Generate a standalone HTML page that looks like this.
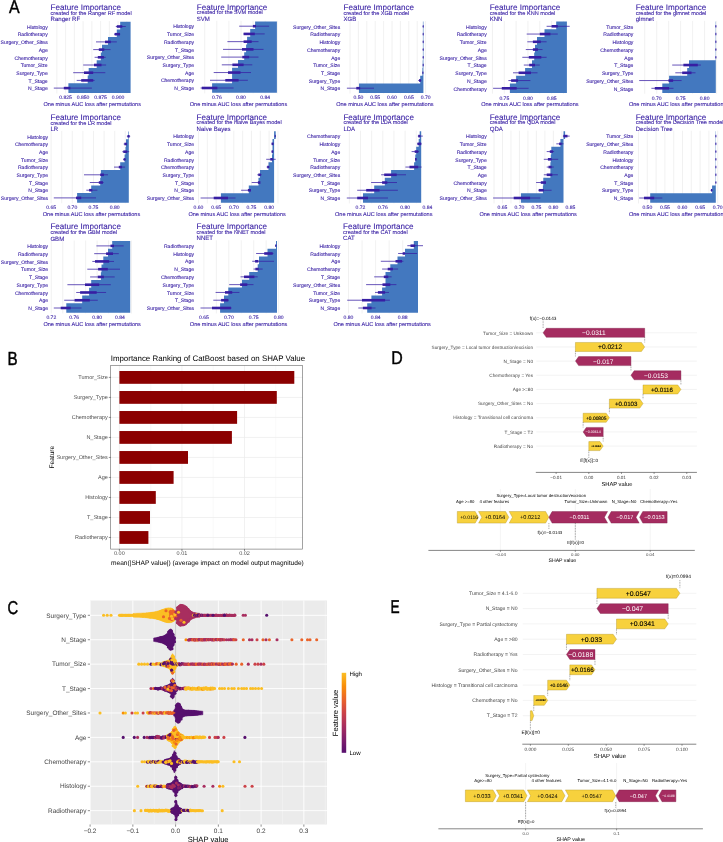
<!DOCTYPE html>
<html><head><meta charset="utf-8"><style>
html,body{margin:0;padding:0;background:#fff;width:723px;height:842px;overflow:hidden}
svg{display:block;will-change:transform;filter:blur(0.35px)}
text{text-rendering:geometricPrecision}
</style></head><body>
<svg width="723" height="842" viewBox="0 0 723 842">
<rect width="723" height="842" fill="#fff"/>
<g font-family='"Liberation Sans", sans-serif'>
<line x1="56.85" y1="21.1" x2="56.85" y2="93.5" stroke="#e5e5e5" stroke-width="0.55"/>
<line x1="65.6" y1="21.1" x2="65.6" y2="93.5" stroke="#e5e5e5" stroke-width="0.55"/>
<line x1="74.35" y1="21.1" x2="74.35" y2="93.5" stroke="#e5e5e5" stroke-width="0.55"/>
<line x1="83.1" y1="21.1" x2="83.1" y2="93.5" stroke="#e5e5e5" stroke-width="0.55"/>
<line x1="91.85" y1="21.1" x2="91.85" y2="93.5" stroke="#e5e5e5" stroke-width="0.55"/>
<line x1="100.6" y1="21.1" x2="100.6" y2="93.5" stroke="#e5e5e5" stroke-width="0.55"/>
<line x1="109.35" y1="21.1" x2="109.35" y2="93.5" stroke="#e5e5e5" stroke-width="0.55"/>
<line x1="118.1" y1="21.1" x2="118.1" y2="93.5" stroke="#e5e5e5" stroke-width="0.55"/>
<line x1="126.85" y1="21.1" x2="126.85" y2="93.5" stroke="#e5e5e5" stroke-width="0.55"/>
<polygon points="130.6,21.7 130.6,29.4 130.6,29.4 130.6,37.1 130.6,37.1 130.6,44.8 130.6,44.8 130.6,52.5 130.6,52.5 130.6,60.2 130.6,60.2 130.6,67.9 130.6,67.9 130.6,75.6 130.6,75.6 130.6,83.3 130.6,83.3 130.6,92.9 68.4,92.9 68.4,83.3 87.7,83.3 87.7,75.6 88.7,75.6 88.7,67.9 96.7,67.9 96.7,60.2 100.9,60.2 100.9,52.5 102,52.5 102,44.8 108,44.8 108,37.1 116.8,37.1 116.8,29.4 120.2,29.4 120.2,21.7" fill="#4378bf"/>
<line x1="115.8" y1="26.5" x2="125.8" y2="26.5" stroke="#371ea3" stroke-width="0.75"/>
<rect x="116.8" y="25.2" width="5.5" height="2.6" fill="#371ea3"/>
<line x1="114" y1="34.2" x2="120.2" y2="34.2" stroke="#371ea3" stroke-width="0.75"/>
<rect x="114.7" y="32.9" width="5.3" height="2.6" fill="#371ea3"/>
<line x1="96" y1="41.9" x2="116.8" y2="41.9" stroke="#371ea3" stroke-width="0.75"/>
<rect x="105" y="40.6" width="5.8" height="2.6" fill="#371ea3"/>
<line x1="93.2" y1="49.6" x2="110.5" y2="49.6" stroke="#371ea3" stroke-width="0.75"/>
<rect x="98.8" y="48.3" width="5.5" height="2.6" fill="#371ea3"/>
<line x1="94.6" y1="57.3" x2="105.7" y2="57.3" stroke="#371ea3" stroke-width="0.75"/>
<rect x="97.8" y="56" width="6.1" height="2.6" fill="#371ea3"/>
<line x1="83.2" y1="65" x2="106.1" y2="65" stroke="#371ea3" stroke-width="0.75"/>
<rect x="94" y="63.7" width="7.5" height="2.6" fill="#371ea3"/>
<line x1="73.2" y1="72.7" x2="105.3" y2="72.7" stroke="#371ea3" stroke-width="0.75"/>
<rect x="84" y="71.4" width="9.2" height="2.6" fill="#371ea3"/>
<line x1="76.7" y1="80.4" x2="94.6" y2="80.4" stroke="#371ea3" stroke-width="0.75"/>
<rect x="81.2" y="79.1" width="12" height="2.6" fill="#371ea3"/>
<line x1="53.8" y1="88.1" x2="91.9" y2="88.1" stroke="#371ea3" stroke-width="0.75"/>
<rect x="63.8" y="86.8" width="6.6" height="2.6" fill="#371ea3"/>
<text x="47.7" y="28.7" font-size="5.05" fill="#371ea3" text-anchor="end" stroke="#371ea3" stroke-width="0.1">Histology</text>
<text x="47.7" y="36.4" font-size="5.05" fill="#371ea3" text-anchor="end" stroke="#371ea3" stroke-width="0.1">Radiotherapy</text>
<text x="47.7" y="44.1" font-size="5.05" fill="#371ea3" text-anchor="end" stroke="#371ea3" stroke-width="0.1">Surgery_Other_Sites</text>
<text x="47.7" y="51.8" font-size="5.05" fill="#371ea3" text-anchor="end" stroke="#371ea3" stroke-width="0.1">Age</text>
<text x="47.7" y="59.5" font-size="5.05" fill="#371ea3" text-anchor="end" stroke="#371ea3" stroke-width="0.1">Chemotherapy</text>
<text x="47.7" y="67.2" font-size="5.05" fill="#371ea3" text-anchor="end" stroke="#371ea3" stroke-width="0.1">Tumor_Size</text>
<text x="47.7" y="74.9" font-size="5.05" fill="#371ea3" text-anchor="end" stroke="#371ea3" stroke-width="0.1">Surgery_Type</text>
<text x="47.7" y="82.6" font-size="5.05" fill="#371ea3" text-anchor="end" stroke="#371ea3" stroke-width="0.1">T_Stage</text>
<text x="47.7" y="90.3" font-size="5.05" fill="#371ea3" text-anchor="end" stroke="#371ea3" stroke-width="0.1">N_Stage</text>
<text x="65.6" y="99.3" font-size="5.05" fill="#371ea3" text-anchor="middle" stroke="#371ea3" stroke-width="0.1">0.825</text>
<text x="83.1" y="99.3" font-size="5.05" fill="#371ea3" text-anchor="middle" stroke="#371ea3" stroke-width="0.1">0.850</text>
<text x="100.6" y="99.3" font-size="5.05" fill="#371ea3" text-anchor="middle" stroke="#371ea3" stroke-width="0.1">0.875</text>
<text x="118.1" y="99.3" font-size="5.05" fill="#371ea3" text-anchor="middle" stroke="#371ea3" stroke-width="0.1">0.900</text>
<text x="92.2" y="106.2" font-size="5.56" fill="#371ea3" text-anchor="middle" stroke="#371ea3" stroke-width="0.1">One minus AUC loss after permutations</text>
<text x="50.6" y="9.9" font-size="8.08" fill="#371ea3" stroke="#371ea3" stroke-width="0.1">Feature Importance</text>
<text x="50.6" y="14.7" font-size="5.56" fill="#371ea3" stroke="#371ea3" stroke-width="0.1">created for the Ranger RF model</text>
<text x="50.6" y="21.2" font-size="6.06" fill="#371ea3" stroke="#371ea3" stroke-width="0.1">Ranger RF</text>
<line x1="204.7" y1="20.8" x2="204.7" y2="93.4" stroke="#e5e5e5" stroke-width="0.55"/>
<line x1="216.8" y1="20.8" x2="216.8" y2="93.4" stroke="#e5e5e5" stroke-width="0.55"/>
<line x1="228.9" y1="20.8" x2="228.9" y2="93.4" stroke="#e5e5e5" stroke-width="0.55"/>
<line x1="241" y1="20.8" x2="241" y2="93.4" stroke="#e5e5e5" stroke-width="0.55"/>
<line x1="253.1" y1="20.8" x2="253.1" y2="93.4" stroke="#e5e5e5" stroke-width="0.55"/>
<line x1="265.2" y1="20.8" x2="265.2" y2="93.4" stroke="#e5e5e5" stroke-width="0.55"/>
<line x1="277.3" y1="20.8" x2="277.3" y2="93.4" stroke="#e5e5e5" stroke-width="0.55"/>
<polygon points="276.9,21.4 276.9,29.12 276.9,29.12 276.9,36.85 276.9,36.85 276.9,44.58 276.9,44.58 276.9,52.3 276.9,52.3 276.9,60.02 276.9,60.02 276.9,67.75 276.9,67.75 276.9,75.47 276.9,75.47 276.9,83.2 276.9,83.2 276.9,92.8 212.1,92.8 212.1,83.2 232.1,83.2 232.1,75.47 232.1,75.47 232.1,67.75 238,67.75 238,60.02 244.2,60.02 244.2,52.3 246.1,52.3 246.1,44.58 247.1,44.58 247.1,36.85 250.2,36.85 250.2,29.12 255.1,29.12 255.1,21.4" fill="#4378bf"/>
<line x1="239.2" y1="26.2" x2="269.1" y2="26.2" stroke="#371ea3" stroke-width="0.75"/>
<rect x="252.9" y="24.9" width="3.1" height="2.6" fill="#371ea3"/>
<line x1="243.6" y1="33.92" x2="264.7" y2="33.92" stroke="#371ea3" stroke-width="0.75"/>
<rect x="243.6" y="32.62" width="11.2" height="2.6" fill="#371ea3"/>
<line x1="227.4" y1="41.65" x2="258.5" y2="41.65" stroke="#371ea3" stroke-width="0.75"/>
<rect x="243.6" y="40.35" width="8.1" height="2.6" fill="#371ea3"/>
<line x1="223" y1="49.38" x2="263.5" y2="49.38" stroke="#371ea3" stroke-width="0.75"/>
<rect x="242" y="48.08" width="11.5" height="2.6" fill="#371ea3"/>
<line x1="221.2" y1="57.1" x2="258.5" y2="57.1" stroke="#371ea3" stroke-width="0.75"/>
<rect x="242.3" y="55.8" width="6.9" height="2.6" fill="#371ea3"/>
<line x1="221.8" y1="64.83" x2="252.3" y2="64.83" stroke="#371ea3" stroke-width="0.75"/>
<rect x="232.4" y="63.53" width="11.2" height="2.6" fill="#371ea3"/>
<line x1="213.7" y1="72.55" x2="251" y2="72.55" stroke="#371ea3" stroke-width="0.75"/>
<rect x="228" y="71.25" width="12.5" height="2.6" fill="#371ea3"/>
<line x1="210" y1="80.28" x2="247.9" y2="80.28" stroke="#371ea3" stroke-width="0.75"/>
<rect x="225.3" y="78.98" width="13.3" height="2.6" fill="#371ea3"/>
<line x1="200.6" y1="88" x2="233.6" y2="88" stroke="#371ea3" stroke-width="0.75"/>
<rect x="201.8" y="86.7" width="15.6" height="2.6" fill="#371ea3"/>
<text x="194" y="28.4" font-size="5.05" fill="#371ea3" text-anchor="end" stroke="#371ea3" stroke-width="0.1">Histology</text>
<text x="194" y="36.12" font-size="5.05" fill="#371ea3" text-anchor="end" stroke="#371ea3" stroke-width="0.1">Tumor_Size</text>
<text x="194" y="43.85" font-size="5.05" fill="#371ea3" text-anchor="end" stroke="#371ea3" stroke-width="0.1">Radiotherapy</text>
<text x="194" y="51.58" font-size="5.05" fill="#371ea3" text-anchor="end" stroke="#371ea3" stroke-width="0.1">T_Stage</text>
<text x="194" y="59.3" font-size="5.05" fill="#371ea3" text-anchor="end" stroke="#371ea3" stroke-width="0.1">Surgery_Other_Sites</text>
<text x="194" y="67.03" font-size="5.05" fill="#371ea3" text-anchor="end" stroke="#371ea3" stroke-width="0.1">Surgery_Type</text>
<text x="194" y="74.75" font-size="5.05" fill="#371ea3" text-anchor="end" stroke="#371ea3" stroke-width="0.1">Age</text>
<text x="194" y="82.48" font-size="5.05" fill="#371ea3" text-anchor="end" stroke="#371ea3" stroke-width="0.1">Chemotherapy</text>
<text x="194" y="90.2" font-size="5.05" fill="#371ea3" text-anchor="end" stroke="#371ea3" stroke-width="0.1">N_Stage</text>
<text x="216.8" y="99.2" font-size="5.05" fill="#371ea3" text-anchor="middle" stroke="#371ea3" stroke-width="0.1">0.76</text>
<text x="241" y="99.2" font-size="5.05" fill="#371ea3" text-anchor="middle" stroke="#371ea3" stroke-width="0.1">0.80</text>
<text x="265.2" y="99.2" font-size="5.05" fill="#371ea3" text-anchor="middle" stroke="#371ea3" stroke-width="0.1">0.84</text>
<text x="238.5" y="106.1" font-size="5.56" fill="#371ea3" text-anchor="middle" stroke="#371ea3" stroke-width="0.1">One minus AUC loss after permutations</text>
<text x="196.8" y="9.6" font-size="8.08" fill="#371ea3" stroke="#371ea3" stroke-width="0.1">Feature Importance</text>
<text x="196.8" y="14.4" font-size="5.56" fill="#371ea3" stroke="#371ea3" stroke-width="0.1">created for the SVM model</text>
<text x="196.8" y="20.9" font-size="6.06" fill="#371ea3" stroke="#371ea3" stroke-width="0.1">SVM</text>
<line x1="350" y1="21" x2="350" y2="93.6" stroke="#e5e5e5" stroke-width="0.55"/>
<line x1="358.4" y1="21" x2="358.4" y2="93.6" stroke="#e5e5e5" stroke-width="0.55"/>
<line x1="366.8" y1="21" x2="366.8" y2="93.6" stroke="#e5e5e5" stroke-width="0.55"/>
<line x1="375.2" y1="21" x2="375.2" y2="93.6" stroke="#e5e5e5" stroke-width="0.55"/>
<line x1="383.6" y1="21" x2="383.6" y2="93.6" stroke="#e5e5e5" stroke-width="0.55"/>
<line x1="392" y1="21" x2="392" y2="93.6" stroke="#e5e5e5" stroke-width="0.55"/>
<line x1="400.4" y1="21" x2="400.4" y2="93.6" stroke="#e5e5e5" stroke-width="0.55"/>
<line x1="408.8" y1="21" x2="408.8" y2="93.6" stroke="#e5e5e5" stroke-width="0.55"/>
<line x1="417.2" y1="21" x2="417.2" y2="93.6" stroke="#e5e5e5" stroke-width="0.55"/>
<line x1="425.6" y1="21" x2="425.6" y2="93.6" stroke="#e5e5e5" stroke-width="0.55"/>
<polygon points="423.4,21.6 423.4,29.33 423.4,29.33 423.4,37.05 423.4,37.05 423.4,44.78 423.4,44.78 423.4,52.5 423.4,52.5 423.4,60.23 423.4,60.23 423.4,67.95 423.4,67.95 423.4,75.67 423.4,75.68 423.4,83.4 423.4,83.4 423.4,93 359,93 359,83.4 420.2,83.4 420.2,75.68 422.4,75.67 422.4,67.95 422.7,67.95 422.7,60.23 422.9,60.23 422.9,52.5 422.9,52.5 422.9,44.78 422.9,44.78 422.9,37.05 422.9,37.05 422.9,29.33 422.9,29.33 422.9,21.6" fill="#4378bf"/>
<line x1="422.6" y1="26.4" x2="423.6" y2="26.4" stroke="#371ea3" stroke-width="0.75"/>
<rect x="422.8" y="25.1" width="0.8" height="2.6" fill="#371ea3"/>
<line x1="422.6" y1="34.12" x2="423.6" y2="34.12" stroke="#371ea3" stroke-width="0.75"/>
<rect x="422.8" y="32.83" width="0.8" height="2.6" fill="#371ea3"/>
<line x1="422.6" y1="41.85" x2="423.6" y2="41.85" stroke="#371ea3" stroke-width="0.75"/>
<rect x="422.8" y="40.55" width="0.8" height="2.6" fill="#371ea3"/>
<line x1="422.6" y1="49.58" x2="423.6" y2="49.58" stroke="#371ea3" stroke-width="0.75"/>
<rect x="422.8" y="48.28" width="0.8" height="2.6" fill="#371ea3"/>
<line x1="422.6" y1="57.3" x2="423.6" y2="57.3" stroke="#371ea3" stroke-width="0.75"/>
<rect x="422.8" y="56" width="0.8" height="2.6" fill="#371ea3"/>
<line x1="422.6" y1="65.03" x2="423.6" y2="65.03" stroke="#371ea3" stroke-width="0.75"/>
<rect x="422.8" y="63.73" width="0.8" height="2.6" fill="#371ea3"/>
<line x1="422.2" y1="72.75" x2="423.4" y2="72.75" stroke="#371ea3" stroke-width="0.75"/>
<rect x="422.5" y="71.45" width="0.8" height="2.6" fill="#371ea3"/>
<line x1="418.2" y1="80.48" x2="421.3" y2="80.48" stroke="#371ea3" stroke-width="0.75"/>
<rect x="419" y="79.18" width="2" height="2.6" fill="#371ea3"/>
<line x1="346.9" y1="88.2" x2="374" y2="88.2" stroke="#371ea3" stroke-width="0.75"/>
<rect x="356.3" y="86.9" width="3.9" height="2.6" fill="#371ea3"/>
<text x="340.2" y="28.6" font-size="5.05" fill="#371ea3" text-anchor="end" stroke="#371ea3" stroke-width="0.1">Surgery_Other_Sites</text>
<text x="340.2" y="36.33" font-size="5.05" fill="#371ea3" text-anchor="end" stroke="#371ea3" stroke-width="0.1">Radiotherapy</text>
<text x="340.2" y="44.05" font-size="5.05" fill="#371ea3" text-anchor="end" stroke="#371ea3" stroke-width="0.1">Histology</text>
<text x="340.2" y="51.78" font-size="5.05" fill="#371ea3" text-anchor="end" stroke="#371ea3" stroke-width="0.1">Chemotherapy</text>
<text x="340.2" y="59.5" font-size="5.05" fill="#371ea3" text-anchor="end" stroke="#371ea3" stroke-width="0.1">Age</text>
<text x="340.2" y="67.23" font-size="5.05" fill="#371ea3" text-anchor="end" stroke="#371ea3" stroke-width="0.1">Tumor_Size</text>
<text x="340.2" y="74.95" font-size="5.05" fill="#371ea3" text-anchor="end" stroke="#371ea3" stroke-width="0.1">T_Stage</text>
<text x="340.2" y="82.68" font-size="5.05" fill="#371ea3" text-anchor="end" stroke="#371ea3" stroke-width="0.1">Surgery_Type</text>
<text x="340.2" y="90.4" font-size="5.05" fill="#371ea3" text-anchor="end" stroke="#371ea3" stroke-width="0.1">N_Stage</text>
<text x="358.4" y="99.4" font-size="5.05" fill="#371ea3" text-anchor="middle" stroke="#371ea3" stroke-width="0.1">0.50</text>
<text x="375.2" y="99.4" font-size="5.05" fill="#371ea3" text-anchor="middle" stroke="#371ea3" stroke-width="0.1">0.55</text>
<text x="392" y="99.4" font-size="5.05" fill="#371ea3" text-anchor="middle" stroke="#371ea3" stroke-width="0.1">0.60</text>
<text x="408.8" y="99.4" font-size="5.05" fill="#371ea3" text-anchor="middle" stroke="#371ea3" stroke-width="0.1">0.65</text>
<text x="425.6" y="99.4" font-size="5.05" fill="#371ea3" text-anchor="middle" stroke="#371ea3" stroke-width="0.1">0.70</text>
<text x="384.85" y="106.3" font-size="5.56" fill="#371ea3" text-anchor="middle" stroke="#371ea3" stroke-width="0.1">One minus AUC loss after permutations</text>
<text x="343.5" y="9.8" font-size="8.08" fill="#371ea3" stroke="#371ea3" stroke-width="0.1">Feature Importance</text>
<text x="343.5" y="14.6" font-size="5.56" fill="#371ea3" stroke="#371ea3" stroke-width="0.1">created for the XGB model</text>
<text x="343.5" y="21.1" font-size="6.06" fill="#371ea3" stroke="#371ea3" stroke-width="0.1">XGB</text>
<line x1="492.47" y1="20.9" x2="492.47" y2="93.7" stroke="#e5e5e5" stroke-width="0.55"/>
<line x1="504.3" y1="20.9" x2="504.3" y2="93.7" stroke="#e5e5e5" stroke-width="0.55"/>
<line x1="516.13" y1="20.9" x2="516.13" y2="93.7" stroke="#e5e5e5" stroke-width="0.55"/>
<line x1="527.96" y1="20.9" x2="527.96" y2="93.7" stroke="#e5e5e5" stroke-width="0.55"/>
<line x1="539.79" y1="20.9" x2="539.79" y2="93.7" stroke="#e5e5e5" stroke-width="0.55"/>
<line x1="551.62" y1="20.9" x2="551.62" y2="93.7" stroke="#e5e5e5" stroke-width="0.55"/>
<line x1="563.45" y1="20.9" x2="563.45" y2="93.7" stroke="#e5e5e5" stroke-width="0.55"/>
<polygon points="566.9,21.5 566.9,29.25 566.9,29.25 566.9,37 566.9,37 566.9,44.75 566.9,44.75 566.9,52.5 566.9,52.5 566.9,60.25 566.9,60.25 566.9,68 566.9,68 566.9,75.75 566.9,75.75 566.9,83.5 566.9,83.5 566.9,93.1 509.9,93.1 509.9,83.5 516.1,83.5 516.1,75.75 525.1,75.75 525.1,68 532,68 532,60.25 534.2,60.25 534.2,52.5 535,52.5 535,44.75 537,44.75 537,37 544.5,37 544.5,29.25 556.2,29.25 556.2,21.5" fill="#4378bf"/>
<line x1="546.6" y1="26.3" x2="569.7" y2="26.3" stroke="#371ea3" stroke-width="0.75"/>
<rect x="551.6" y="25" width="6.2" height="2.6" fill="#371ea3"/>
<line x1="526.7" y1="34.05" x2="557.8" y2="34.05" stroke="#371ea3" stroke-width="0.75"/>
<rect x="539.8" y="32.75" width="10.6" height="2.6" fill="#371ea3"/>
<line x1="527.3" y1="41.8" x2="546.6" y2="41.8" stroke="#371ea3" stroke-width="0.75"/>
<rect x="532.9" y="40.5" width="7.9" height="2.6" fill="#371ea3"/>
<line x1="525.8" y1="49.55" x2="542.5" y2="49.55" stroke="#371ea3" stroke-width="0.75"/>
<rect x="532.9" y="48.25" width="5" height="2.6" fill="#371ea3"/>
<line x1="522.3" y1="57.3" x2="546.6" y2="57.3" stroke="#371ea3" stroke-width="0.75"/>
<rect x="528.8" y="56" width="12.5" height="2.6" fill="#371ea3"/>
<line x1="523.8" y1="65.05" x2="539.8" y2="65.05" stroke="#371ea3" stroke-width="0.75"/>
<rect x="529.2" y="63.75" width="5.8" height="2.6" fill="#371ea3"/>
<line x1="513" y1="72.8" x2="537.5" y2="72.8" stroke="#371ea3" stroke-width="0.75"/>
<rect x="518.6" y="71.5" width="12.4" height="2.6" fill="#371ea3"/>
<line x1="508.4" y1="80.55" x2="530.4" y2="80.55" stroke="#371ea3" stroke-width="0.75"/>
<rect x="511.1" y="79.25" width="6.9" height="2.6" fill="#371ea3"/>
<line x1="493.1" y1="88.3" x2="528.6" y2="88.3" stroke="#371ea3" stroke-width="0.75"/>
<rect x="501.8" y="87" width="14.9" height="2.6" fill="#371ea3"/>
<text x="486.7" y="28.5" font-size="5.05" fill="#371ea3" text-anchor="end" stroke="#371ea3" stroke-width="0.1">Histology</text>
<text x="486.7" y="36.25" font-size="5.05" fill="#371ea3" text-anchor="end" stroke="#371ea3" stroke-width="0.1">Radiotherapy</text>
<text x="486.7" y="44" font-size="5.05" fill="#371ea3" text-anchor="end" stroke="#371ea3" stroke-width="0.1">Tumor_Size</text>
<text x="486.7" y="51.75" font-size="5.05" fill="#371ea3" text-anchor="end" stroke="#371ea3" stroke-width="0.1">Age</text>
<text x="486.7" y="59.5" font-size="5.05" fill="#371ea3" text-anchor="end" stroke="#371ea3" stroke-width="0.1">Surgery_Other_Sites</text>
<text x="486.7" y="67.25" font-size="5.05" fill="#371ea3" text-anchor="end" stroke="#371ea3" stroke-width="0.1">T_Stage</text>
<text x="486.7" y="75" font-size="5.05" fill="#371ea3" text-anchor="end" stroke="#371ea3" stroke-width="0.1">Surgery_Type</text>
<text x="486.7" y="82.75" font-size="5.05" fill="#371ea3" text-anchor="end" stroke="#371ea3" stroke-width="0.1">N_Stage</text>
<text x="486.7" y="90.5" font-size="5.05" fill="#371ea3" text-anchor="end" stroke="#371ea3" stroke-width="0.1">Chemotherapy</text>
<text x="504.3" y="99.5" font-size="5.05" fill="#371ea3" text-anchor="middle" stroke="#371ea3" stroke-width="0.1">0.75</text>
<text x="527.96" y="99.5" font-size="5.05" fill="#371ea3" text-anchor="middle" stroke="#371ea3" stroke-width="0.1">0.80</text>
<text x="551.62" y="99.5" font-size="5.05" fill="#371ea3" text-anchor="middle" stroke="#371ea3" stroke-width="0.1">0.85</text>
<text x="529.85" y="106.4" font-size="5.56" fill="#371ea3" text-anchor="middle" stroke="#371ea3" stroke-width="0.1">One minus AUC loss after permutations</text>
<text x="489.7" y="9.7" font-size="8.08" fill="#371ea3" stroke="#371ea3" stroke-width="0.1">Feature Importance</text>
<text x="489.7" y="14.5" font-size="5.56" fill="#371ea3" stroke="#371ea3" stroke-width="0.1">created for the KNN model</text>
<text x="489.7" y="21" font-size="6.06" fill="#371ea3" stroke="#371ea3" stroke-width="0.1">KNN</text>
<line x1="644.73" y1="20.9" x2="644.73" y2="93.7" stroke="#e5e5e5" stroke-width="0.55"/>
<line x1="656.7" y1="20.9" x2="656.7" y2="93.7" stroke="#e5e5e5" stroke-width="0.55"/>
<line x1="668.67" y1="20.9" x2="668.67" y2="93.7" stroke="#e5e5e5" stroke-width="0.55"/>
<line x1="680.64" y1="20.9" x2="680.64" y2="93.7" stroke="#e5e5e5" stroke-width="0.55"/>
<line x1="692.61" y1="20.9" x2="692.61" y2="93.7" stroke="#e5e5e5" stroke-width="0.55"/>
<line x1="704.58" y1="20.9" x2="704.58" y2="93.7" stroke="#e5e5e5" stroke-width="0.55"/>
<line x1="716.55" y1="20.9" x2="716.55" y2="93.7" stroke="#e5e5e5" stroke-width="0.55"/>
<polygon points="715.8,21.5 715.8,29.25 715.8,29.25 715.8,37 715.8,37 715.8,44.75 715.8,44.75 715.8,52.5 715.8,52.5 715.8,60.25 715.8,60.25 715.8,68 715.8,68 715.8,75.75 715.8,75.75 715.8,83.5 715.8,83.5 715.8,93.1 662.3,93.1 662.3,83.5 669.1,83.5 669.1,75.75 687.2,75.75 687.2,68 689,68 689,60.25 715.5,60.25 715.5,52.5 715.5,52.5 715.5,44.75 715.5,44.75 715.5,37 715.5,37 715.5,29.25 715.5,29.25 715.5,21.5" fill="#4378bf"/>
<line x1="715.3" y1="26.3" x2="716.3" y2="26.3" stroke="#371ea3" stroke-width="0.75"/>
<rect x="715.5" y="25" width="0.8" height="2.6" fill="#371ea3"/>
<line x1="715.3" y1="34.05" x2="716.3" y2="34.05" stroke="#371ea3" stroke-width="0.75"/>
<rect x="715.5" y="32.75" width="0.8" height="2.6" fill="#371ea3"/>
<line x1="715.3" y1="41.8" x2="716.3" y2="41.8" stroke="#371ea3" stroke-width="0.75"/>
<rect x="715.5" y="40.5" width="0.8" height="2.6" fill="#371ea3"/>
<line x1="715.3" y1="49.55" x2="716.3" y2="49.55" stroke="#371ea3" stroke-width="0.75"/>
<rect x="715.5" y="48.25" width="0.8" height="2.6" fill="#371ea3"/>
<line x1="715.3" y1="57.3" x2="716.3" y2="57.3" stroke="#371ea3" stroke-width="0.75"/>
<rect x="715.5" y="56" width="0.8" height="2.6" fill="#371ea3"/>
<line x1="672.2" y1="65.05" x2="700.9" y2="65.05" stroke="#371ea3" stroke-width="0.75"/>
<rect x="683.4" y="63.75" width="14.4" height="2.6" fill="#371ea3"/>
<line x1="675.3" y1="72.8" x2="695.5" y2="72.8" stroke="#371ea3" stroke-width="0.75"/>
<rect x="682.2" y="71.5" width="9.3" height="2.6" fill="#371ea3"/>
<line x1="639.2" y1="80.55" x2="681.6" y2="80.55" stroke="#371ea3" stroke-width="0.75"/>
<rect x="668.5" y="79.25" width="4.6" height="2.6" fill="#371ea3"/>
<line x1="651.4" y1="88.3" x2="673.5" y2="88.3" stroke="#371ea3" stroke-width="0.75"/>
<rect x="654.8" y="87" width="14.3" height="2.6" fill="#371ea3"/>
<text x="633.3" y="28.5" font-size="5.05" fill="#371ea3" text-anchor="end" stroke="#371ea3" stroke-width="0.1">Tumor_Size</text>
<text x="633.3" y="36.25" font-size="5.05" fill="#371ea3" text-anchor="end" stroke="#371ea3" stroke-width="0.1">Radiotherapy</text>
<text x="633.3" y="44" font-size="5.05" fill="#371ea3" text-anchor="end" stroke="#371ea3" stroke-width="0.1">Histology</text>
<text x="633.3" y="51.75" font-size="5.05" fill="#371ea3" text-anchor="end" stroke="#371ea3" stroke-width="0.1">Chemotherapy</text>
<text x="633.3" y="59.5" font-size="5.05" fill="#371ea3" text-anchor="end" stroke="#371ea3" stroke-width="0.1">Age</text>
<text x="633.3" y="67.25" font-size="5.05" fill="#371ea3" text-anchor="end" stroke="#371ea3" stroke-width="0.1">T_Stage</text>
<text x="633.3" y="75" font-size="5.05" fill="#371ea3" text-anchor="end" stroke="#371ea3" stroke-width="0.1">Surgery_Type</text>
<text x="633.3" y="82.75" font-size="5.05" fill="#371ea3" text-anchor="end" stroke="#371ea3" stroke-width="0.1">Surgery_Other_Sites</text>
<text x="633.3" y="90.5" font-size="5.05" fill="#371ea3" text-anchor="end" stroke="#371ea3" stroke-width="0.1">N_Stage</text>
<text x="656.7" y="99.5" font-size="5.05" fill="#371ea3" text-anchor="middle" stroke="#371ea3" stroke-width="0.1">0.70</text>
<text x="680.64" y="99.5" font-size="5.05" fill="#371ea3" text-anchor="middle" stroke="#371ea3" stroke-width="0.1">0.75</text>
<text x="704.58" y="99.5" font-size="5.05" fill="#371ea3" text-anchor="middle" stroke="#371ea3" stroke-width="0.1">0.80</text>
<text x="677.6" y="106.4" font-size="5.56" fill="#371ea3" text-anchor="middle" stroke="#371ea3" stroke-width="0.1">One minus AUC loss after permutations</text>
<text x="635.7" y="9.7" font-size="8.08" fill="#371ea3" stroke="#371ea3" stroke-width="0.1">Feature Importance</text>
<text x="635.7" y="14.5" font-size="5.56" fill="#371ea3" stroke="#371ea3" stroke-width="0.1">created for the glmnet model</text>
<text x="635.7" y="21" font-size="6.06" fill="#371ea3" stroke="#371ea3" stroke-width="0.1">glmnet</text>
<line x1="51.1" y1="130.9" x2="51.1" y2="203.3" stroke="#e5e5e5" stroke-width="0.55"/>
<line x1="61.7" y1="130.9" x2="61.7" y2="203.3" stroke="#e5e5e5" stroke-width="0.55"/>
<line x1="72.3" y1="130.9" x2="72.3" y2="203.3" stroke="#e5e5e5" stroke-width="0.55"/>
<line x1="82.9" y1="130.9" x2="82.9" y2="203.3" stroke="#e5e5e5" stroke-width="0.55"/>
<line x1="93.5" y1="130.9" x2="93.5" y2="203.3" stroke="#e5e5e5" stroke-width="0.55"/>
<line x1="104.1" y1="130.9" x2="104.1" y2="203.3" stroke="#e5e5e5" stroke-width="0.55"/>
<line x1="114.7" y1="130.9" x2="114.7" y2="203.3" stroke="#e5e5e5" stroke-width="0.55"/>
<line x1="125.3" y1="130.9" x2="125.3" y2="203.3" stroke="#e5e5e5" stroke-width="0.55"/>
<polygon points="128.8,131.5 128.8,139.2 128.8,139.2 128.8,146.9 128.8,146.9 128.8,154.6 128.8,154.6 128.8,162.3 128.8,162.3 128.8,170 128.8,170 128.8,177.7 128.8,177.7 128.8,185.4 128.8,185.4 128.8,193.1 128.8,193.1 128.8,202.7 77.1,202.7 77.1,193.1 91.2,193.1 91.2,185.4 100.2,185.4 100.2,177.7 100.9,177.7 100.9,170 120.2,170 120.2,162.3 124.6,162.3 124.6,154.6 125.5,154.6 125.5,146.9 126,146.9 126,139.2 128.2,139.2 128.2,131.5" fill="#4378bf"/>
<line x1="126.9" y1="136.3" x2="130.2" y2="136.3" stroke="#371ea3" stroke-width="0.75"/>
<rect x="127.5" y="135" width="2.1" height="2.6" fill="#371ea3"/>
<line x1="123.7" y1="144" x2="127.1" y2="144" stroke="#371ea3" stroke-width="0.75"/>
<rect x="124.4" y="142.7" width="2.5" height="2.6" fill="#371ea3"/>
<line x1="122.3" y1="151.7" x2="129.2" y2="151.7" stroke="#371ea3" stroke-width="0.75"/>
<rect x="123.3" y="150.4" width="3.8" height="2.6" fill="#371ea3"/>
<line x1="123" y1="159.4" x2="126" y2="159.4" stroke="#371ea3" stroke-width="0.75"/>
<rect x="123.7" y="158.1" width="1.8" height="2.6" fill="#371ea3"/>
<line x1="114" y1="167.1" x2="125.1" y2="167.1" stroke="#371ea3" stroke-width="0.75"/>
<rect x="118.8" y="165.8" width="3.1" height="2.6" fill="#371ea3"/>
<line x1="84" y1="174.8" x2="108" y2="174.8" stroke="#371ea3" stroke-width="0.75"/>
<rect x="100.2" y="173.5" width="3.7" height="2.6" fill="#371ea3"/>
<line x1="89.8" y1="182.5" x2="103.6" y2="182.5" stroke="#371ea3" stroke-width="0.75"/>
<rect x="98.8" y="181.2" width="4.1" height="2.6" fill="#371ea3"/>
<line x1="86.3" y1="190.2" x2="97.4" y2="190.2" stroke="#371ea3" stroke-width="0.75"/>
<rect x="89.1" y="188.9" width="3.2" height="2.6" fill="#371ea3"/>
<line x1="53.8" y1="197.9" x2="96" y2="197.9" stroke="#371ea3" stroke-width="0.75"/>
<rect x="76" y="196.6" width="5.2" height="2.6" fill="#371ea3"/>
<text x="48" y="138.5" font-size="5.05" fill="#371ea3" text-anchor="end" stroke="#371ea3" stroke-width="0.1">Histology</text>
<text x="48" y="146.2" font-size="5.05" fill="#371ea3" text-anchor="end" stroke="#371ea3" stroke-width="0.1">Chemotherapy</text>
<text x="48" y="153.9" font-size="5.05" fill="#371ea3" text-anchor="end" stroke="#371ea3" stroke-width="0.1">Age</text>
<text x="48" y="161.6" font-size="5.05" fill="#371ea3" text-anchor="end" stroke="#371ea3" stroke-width="0.1">Tumor_Size</text>
<text x="48" y="169.3" font-size="5.05" fill="#371ea3" text-anchor="end" stroke="#371ea3" stroke-width="0.1">Radiotherapy</text>
<text x="48" y="177" font-size="5.05" fill="#371ea3" text-anchor="end" stroke="#371ea3" stroke-width="0.1">Surgery_Type</text>
<text x="48" y="184.7" font-size="5.05" fill="#371ea3" text-anchor="end" stroke="#371ea3" stroke-width="0.1">T_Stage</text>
<text x="48" y="192.4" font-size="5.05" fill="#371ea3" text-anchor="end" stroke="#371ea3" stroke-width="0.1">N_Stage</text>
<text x="48" y="200.1" font-size="5.05" fill="#371ea3" text-anchor="end" stroke="#371ea3" stroke-width="0.1">Surgery_Other_Sites</text>
<text x="51.1" y="209.1" font-size="5.05" fill="#371ea3" text-anchor="middle" stroke="#371ea3" stroke-width="0.1">0.65</text>
<text x="72.3" y="209.1" font-size="5.05" fill="#371ea3" text-anchor="middle" stroke="#371ea3" stroke-width="0.1">0.70</text>
<text x="93.5" y="209.1" font-size="5.05" fill="#371ea3" text-anchor="middle" stroke="#371ea3" stroke-width="0.1">0.75</text>
<text x="114.7" y="209.1" font-size="5.05" fill="#371ea3" text-anchor="middle" stroke="#371ea3" stroke-width="0.1">0.80</text>
<text x="91.45" y="216" font-size="5.56" fill="#371ea3" text-anchor="middle" stroke="#371ea3" stroke-width="0.1">One minus AUC loss after permutations</text>
<text x="50.5" y="119.7" font-size="8.08" fill="#371ea3" stroke="#371ea3" stroke-width="0.1">Feature Importance</text>
<text x="50.5" y="124.5" font-size="5.56" fill="#371ea3" stroke="#371ea3" stroke-width="0.1">created for the LR model</text>
<text x="50.5" y="131" font-size="6.06" fill="#371ea3" stroke="#371ea3" stroke-width="0.1">LR</text>
<line x1="198.5" y1="130.7" x2="198.5" y2="203.4" stroke="#e5e5e5" stroke-width="0.55"/>
<line x1="207.33" y1="130.7" x2="207.33" y2="203.4" stroke="#e5e5e5" stroke-width="0.55"/>
<line x1="216.16" y1="130.7" x2="216.16" y2="203.4" stroke="#e5e5e5" stroke-width="0.55"/>
<line x1="224.99" y1="130.7" x2="224.99" y2="203.4" stroke="#e5e5e5" stroke-width="0.55"/>
<line x1="233.82" y1="130.7" x2="233.82" y2="203.4" stroke="#e5e5e5" stroke-width="0.55"/>
<line x1="242.65" y1="130.7" x2="242.65" y2="203.4" stroke="#e5e5e5" stroke-width="0.55"/>
<line x1="251.48" y1="130.7" x2="251.48" y2="203.4" stroke="#e5e5e5" stroke-width="0.55"/>
<line x1="260.31" y1="130.7" x2="260.31" y2="203.4" stroke="#e5e5e5" stroke-width="0.55"/>
<line x1="269.14" y1="130.7" x2="269.14" y2="203.4" stroke="#e5e5e5" stroke-width="0.55"/>
<line x1="277.97" y1="130.7" x2="277.97" y2="203.4" stroke="#e5e5e5" stroke-width="0.55"/>
<polygon points="275.7,131.3 275.7,139.04 274.1,139.04 274.1,146.78 274.1,146.78 274.1,154.51 274.1,154.51 274.1,162.25 274.1,162.25 274.1,169.99 274.1,169.99 274.1,177.73 274.1,177.73 274.1,185.46 274.1,185.46 274.1,193.2 274.1,193.2 274.1,202.8 220.9,202.8 220.9,193.2 248.8,193.2 248.8,185.46 258.5,185.46 258.5,177.73 260,177.73 260,169.99 268.5,169.99 268.5,162.25 272,162.25 272,154.51 272.5,154.51 272.5,146.78 272.5,146.78 272.5,139.04 274.1,139.04 274.1,131.3" fill="#4378bf"/>
<line x1="274.5" y1="136.1" x2="276" y2="136.1" stroke="#371ea3" stroke-width="0.75"/>
<rect x="274.8" y="134.8" width="0.8" height="2.6" fill="#371ea3"/>
<line x1="271.6" y1="143.84" x2="273.5" y2="143.84" stroke="#371ea3" stroke-width="0.75"/>
<rect x="271.6" y="142.54" width="1.9" height="2.6" fill="#371ea3"/>
<line x1="271.6" y1="151.58" x2="273.2" y2="151.58" stroke="#371ea3" stroke-width="0.75"/>
<rect x="271.6" y="150.28" width="1.6" height="2.6" fill="#371ea3"/>
<line x1="266.2" y1="159.31" x2="275.7" y2="159.31" stroke="#371ea3" stroke-width="0.75"/>
<rect x="270.3" y="158.01" width="2.5" height="2.6" fill="#371ea3"/>
<line x1="266.6" y1="167.05" x2="269.7" y2="167.05" stroke="#371ea3" stroke-width="0.75"/>
<rect x="267.2" y="165.75" width="1.9" height="2.6" fill="#371ea3"/>
<line x1="257.3" y1="174.79" x2="261.6" y2="174.79" stroke="#371ea3" stroke-width="0.75"/>
<rect x="258.3" y="173.49" width="2.5" height="2.6" fill="#371ea3"/>
<line x1="251.7" y1="182.53" x2="259.8" y2="182.53" stroke="#371ea3" stroke-width="0.75"/>
<rect x="257.9" y="181.23" width="2.5" height="2.6" fill="#371ea3"/>
<line x1="241.1" y1="190.26" x2="250.4" y2="190.26" stroke="#371ea3" stroke-width="0.75"/>
<rect x="247.9" y="188.96" width="3.1" height="2.6" fill="#371ea3"/>
<line x1="200.6" y1="198" x2="235.5" y2="198" stroke="#371ea3" stroke-width="0.75"/>
<rect x="213.7" y="196.7" width="14.3" height="2.6" fill="#371ea3"/>
<text x="194" y="138.3" font-size="5.05" fill="#371ea3" text-anchor="end" stroke="#371ea3" stroke-width="0.1">Histology</text>
<text x="194" y="146.04" font-size="5.05" fill="#371ea3" text-anchor="end" stroke="#371ea3" stroke-width="0.1">Tumor_Size</text>
<text x="194" y="153.78" font-size="5.05" fill="#371ea3" text-anchor="end" stroke="#371ea3" stroke-width="0.1">Age</text>
<text x="194" y="161.51" font-size="5.05" fill="#371ea3" text-anchor="end" stroke="#371ea3" stroke-width="0.1">Radiotherapy</text>
<text x="194" y="169.25" font-size="5.05" fill="#371ea3" text-anchor="end" stroke="#371ea3" stroke-width="0.1">Chemotherapy</text>
<text x="194" y="176.99" font-size="5.05" fill="#371ea3" text-anchor="end" stroke="#371ea3" stroke-width="0.1">Surgery_Type</text>
<text x="194" y="184.73" font-size="5.05" fill="#371ea3" text-anchor="end" stroke="#371ea3" stroke-width="0.1">T_Stage</text>
<text x="194" y="192.46" font-size="5.05" fill="#371ea3" text-anchor="end" stroke="#371ea3" stroke-width="0.1">N_Stage</text>
<text x="194" y="200.2" font-size="5.05" fill="#371ea3" text-anchor="end" stroke="#371ea3" stroke-width="0.1">Surgery_Other_Sites</text>
<text x="198.5" y="209.2" font-size="5.05" fill="#371ea3" text-anchor="middle" stroke="#371ea3" stroke-width="0.1">0.60</text>
<text x="216.16" y="209.2" font-size="5.05" fill="#371ea3" text-anchor="middle" stroke="#371ea3" stroke-width="0.1">0.65</text>
<text x="233.82" y="209.2" font-size="5.05" fill="#371ea3" text-anchor="middle" stroke="#371ea3" stroke-width="0.1">0.70</text>
<text x="251.48" y="209.2" font-size="5.05" fill="#371ea3" text-anchor="middle" stroke="#371ea3" stroke-width="0.1">0.75</text>
<text x="269.14" y="209.2" font-size="5.05" fill="#371ea3" text-anchor="middle" stroke="#371ea3" stroke-width="0.1">0.80</text>
<text x="237.1" y="216.1" font-size="5.56" fill="#371ea3" text-anchor="middle" stroke="#371ea3" stroke-width="0.1">One minus AUC loss after permutations</text>
<text x="196.6" y="119.5" font-size="8.08" fill="#371ea3" stroke="#371ea3" stroke-width="0.1">Feature Importance</text>
<text x="196.6" y="124.3" font-size="5.56" fill="#371ea3" stroke="#371ea3" stroke-width="0.1">created for the Naive Bayes model</text>
<text x="196.6" y="130.8" font-size="6.06" fill="#371ea3" stroke="#371ea3" stroke-width="0.1">Naive Bayes</text>
<line x1="349.35" y1="130.7" x2="349.35" y2="203.4" stroke="#e5e5e5" stroke-width="0.55"/>
<line x1="360.5" y1="130.7" x2="360.5" y2="203.4" stroke="#e5e5e5" stroke-width="0.55"/>
<line x1="371.65" y1="130.7" x2="371.65" y2="203.4" stroke="#e5e5e5" stroke-width="0.55"/>
<line x1="382.8" y1="130.7" x2="382.8" y2="203.4" stroke="#e5e5e5" stroke-width="0.55"/>
<line x1="393.95" y1="130.7" x2="393.95" y2="203.4" stroke="#e5e5e5" stroke-width="0.55"/>
<line x1="405.1" y1="130.7" x2="405.1" y2="203.4" stroke="#e5e5e5" stroke-width="0.55"/>
<line x1="416.25" y1="130.7" x2="416.25" y2="203.4" stroke="#e5e5e5" stroke-width="0.55"/>
<polygon points="421.2,131.3 421.2,139.04 421.2,139.04 421.2,146.78 421.2,146.78 421.2,154.51 421.2,154.51 421.2,162.25 421.2,162.25 421.2,169.99 421.2,169.99 421.2,177.73 421.2,177.73 421.2,185.46 421.2,185.46 421.2,193.2 421.2,193.2 421.2,202.8 363,202.8 363,193.2 374.2,193.2 374.2,185.46 384.8,185.46 384.8,177.73 391.1,177.73 391.1,169.99 414.1,169.99 414.1,162.25 415.3,162.25 415.3,154.51 416.2,154.51 416.2,146.78 418.7,146.78 418.7,139.04 419.7,139.04 419.7,131.3" fill="#4378bf"/>
<line x1="417.8" y1="136.1" x2="422.8" y2="136.1" stroke="#371ea3" stroke-width="0.75"/>
<rect x="418.2" y="134.8" width="2.1" height="2.6" fill="#371ea3"/>
<line x1="417" y1="143.84" x2="421.6" y2="143.84" stroke="#371ea3" stroke-width="0.75"/>
<rect x="417.5" y="142.54" width="3.7" height="2.6" fill="#371ea3"/>
<line x1="411.6" y1="151.58" x2="419.1" y2="151.58" stroke="#371ea3" stroke-width="0.75"/>
<rect x="414.7" y="150.28" width="3.5" height="2.6" fill="#371ea3"/>
<line x1="415" y1="159.31" x2="416.6" y2="159.31" stroke="#371ea3" stroke-width="0.75"/>
<rect x="415" y="158.01" width="1.6" height="2.6" fill="#371ea3"/>
<line x1="405.4" y1="167.05" x2="421.6" y2="167.05" stroke="#371ea3" stroke-width="0.75"/>
<rect x="409.5" y="165.75" width="8.7" height="2.6" fill="#371ea3"/>
<line x1="381.1" y1="174.79" x2="406" y2="174.79" stroke="#371ea3" stroke-width="0.75"/>
<rect x="384.2" y="173.49" width="12.5" height="2.6" fill="#371ea3"/>
<line x1="371.1" y1="182.53" x2="397" y2="182.53" stroke="#371ea3" stroke-width="0.75"/>
<rect x="382.1" y="181.23" width="5.2" height="2.6" fill="#371ea3"/>
<line x1="357.2" y1="190.26" x2="397.9" y2="190.26" stroke="#371ea3" stroke-width="0.75"/>
<rect x="366.2" y="188.96" width="13.4" height="2.6" fill="#371ea3"/>
<line x1="346.8" y1="198" x2="388" y2="198" stroke="#371ea3" stroke-width="0.75"/>
<rect x="357.2" y="196.7" width="10.8" height="2.6" fill="#371ea3"/>
<text x="340.2" y="138.3" font-size="5.05" fill="#371ea3" text-anchor="end" stroke="#371ea3" stroke-width="0.1">Chemotherapy</text>
<text x="340.2" y="146.04" font-size="5.05" fill="#371ea3" text-anchor="end" stroke="#371ea3" stroke-width="0.1">Histology</text>
<text x="340.2" y="153.78" font-size="5.05" fill="#371ea3" text-anchor="end" stroke="#371ea3" stroke-width="0.1">Age</text>
<text x="340.2" y="161.51" font-size="5.05" fill="#371ea3" text-anchor="end" stroke="#371ea3" stroke-width="0.1">Tumor_Size</text>
<text x="340.2" y="169.25" font-size="5.05" fill="#371ea3" text-anchor="end" stroke="#371ea3" stroke-width="0.1">Radiotherapy</text>
<text x="340.2" y="176.99" font-size="5.05" fill="#371ea3" text-anchor="end" stroke="#371ea3" stroke-width="0.1">Surgery_Other_Sites</text>
<text x="340.2" y="184.73" font-size="5.05" fill="#371ea3" text-anchor="end" stroke="#371ea3" stroke-width="0.1">T_Stage</text>
<text x="340.2" y="192.46" font-size="5.05" fill="#371ea3" text-anchor="end" stroke="#371ea3" stroke-width="0.1">Surgery_Type</text>
<text x="340.2" y="200.2" font-size="5.05" fill="#371ea3" text-anchor="end" stroke="#371ea3" stroke-width="0.1">N_Stage</text>
<text x="360.5" y="209.2" font-size="5.05" fill="#371ea3" text-anchor="middle" stroke="#371ea3" stroke-width="0.1">0.72</text>
<text x="382.8" y="209.2" font-size="5.05" fill="#371ea3" text-anchor="middle" stroke="#371ea3" stroke-width="0.1">0.76</text>
<text x="405.1" y="209.2" font-size="5.05" fill="#371ea3" text-anchor="middle" stroke="#371ea3" stroke-width="0.1">0.80</text>
<text x="427.4" y="209.2" font-size="5.05" fill="#371ea3" text-anchor="middle" stroke="#371ea3" stroke-width="0.1">0.84</text>
<text x="383.75" y="216.1" font-size="5.56" fill="#371ea3" text-anchor="middle" stroke="#371ea3" stroke-width="0.1">One minus AUC loss after permutations</text>
<text x="343.4" y="119.5" font-size="8.08" fill="#371ea3" stroke="#371ea3" stroke-width="0.1">Feature Importance</text>
<text x="343.4" y="124.3" font-size="5.56" fill="#371ea3" stroke="#371ea3" stroke-width="0.1">created for the LDA model</text>
<text x="343.4" y="130.8" font-size="6.06" fill="#371ea3" stroke="#371ea3" stroke-width="0.1">LDA</text>
<line x1="494.02" y1="130.7" x2="494.02" y2="203.4" stroke="#e5e5e5" stroke-width="0.55"/>
<line x1="502.5" y1="130.7" x2="502.5" y2="203.4" stroke="#e5e5e5" stroke-width="0.55"/>
<line x1="510.98" y1="130.7" x2="510.98" y2="203.4" stroke="#e5e5e5" stroke-width="0.55"/>
<line x1="519.46" y1="130.7" x2="519.46" y2="203.4" stroke="#e5e5e5" stroke-width="0.55"/>
<line x1="527.94" y1="130.7" x2="527.94" y2="203.4" stroke="#e5e5e5" stroke-width="0.55"/>
<line x1="536.42" y1="130.7" x2="536.42" y2="203.4" stroke="#e5e5e5" stroke-width="0.55"/>
<line x1="544.9" y1="130.7" x2="544.9" y2="203.4" stroke="#e5e5e5" stroke-width="0.55"/>
<line x1="553.38" y1="130.7" x2="553.38" y2="203.4" stroke="#e5e5e5" stroke-width="0.55"/>
<line x1="561.86" y1="130.7" x2="561.86" y2="203.4" stroke="#e5e5e5" stroke-width="0.55"/>
<polygon points="565.1,131.3 565.1,139.04 563.5,139.04 563.5,146.78 563.5,146.78 563.5,154.51 563.5,154.51 563.5,162.25 563.5,162.25 563.5,169.99 563.5,169.99 563.5,177.73 563.5,177.73 563.5,185.46 563.5,185.46 563.5,193.2 563.5,193.2 563.5,202.8 520.9,202.8 520.9,193.2 542.9,193.2 542.9,185.46 543.3,185.46 543.3,177.73 550.4,177.73 550.4,169.99 550.4,169.99 550.4,162.25 550.8,162.25 550.8,154.51 551.3,154.51 551.3,146.78 560.4,146.78 560.4,139.04 563.5,139.04 563.5,131.3" fill="#4378bf"/>
<line x1="562.9" y1="136.1" x2="569.7" y2="136.1" stroke="#371ea3" stroke-width="0.75"/>
<rect x="563.5" y="134.8" width="4" height="2.6" fill="#371ea3"/>
<line x1="556.3" y1="143.84" x2="563.5" y2="143.84" stroke="#371ea3" stroke-width="0.75"/>
<rect x="559.1" y="142.54" width="2.5" height="2.6" fill="#371ea3"/>
<line x1="546.7" y1="151.58" x2="554.1" y2="151.58" stroke="#371ea3" stroke-width="0.75"/>
<rect x="549.8" y="150.28" width="3.1" height="2.6" fill="#371ea3"/>
<line x1="543.8" y1="159.31" x2="558.2" y2="159.31" stroke="#371ea3" stroke-width="0.75"/>
<rect x="547.9" y="158.01" width="3.7" height="2.6" fill="#371ea3"/>
<line x1="546.7" y1="167.05" x2="553.8" y2="167.05" stroke="#371ea3" stroke-width="0.75"/>
<rect x="548.5" y="165.75" width="3.1" height="2.6" fill="#371ea3"/>
<line x1="543.8" y1="174.79" x2="557.9" y2="174.79" stroke="#371ea3" stroke-width="0.75"/>
<rect x="546.7" y="173.49" width="5.6" height="2.6" fill="#371ea3"/>
<line x1="536.1" y1="182.53" x2="546" y2="182.53" stroke="#371ea3" stroke-width="0.75"/>
<rect x="540.8" y="181.23" width="5.2" height="2.6" fill="#371ea3"/>
<line x1="538.3" y1="190.26" x2="551.6" y2="190.26" stroke="#371ea3" stroke-width="0.75"/>
<rect x="538.8" y="188.96" width="5" height="2.6" fill="#371ea3"/>
<line x1="493.1" y1="198" x2="540.4" y2="198" stroke="#371ea3" stroke-width="0.75"/>
<rect x="513.7" y="196.7" width="16.4" height="2.6" fill="#371ea3"/>
<text x="486.7" y="138.3" font-size="5.05" fill="#371ea3" text-anchor="end" stroke="#371ea3" stroke-width="0.1">Histology</text>
<text x="486.7" y="146.04" font-size="5.05" fill="#371ea3" text-anchor="end" stroke="#371ea3" stroke-width="0.1">Tumor_Size</text>
<text x="486.7" y="153.78" font-size="5.05" fill="#371ea3" text-anchor="end" stroke="#371ea3" stroke-width="0.1">Radiotherapy</text>
<text x="486.7" y="161.51" font-size="5.05" fill="#371ea3" text-anchor="end" stroke="#371ea3" stroke-width="0.1">Surgery_Type</text>
<text x="486.7" y="169.25" font-size="5.05" fill="#371ea3" text-anchor="end" stroke="#371ea3" stroke-width="0.1">T_Stage</text>
<text x="486.7" y="176.99" font-size="5.05" fill="#371ea3" text-anchor="end" stroke="#371ea3" stroke-width="0.1">Age</text>
<text x="486.7" y="184.73" font-size="5.05" fill="#371ea3" text-anchor="end" stroke="#371ea3" stroke-width="0.1">Chemotherapy</text>
<text x="486.7" y="192.46" font-size="5.05" fill="#371ea3" text-anchor="end" stroke="#371ea3" stroke-width="0.1">N_Stage</text>
<text x="486.7" y="200.2" font-size="5.05" fill="#371ea3" text-anchor="end" stroke="#371ea3" stroke-width="0.1">Surgery_Other_Sites</text>
<text x="502.5" y="209.2" font-size="5.05" fill="#371ea3" text-anchor="middle" stroke="#371ea3" stroke-width="0.1">0.65</text>
<text x="519.46" y="209.2" font-size="5.05" fill="#371ea3" text-anchor="middle" stroke="#371ea3" stroke-width="0.1">0.70</text>
<text x="536.42" y="209.2" font-size="5.05" fill="#371ea3" text-anchor="middle" stroke="#371ea3" stroke-width="0.1">0.75</text>
<text x="553.38" y="209.2" font-size="5.05" fill="#371ea3" text-anchor="middle" stroke="#371ea3" stroke-width="0.1">0.80</text>
<text x="570.34" y="209.2" font-size="5.05" fill="#371ea3" text-anchor="middle" stroke="#371ea3" stroke-width="0.1">0.85</text>
<text x="528.15" y="216.1" font-size="5.56" fill="#371ea3" text-anchor="middle" stroke="#371ea3" stroke-width="0.1">One minus AUC loss after permutations</text>
<text x="489.7" y="119.5" font-size="8.08" fill="#371ea3" stroke="#371ea3" stroke-width="0.1">Feature Importance</text>
<text x="489.7" y="124.3" font-size="5.56" fill="#371ea3" stroke="#371ea3" stroke-width="0.1">created for the QDA model</text>
<text x="489.7" y="130.8" font-size="6.06" fill="#371ea3" stroke="#371ea3" stroke-width="0.1">QDA</text>
<line x1="638.5" y1="130.7" x2="638.5" y2="203.4" stroke="#e5e5e5" stroke-width="0.55"/>
<line x1="647.3" y1="130.7" x2="647.3" y2="203.4" stroke="#e5e5e5" stroke-width="0.55"/>
<line x1="656.1" y1="130.7" x2="656.1" y2="203.4" stroke="#e5e5e5" stroke-width="0.55"/>
<line x1="664.9" y1="130.7" x2="664.9" y2="203.4" stroke="#e5e5e5" stroke-width="0.55"/>
<line x1="673.7" y1="130.7" x2="673.7" y2="203.4" stroke="#e5e5e5" stroke-width="0.55"/>
<line x1="682.5" y1="130.7" x2="682.5" y2="203.4" stroke="#e5e5e5" stroke-width="0.55"/>
<line x1="691.3" y1="130.7" x2="691.3" y2="203.4" stroke="#e5e5e5" stroke-width="0.55"/>
<line x1="700.1" y1="130.7" x2="700.1" y2="203.4" stroke="#e5e5e5" stroke-width="0.55"/>
<line x1="708.9" y1="130.7" x2="708.9" y2="203.4" stroke="#e5e5e5" stroke-width="0.55"/>
<line x1="717.7" y1="130.7" x2="717.7" y2="203.4" stroke="#e5e5e5" stroke-width="0.55"/>
<polygon points="715.8,131.3 715.8,139.04 715.8,139.04 715.8,146.78 715.8,146.78 715.8,154.51 715.8,154.51 715.8,162.25 715.8,162.25 715.8,169.99 715.8,169.99 715.8,177.73 715.8,177.73 715.8,185.46 715.8,185.46 715.8,193.2 715.8,193.2 715.8,202.8 650.2,202.8 650.2,193.2 712.1,193.2 712.1,185.46 715.5,185.46 715.5,177.73 715.5,177.73 715.5,169.99 715.5,169.99 715.5,162.25 715.5,162.25 715.5,154.51 715.5,154.51 715.5,146.78 715.5,146.78 715.5,139.04 715.5,139.04 715.5,131.3" fill="#4378bf"/>
<line x1="715.3" y1="136.1" x2="716.3" y2="136.1" stroke="#371ea3" stroke-width="0.75"/>
<rect x="715.5" y="134.8" width="0.8" height="2.6" fill="#371ea3"/>
<line x1="715.3" y1="143.84" x2="716.3" y2="143.84" stroke="#371ea3" stroke-width="0.75"/>
<rect x="715.5" y="142.54" width="0.8" height="2.6" fill="#371ea3"/>
<line x1="715.3" y1="151.58" x2="716.3" y2="151.58" stroke="#371ea3" stroke-width="0.75"/>
<rect x="715.5" y="150.28" width="0.8" height="2.6" fill="#371ea3"/>
<line x1="715.3" y1="159.31" x2="716.3" y2="159.31" stroke="#371ea3" stroke-width="0.75"/>
<rect x="715.5" y="158.01" width="0.8" height="2.6" fill="#371ea3"/>
<line x1="715.3" y1="167.05" x2="716.3" y2="167.05" stroke="#371ea3" stroke-width="0.75"/>
<rect x="715.5" y="165.75" width="0.8" height="2.6" fill="#371ea3"/>
<line x1="715.3" y1="174.79" x2="716.3" y2="174.79" stroke="#371ea3" stroke-width="0.75"/>
<rect x="715.5" y="173.49" width="0.8" height="2.6" fill="#371ea3"/>
<line x1="715.3" y1="182.53" x2="716.3" y2="182.53" stroke="#371ea3" stroke-width="0.75"/>
<rect x="715.5" y="181.23" width="0.8" height="2.6" fill="#371ea3"/>
<line x1="710.5" y1="190.26" x2="712.7" y2="190.26" stroke="#371ea3" stroke-width="0.75"/>
<rect x="711" y="188.96" width="1.2" height="2.6" fill="#371ea3"/>
<line x1="639.2" y1="198" x2="662.3" y2="198" stroke="#371ea3" stroke-width="0.75"/>
<rect x="644" y="196.7" width="10.2" height="2.6" fill="#371ea3"/>
<text x="633.3" y="138.3" font-size="5.05" fill="#371ea3" text-anchor="end" stroke="#371ea3" stroke-width="0.1">Tumor_Size</text>
<text x="633.3" y="146.04" font-size="5.05" fill="#371ea3" text-anchor="end" stroke="#371ea3" stroke-width="0.1">Surgery_Other_Sites</text>
<text x="633.3" y="153.78" font-size="5.05" fill="#371ea3" text-anchor="end" stroke="#371ea3" stroke-width="0.1">Radiotherapy</text>
<text x="633.3" y="161.51" font-size="5.05" fill="#371ea3" text-anchor="end" stroke="#371ea3" stroke-width="0.1">Histology</text>
<text x="633.3" y="169.25" font-size="5.05" fill="#371ea3" text-anchor="end" stroke="#371ea3" stroke-width="0.1">Chemotherapy</text>
<text x="633.3" y="176.99" font-size="5.05" fill="#371ea3" text-anchor="end" stroke="#371ea3" stroke-width="0.1">Age</text>
<text x="633.3" y="184.73" font-size="5.05" fill="#371ea3" text-anchor="end" stroke="#371ea3" stroke-width="0.1">T_Stage</text>
<text x="633.3" y="192.46" font-size="5.05" fill="#371ea3" text-anchor="end" stroke="#371ea3" stroke-width="0.1">Surgery_Type</text>
<text x="633.3" y="200.2" font-size="5.05" fill="#371ea3" text-anchor="end" stroke="#371ea3" stroke-width="0.1">N_Stage</text>
<text x="647.3" y="209.2" font-size="5.05" fill="#371ea3" text-anchor="middle" stroke="#371ea3" stroke-width="0.1">0.50</text>
<text x="664.9" y="209.2" font-size="5.05" fill="#371ea3" text-anchor="middle" stroke="#371ea3" stroke-width="0.1">0.55</text>
<text x="682.5" y="209.2" font-size="5.05" fill="#371ea3" text-anchor="middle" stroke="#371ea3" stroke-width="0.1">0.60</text>
<text x="700.1" y="209.2" font-size="5.05" fill="#371ea3" text-anchor="middle" stroke="#371ea3" stroke-width="0.1">0.65</text>
<text x="717.7" y="209.2" font-size="5.05" fill="#371ea3" text-anchor="middle" stroke="#371ea3" stroke-width="0.1">0.70</text>
<text x="677.6" y="216.1" font-size="5.56" fill="#371ea3" text-anchor="middle" stroke="#371ea3" stroke-width="0.1">One minus AUC loss after permutations</text>
<text x="635.7" y="119.5" font-size="8.08" fill="#371ea3" stroke="#371ea3" stroke-width="0.1">Feature Importance</text>
<text x="635.7" y="124.3" font-size="5.56" fill="#371ea3" stroke="#371ea3" stroke-width="0.1">created for the Decision Tree model</text>
<text x="635.7" y="130.8" font-size="6.06" fill="#371ea3" stroke="#371ea3" stroke-width="0.1">Decision Tree</text>
<line x1="51.3" y1="240.5" x2="51.3" y2="313.4" stroke="#e5e5e5" stroke-width="0.55"/>
<line x1="62.75" y1="240.5" x2="62.75" y2="313.4" stroke="#e5e5e5" stroke-width="0.55"/>
<line x1="74.2" y1="240.5" x2="74.2" y2="313.4" stroke="#e5e5e5" stroke-width="0.55"/>
<line x1="85.65" y1="240.5" x2="85.65" y2="313.4" stroke="#e5e5e5" stroke-width="0.55"/>
<line x1="97.1" y1="240.5" x2="97.1" y2="313.4" stroke="#e5e5e5" stroke-width="0.55"/>
<line x1="108.55" y1="240.5" x2="108.55" y2="313.4" stroke="#e5e5e5" stroke-width="0.55"/>
<line x1="120" y1="240.5" x2="120" y2="313.4" stroke="#e5e5e5" stroke-width="0.55"/>
<line x1="131.45" y1="240.5" x2="131.45" y2="313.4" stroke="#e5e5e5" stroke-width="0.55"/>
<polygon points="130.2,241.1 130.2,248.86 130.2,248.86 130.2,256.62 130.2,256.62 130.2,264.39 130.2,264.39 130.2,272.15 130.2,272.15 130.2,279.91 130.2,279.91 130.2,287.68 130.2,287.68 130.2,295.44 130.2,295.44 130.2,303.2 130.2,303.2 130.2,312.8 66.3,312.8 66.3,303.2 82.2,303.2 82.2,295.44 89.1,295.44 89.1,287.68 91.2,287.68 91.2,279.91 100.9,279.91 100.9,272.15 101.5,272.15 101.5,264.39 103.3,264.39 103.3,256.62 108,256.62 108,248.86 112.2,248.86 112.2,241.1" fill="#4378bf"/>
<line x1="96.4" y1="245.9" x2="123.7" y2="245.9" stroke="#371ea3" stroke-width="0.75"/>
<rect x="110.5" y="244.6" width="3.5" height="2.6" fill="#371ea3"/>
<line x1="94.2" y1="253.66" x2="118.8" y2="253.66" stroke="#371ea3" stroke-width="0.75"/>
<rect x="106.1" y="252.36" width="6.9" height="2.6" fill="#371ea3"/>
<line x1="92.3" y1="261.43" x2="114" y2="261.43" stroke="#371ea3" stroke-width="0.75"/>
<rect x="95" y="260.12" width="14.2" height="2.6" fill="#371ea3"/>
<line x1="87.3" y1="269.19" x2="120" y2="269.19" stroke="#371ea3" stroke-width="0.75"/>
<rect x="98.1" y="267.89" width="9.7" height="2.6" fill="#371ea3"/>
<line x1="90.1" y1="276.95" x2="114.7" y2="276.95" stroke="#371ea3" stroke-width="0.75"/>
<rect x="97.8" y="275.65" width="6.1" height="2.6" fill="#371ea3"/>
<line x1="67.4" y1="284.71" x2="110.8" y2="284.71" stroke="#371ea3" stroke-width="0.75"/>
<rect x="85" y="283.41" width="14.2" height="2.6" fill="#371ea3"/>
<line x1="76.2" y1="292.48" x2="106.1" y2="292.48" stroke="#371ea3" stroke-width="0.75"/>
<rect x="80.1" y="291.18" width="16.6" height="2.6" fill="#371ea3"/>
<line x1="64.2" y1="300.24" x2="97.8" y2="300.24" stroke="#371ea3" stroke-width="0.75"/>
<rect x="74.6" y="298.94" width="15.2" height="2.6" fill="#371ea3"/>
<line x1="53.8" y1="308" x2="81.5" y2="308" stroke="#371ea3" stroke-width="0.75"/>
<rect x="60.7" y="306.7" width="10" height="2.6" fill="#371ea3"/>
<text x="48" y="248.1" font-size="5.05" fill="#371ea3" text-anchor="end" stroke="#371ea3" stroke-width="0.1">Histology</text>
<text x="48" y="255.86" font-size="5.05" fill="#371ea3" text-anchor="end" stroke="#371ea3" stroke-width="0.1">Radiotherapy</text>
<text x="48" y="263.62" font-size="5.05" fill="#371ea3" text-anchor="end" stroke="#371ea3" stroke-width="0.1">Surgery_Other_Sites</text>
<text x="48" y="271.39" font-size="5.05" fill="#371ea3" text-anchor="end" stroke="#371ea3" stroke-width="0.1">Tumor_Size</text>
<text x="48" y="279.15" font-size="5.05" fill="#371ea3" text-anchor="end" stroke="#371ea3" stroke-width="0.1">T_Stage</text>
<text x="48" y="286.91" font-size="5.05" fill="#371ea3" text-anchor="end" stroke="#371ea3" stroke-width="0.1">Surgery_Type</text>
<text x="48" y="294.68" font-size="5.05" fill="#371ea3" text-anchor="end" stroke="#371ea3" stroke-width="0.1">Chemotherapy</text>
<text x="48" y="302.44" font-size="5.05" fill="#371ea3" text-anchor="end" stroke="#371ea3" stroke-width="0.1">Age</text>
<text x="48" y="310.2" font-size="5.05" fill="#371ea3" text-anchor="end" stroke="#371ea3" stroke-width="0.1">N_Stage</text>
<text x="51.3" y="319.2" font-size="5.05" fill="#371ea3" text-anchor="middle" stroke="#371ea3" stroke-width="0.1">0.72</text>
<text x="74.2" y="319.2" font-size="5.05" fill="#371ea3" text-anchor="middle" stroke="#371ea3" stroke-width="0.1">0.76</text>
<text x="97.1" y="319.2" font-size="5.05" fill="#371ea3" text-anchor="middle" stroke="#371ea3" stroke-width="0.1">0.80</text>
<text x="120" y="319.2" font-size="5.05" fill="#371ea3" text-anchor="middle" stroke="#371ea3" stroke-width="0.1">0.84</text>
<text x="92.15" y="326.1" font-size="5.56" fill="#371ea3" text-anchor="middle" stroke="#371ea3" stroke-width="0.1">One minus AUC loss after permutations</text>
<text x="50.4" y="229.3" font-size="8.08" fill="#371ea3" stroke="#371ea3" stroke-width="0.1">Feature Importance</text>
<text x="50.4" y="234.1" font-size="5.56" fill="#371ea3" stroke="#371ea3" stroke-width="0.1">created for the GBM model</text>
<text x="50.4" y="240.6" font-size="6.06" fill="#371ea3" stroke="#371ea3" stroke-width="0.1">GBM</text>
<line x1="203.9" y1="240.3" x2="203.9" y2="313.4" stroke="#e5e5e5" stroke-width="0.55"/>
<line x1="216.35" y1="240.3" x2="216.35" y2="313.4" stroke="#e5e5e5" stroke-width="0.55"/>
<line x1="228.8" y1="240.3" x2="228.8" y2="313.4" stroke="#e5e5e5" stroke-width="0.55"/>
<line x1="241.25" y1="240.3" x2="241.25" y2="313.4" stroke="#e5e5e5" stroke-width="0.55"/>
<line x1="253.7" y1="240.3" x2="253.7" y2="313.4" stroke="#e5e5e5" stroke-width="0.55"/>
<line x1="266.15" y1="240.3" x2="266.15" y2="313.4" stroke="#e5e5e5" stroke-width="0.55"/>
<line x1="278.6" y1="240.3" x2="278.6" y2="313.4" stroke="#e5e5e5" stroke-width="0.55"/>
<polygon points="277,240.9 277,248.69 277,248.69 277,256.48 277,256.48 277,264.26 277,264.26 277,272.05 277,272.05 277,279.84 277,279.84 277,287.62 277,287.62 277,295.41 277,295.41 277,303.2 277,303.2 277,312.8 220.1,312.8 220.1,303.2 224,303.2 224,295.41 228.3,295.41 228.3,287.62 242,287.62 242,279.84 249.2,279.84 249.2,272.05 257.7,272.05 257.7,264.26 259,264.26 259,256.48 267.5,256.48 267.5,248.69 276,248.69 276,240.9" fill="#4378bf"/>
<line x1="275" y1="245.7" x2="276.6" y2="245.7" stroke="#371ea3" stroke-width="0.75"/>
<rect x="275.3" y="244.4" width="1" height="2.6" fill="#371ea3"/>
<line x1="256.1" y1="253.49" x2="273.4" y2="253.49" stroke="#371ea3" stroke-width="0.75"/>
<rect x="264.2" y="252.19" width="8.5" height="2.6" fill="#371ea3"/>
<line x1="252.2" y1="261.28" x2="274" y2="261.28" stroke="#371ea3" stroke-width="0.75"/>
<rect x="255.1" y="259.98" width="3.3" height="2.6" fill="#371ea3"/>
<line x1="253.5" y1="269.06" x2="262.7" y2="269.06" stroke="#371ea3" stroke-width="0.75"/>
<rect x="255.4" y="267.76" width="3.3" height="2.6" fill="#371ea3"/>
<line x1="240.5" y1="276.85" x2="257.7" y2="276.85" stroke="#371ea3" stroke-width="0.75"/>
<rect x="244" y="275.55" width="10.4" height="2.6" fill="#371ea3"/>
<line x1="229.2" y1="284.64" x2="253.5" y2="284.64" stroke="#371ea3" stroke-width="0.75"/>
<rect x="240.1" y="283.34" width="7.2" height="2.6" fill="#371ea3"/>
<line x1="215.6" y1="292.43" x2="239.4" y2="292.43" stroke="#371ea3" stroke-width="0.75"/>
<rect x="225" y="291.12" width="7.2" height="2.6" fill="#371ea3"/>
<line x1="213.3" y1="300.21" x2="228.7" y2="300.21" stroke="#371ea3" stroke-width="0.75"/>
<rect x="221.1" y="298.91" width="7.2" height="2.6" fill="#371ea3"/>
<line x1="200.5" y1="308" x2="231.6" y2="308" stroke="#371ea3" stroke-width="0.75"/>
<rect x="212" y="306.7" width="18.9" height="2.6" fill="#371ea3"/>
<text x="194" y="247.9" font-size="5.05" fill="#371ea3" text-anchor="end" stroke="#371ea3" stroke-width="0.1">Radiotherapy</text>
<text x="194" y="255.69" font-size="5.05" fill="#371ea3" text-anchor="end" stroke="#371ea3" stroke-width="0.1">Histology</text>
<text x="194" y="263.48" font-size="5.05" fill="#371ea3" text-anchor="end" stroke="#371ea3" stroke-width="0.1">Age</text>
<text x="194" y="271.26" font-size="5.05" fill="#371ea3" text-anchor="end" stroke="#371ea3" stroke-width="0.1">N_Stage</text>
<text x="194" y="279.05" font-size="5.05" fill="#371ea3" text-anchor="end" stroke="#371ea3" stroke-width="0.1">Chemotherapy</text>
<text x="194" y="286.84" font-size="5.05" fill="#371ea3" text-anchor="end" stroke="#371ea3" stroke-width="0.1">Surgery_Type</text>
<text x="194" y="294.62" font-size="5.05" fill="#371ea3" text-anchor="end" stroke="#371ea3" stroke-width="0.1">Tumor_Size</text>
<text x="194" y="302.41" font-size="5.05" fill="#371ea3" text-anchor="end" stroke="#371ea3" stroke-width="0.1">T_Stage</text>
<text x="194" y="310.2" font-size="5.05" fill="#371ea3" text-anchor="end" stroke="#371ea3" stroke-width="0.1">Surgery_Other_Sites</text>
<text x="203.9" y="319.2" font-size="5.05" fill="#371ea3" text-anchor="middle" stroke="#371ea3" stroke-width="0.1">0.65</text>
<text x="228.8" y="319.2" font-size="5.05" fill="#371ea3" text-anchor="middle" stroke="#371ea3" stroke-width="0.1">0.70</text>
<text x="253.7" y="319.2" font-size="5.05" fill="#371ea3" text-anchor="middle" stroke="#371ea3" stroke-width="0.1">0.75</text>
<text x="278.6" y="319.2" font-size="5.05" fill="#371ea3" text-anchor="middle" stroke="#371ea3" stroke-width="0.1">0.80</text>
<text x="238.55" y="326.1" font-size="5.56" fill="#371ea3" text-anchor="middle" stroke="#371ea3" stroke-width="0.1">One minus AUC loss after permutations</text>
<text x="196.6" y="229.1" font-size="8.08" fill="#371ea3" stroke="#371ea3" stroke-width="0.1">Feature Importance</text>
<text x="196.6" y="233.9" font-size="5.56" fill="#371ea3" stroke="#371ea3" stroke-width="0.1">created for the NNET model</text>
<text x="196.6" y="240.4" font-size="6.06" fill="#371ea3" stroke="#371ea3" stroke-width="0.1">NNET</text>
<line x1="348.5" y1="240.3" x2="348.5" y2="313.4" stroke="#e5e5e5" stroke-width="0.55"/>
<line x1="362.05" y1="240.3" x2="362.05" y2="313.4" stroke="#e5e5e5" stroke-width="0.55"/>
<line x1="375.6" y1="240.3" x2="375.6" y2="313.4" stroke="#e5e5e5" stroke-width="0.55"/>
<line x1="389.15" y1="240.3" x2="389.15" y2="313.4" stroke="#e5e5e5" stroke-width="0.55"/>
<line x1="402.7" y1="240.3" x2="402.7" y2="313.4" stroke="#e5e5e5" stroke-width="0.55"/>
<line x1="416.25" y1="240.3" x2="416.25" y2="313.4" stroke="#e5e5e5" stroke-width="0.55"/>
<polygon points="418,240.9 418,248.69 418,248.69 418,256.48 418,256.48 418,264.26 418,264.26 418,272.05 418,272.05 418,279.84 418,279.84 418,287.62 418,287.62 418,295.41 418,295.41 418,303.2 418,303.2 418,312.8 367.2,312.8 367.2,303.2 371.4,303.2 371.4,295.41 382.1,295.41 382.1,287.62 385.5,287.62 385.5,279.84 385.5,279.84 385.5,272.05 390.3,272.05 390.3,264.26 397.5,264.26 397.5,256.48 405,256.48 405,248.69 413.8,248.69 413.8,240.9" fill="#4378bf"/>
<line x1="407.3" y1="245.7" x2="423" y2="245.7" stroke="#371ea3" stroke-width="0.75"/>
<rect x="410.5" y="244.4" width="4.6" height="2.6" fill="#371ea3"/>
<line x1="398.1" y1="253.49" x2="417.1" y2="253.49" stroke="#371ea3" stroke-width="0.75"/>
<rect x="402.7" y="252.19" width="2.3" height="2.6" fill="#371ea3"/>
<line x1="380.8" y1="261.28" x2="403.4" y2="261.28" stroke="#371ea3" stroke-width="0.75"/>
<rect x="395.5" y="259.98" width="6.5" height="2.6" fill="#371ea3"/>
<line x1="382.1" y1="269.06" x2="398.1" y2="269.06" stroke="#371ea3" stroke-width="0.75"/>
<rect x="387.7" y="267.76" width="5.2" height="2.6" fill="#371ea3"/>
<line x1="374.2" y1="276.85" x2="391.6" y2="276.85" stroke="#371ea3" stroke-width="0.75"/>
<rect x="383.8" y="275.55" width="4.5" height="2.6" fill="#371ea3"/>
<line x1="366.1" y1="284.64" x2="396.4" y2="284.64" stroke="#371ea3" stroke-width="0.75"/>
<rect x="382.5" y="283.34" width="7.8" height="2.6" fill="#371ea3"/>
<line x1="375" y1="292.43" x2="389" y2="292.43" stroke="#371ea3" stroke-width="0.75"/>
<rect x="377.9" y="291.12" width="7.2" height="2.6" fill="#371ea3"/>
<line x1="347.2" y1="300.21" x2="389.9" y2="300.21" stroke="#371ea3" stroke-width="0.75"/>
<rect x="362" y="298.91" width="23.1" height="2.6" fill="#371ea3"/>
<line x1="358.3" y1="308" x2="375.5" y2="308" stroke="#371ea3" stroke-width="0.75"/>
<rect x="362.9" y="306.7" width="8.7" height="2.6" fill="#371ea3"/>
<text x="340.2" y="247.9" font-size="5.05" fill="#371ea3" text-anchor="end" stroke="#371ea3" stroke-width="0.1">Histology</text>
<text x="340.2" y="255.69" font-size="5.05" fill="#371ea3" text-anchor="end" stroke="#371ea3" stroke-width="0.1">Radiotherapy</text>
<text x="340.2" y="263.48" font-size="5.05" fill="#371ea3" text-anchor="end" stroke="#371ea3" stroke-width="0.1">Age</text>
<text x="340.2" y="271.26" font-size="5.05" fill="#371ea3" text-anchor="end" stroke="#371ea3" stroke-width="0.1">Chemotherapy</text>
<text x="340.2" y="279.05" font-size="5.05" fill="#371ea3" text-anchor="end" stroke="#371ea3" stroke-width="0.1">T_Stage</text>
<text x="340.2" y="286.84" font-size="5.05" fill="#371ea3" text-anchor="end" stroke="#371ea3" stroke-width="0.1">Surgery_Other_Sites</text>
<text x="340.2" y="294.62" font-size="5.05" fill="#371ea3" text-anchor="end" stroke="#371ea3" stroke-width="0.1">Tumor_Size</text>
<text x="340.2" y="302.41" font-size="5.05" fill="#371ea3" text-anchor="end" stroke="#371ea3" stroke-width="0.1">Surgery_Type</text>
<text x="340.2" y="310.2" font-size="5.05" fill="#371ea3" text-anchor="end" stroke="#371ea3" stroke-width="0.1">N_Stage</text>
<text x="348.5" y="319.2" font-size="5.05" fill="#371ea3" text-anchor="middle" stroke="#371ea3" stroke-width="0.1">0.80</text>
<text x="375.6" y="319.2" font-size="5.05" fill="#371ea3" text-anchor="middle" stroke="#371ea3" stroke-width="0.1">0.84</text>
<text x="402.7" y="319.2" font-size="5.05" fill="#371ea3" text-anchor="middle" stroke="#371ea3" stroke-width="0.1">0.88</text>
<text x="382.15" y="326.1" font-size="5.56" fill="#371ea3" text-anchor="middle" stroke="#371ea3" stroke-width="0.1">One minus AUC loss after permutations</text>
<text x="343.1" y="229.1" font-size="8.08" fill="#371ea3" stroke="#371ea3" stroke-width="0.1">Feature Importance</text>
<text x="343.1" y="233.9" font-size="5.56" fill="#371ea3" stroke="#371ea3" stroke-width="0.1">created for the CAT model</text>
<text x="343.1" y="240.4" font-size="6.06" fill="#371ea3" stroke="#371ea3" stroke-width="0.1">CAT</text>
</g>
<g font-family='"Liberation Sans", sans-serif'>
<rect x="110.7" y="365.3" width="191.9" height="183.8" fill="#fff"/>
<line x1="150.68" y1="365.3" x2="150.68" y2="549.1" stroke="#f2f2f2" stroke-width="0.45"/>
<line x1="213.23" y1="365.3" x2="213.23" y2="549.1" stroke="#f2f2f2" stroke-width="0.45"/>
<line x1="275.77" y1="365.3" x2="275.77" y2="549.1" stroke="#f2f2f2" stroke-width="0.45"/>
<line x1="119.4" y1="365.3" x2="119.4" y2="549.1" stroke="#ebebeb" stroke-width="0.7"/>
<line x1="181.95" y1="365.3" x2="181.95" y2="549.1" stroke="#ebebeb" stroke-width="0.7"/>
<line x1="244.5" y1="365.3" x2="244.5" y2="549.1" stroke="#ebebeb" stroke-width="0.7"/>
<line x1="110.7" y1="377.4" x2="302.6" y2="377.4" stroke="#ebebeb" stroke-width="0.7"/>
<line x1="110.7" y1="397.41" x2="302.6" y2="397.41" stroke="#ebebeb" stroke-width="0.7"/>
<line x1="110.7" y1="417.42" x2="302.6" y2="417.42" stroke="#ebebeb" stroke-width="0.7"/>
<line x1="110.7" y1="437.43" x2="302.6" y2="437.43" stroke="#ebebeb" stroke-width="0.7"/>
<line x1="110.7" y1="457.44" x2="302.6" y2="457.44" stroke="#ebebeb" stroke-width="0.7"/>
<line x1="110.7" y1="477.45" x2="302.6" y2="477.45" stroke="#ebebeb" stroke-width="0.7"/>
<line x1="110.7" y1="497.46" x2="302.6" y2="497.46" stroke="#ebebeb" stroke-width="0.7"/>
<line x1="110.7" y1="517.47" x2="302.6" y2="517.47" stroke="#ebebeb" stroke-width="0.7"/>
<line x1="110.7" y1="537.48" x2="302.6" y2="537.48" stroke="#ebebeb" stroke-width="0.7"/>
<rect x="119.4" y="371" width="174.9" height="12.8" fill="#8b0000"/>
<rect x="119.4" y="391.01" width="157.4" height="12.8" fill="#8b0000"/>
<rect x="119.4" y="411.02" width="117.7" height="12.8" fill="#8b0000"/>
<rect x="119.4" y="431.03" width="112.5" height="12.8" fill="#8b0000"/>
<rect x="119.4" y="451.04" width="68.6" height="12.8" fill="#8b0000"/>
<rect x="119.4" y="471.05" width="54.2" height="12.8" fill="#8b0000"/>
<rect x="119.4" y="491.06" width="36.4" height="12.8" fill="#8b0000"/>
<rect x="119.4" y="511.07" width="30.6" height="12.8" fill="#8b0000"/>
<rect x="119.4" y="531.08" width="29" height="12.8" fill="#8b0000"/>
<rect x="110.7" y="365.3" width="191.9" height="183.8" fill="none" stroke="#666666" stroke-width="0.6"/>
<line x1="108.8" y1="377.4" x2="110.7" y2="377.4" stroke="#333333" stroke-width="0.55"/>
<text x="107.8" y="379.4" font-size="5.5" fill="#505050" text-anchor="end">Tumor_Size</text>
<line x1="108.8" y1="397.41" x2="110.7" y2="397.41" stroke="#333333" stroke-width="0.55"/>
<text x="107.8" y="399.41" font-size="5.5" fill="#505050" text-anchor="end">Surgery_Type</text>
<line x1="108.8" y1="417.42" x2="110.7" y2="417.42" stroke="#333333" stroke-width="0.55"/>
<text x="107.8" y="419.42" font-size="5.5" fill="#505050" text-anchor="end">Chemotherapy</text>
<line x1="108.8" y1="437.43" x2="110.7" y2="437.43" stroke="#333333" stroke-width="0.55"/>
<text x="107.8" y="439.43" font-size="5.5" fill="#505050" text-anchor="end">N_Stage</text>
<line x1="108.8" y1="457.44" x2="110.7" y2="457.44" stroke="#333333" stroke-width="0.55"/>
<text x="107.8" y="459.44" font-size="5.5" fill="#505050" text-anchor="end">Surgery_Other_Sites</text>
<line x1="108.8" y1="477.45" x2="110.7" y2="477.45" stroke="#333333" stroke-width="0.55"/>
<text x="107.8" y="479.45" font-size="5.5" fill="#505050" text-anchor="end">Age</text>
<line x1="108.8" y1="497.46" x2="110.7" y2="497.46" stroke="#333333" stroke-width="0.55"/>
<text x="107.8" y="499.46" font-size="5.5" fill="#505050" text-anchor="end">Histology</text>
<line x1="108.8" y1="517.47" x2="110.7" y2="517.47" stroke="#333333" stroke-width="0.55"/>
<text x="107.8" y="519.47" font-size="5.5" fill="#505050" text-anchor="end">T_Stage</text>
<line x1="108.8" y1="537.48" x2="110.7" y2="537.48" stroke="#333333" stroke-width="0.55"/>
<text x="107.8" y="539.48" font-size="5.5" fill="#505050" text-anchor="end">Radiotherapy</text>
<line x1="119.4" y1="549.1" x2="119.4" y2="551" stroke="#333333" stroke-width="0.55"/>
<text x="119.4" y="554.7" font-size="5.5" fill="#505050" text-anchor="middle">0.00</text>
<line x1="181.95" y1="549.1" x2="181.95" y2="551" stroke="#333333" stroke-width="0.55"/>
<text x="181.95" y="554.7" font-size="5.5" fill="#505050" text-anchor="middle">0.01</text>
<line x1="244.5" y1="549.1" x2="244.5" y2="551" stroke="#333333" stroke-width="0.55"/>
<text x="244.5" y="554.7" font-size="5.5" fill="#505050" text-anchor="middle">0.02</text>
<text x="207.4" y="564.6" font-size="6.6" fill="#000" text-anchor="middle">mean(|SHAP value|) (average impact on model output magnitude)</text>
<text x="53.9" y="457.2" font-size="6.6" fill="#000" text-anchor="middle" transform="rotate(-90 53.9 457.2)">Feature</text>
<text x="110.7" y="360.7" font-size="7.92" fill="#000">Importance Ranking of CatBoost based on SHAP Value</text>
</g>
<g font-family='"Liberation Sans", sans-serif'>
<rect x="90" y="600.5" width="237" height="224" fill="#ebebeb"/>
<line x1="111.47" y1="600.5" x2="111.47" y2="824.5" stroke="#f5f5f5" stroke-width="0.5"/>
<line x1="154.22" y1="600.5" x2="154.22" y2="824.5" stroke="#f5f5f5" stroke-width="0.5"/>
<line x1="196.97" y1="600.5" x2="196.97" y2="824.5" stroke="#f5f5f5" stroke-width="0.5"/>
<line x1="239.72" y1="600.5" x2="239.72" y2="824.5" stroke="#f5f5f5" stroke-width="0.5"/>
<line x1="282.48" y1="600.5" x2="282.48" y2="824.5" stroke="#f5f5f5" stroke-width="0.5"/>
<line x1="325.23" y1="600.5" x2="325.23" y2="824.5" stroke="#f5f5f5" stroke-width="0.5"/>
<line x1="90.1" y1="600.5" x2="90.1" y2="824.5" stroke="#ffffff" stroke-width="0.9"/>
<line x1="132.85" y1="600.5" x2="132.85" y2="824.5" stroke="#ffffff" stroke-width="0.9"/>
<line x1="175.6" y1="600.5" x2="175.6" y2="824.5" stroke="#ffffff" stroke-width="0.9"/>
<line x1="218.35" y1="600.5" x2="218.35" y2="824.5" stroke="#ffffff" stroke-width="0.9"/>
<line x1="261.1" y1="600.5" x2="261.1" y2="824.5" stroke="#ffffff" stroke-width="0.9"/>
<line x1="303.85" y1="600.5" x2="303.85" y2="824.5" stroke="#ffffff" stroke-width="0.9"/>
<line x1="90" y1="615.3" x2="327" y2="615.3" stroke="#ffffff" stroke-width="0.9"/>
<line x1="90" y1="639.72" x2="327" y2="639.72" stroke="#ffffff" stroke-width="0.9"/>
<line x1="90" y1="664.14" x2="327" y2="664.14" stroke="#ffffff" stroke-width="0.9"/>
<line x1="90" y1="688.56" x2="327" y2="688.56" stroke="#ffffff" stroke-width="0.9"/>
<line x1="90" y1="712.98" x2="327" y2="712.98" stroke="#ffffff" stroke-width="0.9"/>
<line x1="90" y1="737.4" x2="327" y2="737.4" stroke="#ffffff" stroke-width="0.9"/>
<line x1="90" y1="761.82" x2="327" y2="761.82" stroke="#ffffff" stroke-width="0.9"/>
<line x1="90" y1="786.24" x2="327" y2="786.24" stroke="#ffffff" stroke-width="0.9"/>
<line x1="90" y1="810.66" x2="327" y2="810.66" stroke="#ffffff" stroke-width="0.9"/>
<line x1="175.6" y1="600.5" x2="175.6" y2="824.5" stroke="#a9a9a9" stroke-width="0.6"/>
<polygon points="133,613.5 133.5,613.48 134,613.46 134.5,613.44 135,613.42 135.5,613.4 136,613.38 136.5,613.35 137,613.33 137.5,613.31 138,613.29 138.5,613.27 139,613.25 139.5,613.23 140,613.21 140.5,613.19 141,613.17 141.5,613.15 142,613.12 142.5,613.1 143,613.08 143.5,613.06 144,613.04 144.5,613.02 145,613 145.5,612.95 146,612.9 146.5,612.85 147,612.8 147.5,612.75 148,612.7 148.5,612.65 149,612.6 149.5,612.55 150,612.5 150.5,612.45 151,612.4 151.5,612.35 152,612.3 152.5,612.2 153,612.1 153.5,612 154,611.9 154.5,611.8 155,611.7 155.5,611.6 156,611.5 156.5,611.4 157,611.3 157.5,611.2 158,611.1 158.5,610.92 159,610.75 159.5,610.57 160,610.4 160.5,610.22 161,610.05 161.5,609.88 162,609.7 162.5,609.5 163,609.3 163.5,609.1 164,608.9 164.5,608.7 165,608.5 165.5,608.4 166,608.3 166.5,608.2 167,608.1 167.5,608 168,607.9 168.5,607.92 169,607.93 169.5,607.95 170,607.97 170.5,607.98 171,608 171.5,608.22 172,608.44 172.5,608.66 173,608.88 173.5,609.1 174,609.85 174.5,610.6 175,611.35 175.5,612.1 175.5,618.5 175,619.25 174.5,620 174,620.75 173.5,621.5 173,621.72 172.5,621.94 172,622.16 171.5,622.38 171,622.6 170.5,622.62 170,622.63 169.5,622.65 169,622.67 168.5,622.68 168,622.7 167.5,622.6 167,622.5 166.5,622.4 166,622.3 165.5,622.2 165,622.1 164.5,621.9 164,621.7 163.5,621.5 163,621.3 162.5,621.1 162,620.9 161.5,620.72 161,620.55 160.5,620.38 160,620.2 159.5,620.02 159,619.85 158.5,619.67 158,619.5 157.5,619.4 157,619.3 156.5,619.2 156,619.1 155.5,619 155,618.9 154.5,618.8 154,618.7 153.5,618.6 153,618.5 152.5,618.4 152,618.3 151.5,618.25 151,618.2 150.5,618.15 150,618.1 149.5,618.05 149,618 148.5,617.95 148,617.9 147.5,617.85 147,617.8 146.5,617.75 146,617.7 145.5,617.65 145,617.6 144.5,617.58 144,617.56 143.5,617.54 143,617.52 142.5,617.5 142,617.47 141.5,617.45 141,617.43 140.5,617.41 140,617.39 139.5,617.37 139,617.35 138.5,617.33 138,617.31 137.5,617.29 137,617.27 136.5,617.25 136,617.22 135.5,617.2 135,617.18 134.5,617.16 134,617.14 133.5,617.12 133,617.1" fill="#fbbe23" stroke="#fbbe23" stroke-width="0.6" stroke-linejoin="round"/>
<polygon points="169.5,610.8 170,610.58 170.5,610.36 171,610.14 171.5,609.92 172,609.7 172.5,609.9 173,610.1 173.5,610.3 174,610.5 174.5,611.27 175,612.03 175.5,612.8 175.5,617.8 175,618.57 174.5,619.33 174,620.1 173.5,620.3 173,620.5 172.5,620.7 172,620.9 171.5,620.68 171,620.46 170.5,620.24 170,620.02 169.5,619.8" fill="#ea632a" stroke="#ea632a" stroke-width="0.6" stroke-linejoin="round"/>
<polygon points="176,610.8 176.5,609.3 177,607.8 177.5,606.3 178,605.9 178.5,605.5 179,605.1 179.5,604.7 180,604.3 180.5,604.36 181,604.42 181.5,604.49 182,604.55 182.5,604.61 183,604.67 183.5,604.74 184,604.8 184.5,605.13 185,605.47 185.5,605.8 186,606.13 186.5,606.47 187,606.8 187.5,607.4 188,608 188.5,608.6 189,609.2 189.5,609.8 190,610.22 190.5,610.64 191,611.06 191.5,611.48 192,611.9 192.5,612.07 193,612.23 193.5,612.4 194,612.57 194.5,612.73 195,612.9 195.5,612.95 196,613 196.5,613.05 197,613.1 197.5,613.15 198,613.2 198.5,613.25 199,613.3 199.5,613.35 200,613.4 200,617.2 199.5,617.25 199,617.3 198.5,617.35 198,617.4 197.5,617.45 197,617.5 196.5,617.55 196,617.6 195.5,617.65 195,617.7 194.5,617.87 194,618.03 193.5,618.2 193,618.37 192.5,618.53 192,618.7 191.5,619.12 191,619.54 190.5,619.96 190,620.38 189.5,620.8 189,621.4 188.5,622 188,622.6 187.5,623.2 187,623.8 186.5,624.13 186,624.47 185.5,624.8 185,625.13 184.5,625.47 184,625.8 183.5,625.86 183,625.92 182.5,625.99 182,626.05 181.5,626.11 181,626.17 180.5,626.24 180,626.3 179.5,625.9 179,625.5 178.5,625.1 178,624.7 177.5,624.3 177,622.8 176.5,621.3 176,619.8" fill="#a82e5f" stroke="#a82e5f" stroke-width="0.6" stroke-linejoin="round"/>
<polygon points="153.7,638.02 154.2,637.94 154.7,637.86 155.2,637.78 155.7,637.69 156.2,637.61 156.7,637.53 157.2,637.45 157.7,637.37 158.2,637.27 158.7,637.14 159.2,637.02 159.7,636.89 160.2,636.77 160.7,636.64 161.2,636.52 161.7,636.39 162.2,636.25 162.7,636.06 163.2,635.88 163.7,635.7 164.2,635.51 164.7,635.33 165.2,635.06 165.7,634.66 166.2,634.26 166.7,633.86 167.2,633.46 167.7,632.82 168.2,631.82 168.7,630.82 169.2,630.05 169.7,629.61 170.2,629.18 170.7,629 171.2,629.2 171.7,629.4 172.2,630.16 172.7,631.76 173.2,633.22 173.7,634.47 174.2,635.72 174.7,636.57 175.2,637.42 175.2,642.02 174.7,642.87 174.2,643.72 173.7,644.97 173.2,646.22 172.7,647.68 172.2,649.28 171.7,650.04 171.2,650.24 170.7,650.44 170.2,650.26 169.7,649.83 169.2,649.39 168.7,648.62 168.2,647.62 167.7,646.62 167.2,645.98 166.7,645.58 166.2,645.18 165.7,644.78 165.2,644.38 164.7,644.11 164.2,643.93 163.7,643.74 163.2,643.56 162.7,643.38 162.2,643.19 161.7,643.04 161.2,642.92 160.7,642.79 160.2,642.67 159.7,642.54 159.2,642.42 158.7,642.29 158.2,642.17 157.7,642.07 157.2,641.99 156.7,641.91 156.2,641.83 155.7,641.75 155.2,641.66 154.7,641.58 154.2,641.5 153.7,641.42" fill="#57106e" stroke="#57106e" stroke-width="0.6" stroke-linejoin="round"/>
<polygon points="163,661.74 163.5,661.6 164,661.47 164.5,661.33 165,661.19 165.5,661.05 166,660.91 166.5,660.78 167,660.64 167.5,660.39 168,660.14 168.5,659.89 169,659.64 169.5,659.39 170,659.14 170.5,658.14 171,657.14 171.5,656.14 172,654.89 172.5,653.64 173,654.47 173.5,655.31 174,656.14 174.5,657.49 175,658.83 175.5,659.96 176,660.75 176.5,661.54 176.5,666.74 176,667.53 175.5,668.32 175,669.45 174.5,670.79 174,672.14 173.5,672.97 173,673.81 172.5,674.64 172,673.39 171.5,672.14 171,671.14 170.5,670.14 170,669.14 169.5,668.89 169,668.64 168.5,668.39 168,668.14 167.5,667.89 167,667.64 166.5,667.5 166,667.37 165.5,667.23 165,667.09 164.5,666.95 164,666.81 163.5,666.68 163,666.54" fill="#fbbe23" stroke="#fbbe23" stroke-width="0.6" stroke-linejoin="round"/>
<polygon points="164.3,685.96 164.8,685.84 165.3,685.72 165.8,685.6 166.3,685.47 166.8,685.35 167.3,685.23 167.8,685.11 168.3,684.88 168.8,684.58 169.3,684.28 169.8,683.98 170.3,683.68 170.8,682.66 171.3,681.16 171.8,679.66 172.3,678.16 172.8,678.16 173.3,679.16 173.8,680.16 174.3,681.26 174.8,682.43 175.3,683.59 175.8,684.63 176.3,685.58 176.3,691.54 175.8,692.49 175.3,693.53 174.8,694.69 174.3,695.86 173.8,696.96 173.3,697.96 172.8,698.96 172.3,698.96 171.8,697.46 171.3,695.96 170.8,694.46 170.3,693.44 169.8,693.14 169.3,692.84 168.8,692.54 168.3,692.24 167.8,692.01 167.3,691.89 166.8,691.77 166.3,691.65 165.8,691.52 165.3,691.4 164.8,691.28 164.3,691.16" fill="#57106e" stroke="#57106e" stroke-width="0.6" stroke-linejoin="round"/>
<polygon points="174.8,709.48 175.3,707.4 175.8,705.31 176.3,704.12 176.8,703.52 177.3,702.92 177.8,702.73 178.3,702.8 178.8,702.88 179.3,702.95 179.8,703.58 180.3,704.58 180.8,705.58 181.3,706.58 181.8,707.58 182.3,708.58 182.8,709.1 183.3,709.3 183.8,709.5 184.3,709.7 184.8,709.9 185.3,710 185.8,710.02 186.3,710.05 186.8,710.07 187.3,710.1 187.8,710.12 188.3,710.14 188.8,710.17 189.3,710.2 189.8,710.22 190.3,710.25 190.8,710.27 191.3,710.3 191.8,710.32 192.3,710.35 192.8,710.37 193.3,710.39 193.8,710.42 194.3,710.45 194.8,710.47 195.3,710.51 195.8,710.56 196.3,710.61 196.8,710.66 197.3,710.71 197.8,710.76 198.3,710.81 198.8,710.86 199.3,710.91 199.8,710.96 200.3,711.01 200.8,711.06 201.3,711.11 201.8,711.16 202.3,711.21 202.8,711.26 202.8,714.7 202.3,714.75 201.8,714.8 201.3,714.85 200.8,714.9 200.3,714.95 199.8,715 199.3,715.05 198.8,715.1 198.3,715.15 197.8,715.2 197.3,715.25 196.8,715.3 196.3,715.35 195.8,715.4 195.3,715.45 194.8,715.49 194.3,715.51 193.8,715.54 193.3,715.57 192.8,715.59 192.3,715.62 191.8,715.64 191.3,715.66 190.8,715.69 190.3,715.72 189.8,715.74 189.3,715.76 188.8,715.79 188.3,715.82 187.8,715.84 187.3,715.87 186.8,715.89 186.3,715.91 185.8,715.94 185.3,715.97 184.8,716.06 184.3,716.26 183.8,716.46 183.3,716.66 182.8,716.86 182.3,717.38 181.8,718.38 181.3,719.38 180.8,720.38 180.3,721.38 179.8,722.38 179.3,723.01 178.8,723.09 178.3,723.16 177.8,723.24 177.3,723.04 176.8,722.44 176.3,721.84 175.8,720.65 175.3,718.56 174.8,716.48" fill="#57106e" stroke="#57106e" stroke-width="0.6" stroke-linejoin="round"/>
<polygon points="167.5,734.4 168,734.15 168.5,733.9 169,733.65 169.5,733.4 170,733.15 170.5,732.9 171,732.27 171.5,731.65 172,731.02 172.5,730.4 173,729.07 173.5,727.73 174,726.4 174.5,726.4 175,726.4 175.5,726.4 176,727.73 176.5,729.07 177,730.4 177.5,730.9 178,731.4 178.5,731.9 179,732.4 179.5,732.9 180,733.17 180.5,733.44 181,733.71 181.5,733.99 182,734.26 182.5,734.53 183,734.8 183,740 182.5,740.27 182,740.54 181.5,740.81 181,741.09 180.5,741.36 180,741.63 179.5,741.9 179,742.4 178.5,742.9 178,743.4 177.5,743.9 177,744.4 176.5,745.73 176,747.07 175.5,748.4 175,748.4 174.5,748.4 174,748.4 173.5,747.07 173,745.73 172.5,744.4 172,743.77 171.5,743.15 171,742.52 170.5,741.9 170,741.65 169.5,741.4 169,741.15 168.5,740.9 168,740.65 167.5,740.4" fill="#fbbe23" stroke="#fbbe23" stroke-width="0.6" stroke-linejoin="round"/>
<polygon points="164.3,759.62 164.8,759.51 165.3,759.4 165.8,759.3 166.3,759.19 166.8,759.08 167.3,758.97 167.8,758.86 168.3,758.7 168.8,758.5 169.3,758.31 169.8,758.11 170.3,757.91 170.8,757.72 171.3,757.52 171.8,756.58 172.3,755.64 172.8,754.7 173.3,753.47 173.8,752.04 174.3,750.62 174.8,752.04 175.3,753.47 175.8,754.7 176.3,755.64 176.8,756.58 177.3,757.52 177.8,757.8 178.3,758.08 178.8,758.35 179.3,758.63 179.8,758.91 179.8,764.73 179.3,765.01 178.8,765.29 178.3,765.56 177.8,765.84 177.3,766.12 176.8,767.06 176.3,768 175.8,768.94 175.3,770.17 174.8,771.6 174.3,773.02 173.8,771.6 173.3,770.17 172.8,768.94 172.3,768 171.8,767.06 171.3,766.12 170.8,765.92 170.3,765.73 169.8,765.53 169.3,765.33 168.8,765.14 168.3,764.94 167.8,764.78 167.3,764.67 166.8,764.56 166.3,764.45 165.8,764.34 165.3,764.24 164.8,764.13 164.3,764.02" fill="#57106e" stroke="#57106e" stroke-width="0.6" stroke-linejoin="round"/>
<polygon points="166.5,784.04 167,783.93 167.5,783.81 168,783.7 168.5,783.58 169,783.47 169.5,783.35 170,783.24 170.5,783.04 171,782.85 171.5,782.65 172,782.45 172.5,782.26 173,782.06 173.5,781.48 174,780.34 174.5,779.2 175,777.63 175.5,775.78 176,776.05 176.5,777.73 177,779.17 177.5,780.23 178,781.3 178.5,782.05 179,782.31 179.5,782.58 180,782.84 180.5,783.11 181,783.37 181.5,783.64 181.5,788.84 181,789.11 180.5,789.37 180,789.64 179.5,789.9 179,790.17 178.5,790.43 178,791.18 177.5,792.25 177,793.31 176.5,794.75 176,796.43 175.5,796.7 175,794.85 174.5,793.28 174,792.14 173.5,791 173,790.42 172.5,790.22 172,790.03 171.5,789.83 171,789.63 170.5,789.44 170,789.24 169.5,789.13 169,789.01 168.5,788.9 168,788.78 167.5,788.67 167,788.55 166.5,788.44" fill="#57106e" stroke="#57106e" stroke-width="0.6" stroke-linejoin="round"/>
<polygon points="171.5,808.06 172,807.88 172.5,807.7 173,807.52 173.5,807.35 174,807.17 174.5,806.38 175,804.68 175.5,802.7 176,800.32 176.5,800.79 177,803.18 177.5,805.17 178,807.06 178.5,807.23 179,807.39 179.5,807.56 180,807.73 180.5,807.89 181,808.06 181,813.26 180.5,813.43 180,813.59 179.5,813.76 179,813.93 178.5,814.09 178,814.26 177.5,816.15 177,818.14 176.5,820.53 176,821 175.5,818.62 175,816.64 174.5,814.94 174,814.15 173.5,813.97 173,813.8 172.5,813.62 172,813.44 171.5,813.26" fill="#57106e" stroke="#57106e" stroke-width="0.6" stroke-linejoin="round"/>
<circle cx="103.6" cy="615.3" r="1.55" fill="#fbbe23"/>
<circle cx="107.2" cy="615.3" r="1.55" fill="#fbbe23"/>
<circle cx="111" cy="615.3" r="1.55" fill="#fbbe23"/>
<circle cx="119.5" cy="615.28" r="1.55" fill="#fbbe23"/>
<circle cx="120.4" cy="615.26" r="1.55" fill="#fbbe23"/>
<circle cx="121.11" cy="615.26" r="1.55" fill="#fbbe23"/>
<circle cx="121.61" cy="615.29" r="1.55" fill="#fbbe23"/>
<circle cx="122.15" cy="615.29" r="1.55" fill="#fbbe23"/>
<circle cx="122.71" cy="615.27" r="1.55" fill="#fbbe23"/>
<circle cx="123.8" cy="615.31" r="1.55" fill="#fbbe23"/>
<circle cx="124.9" cy="615.25" r="1.55" fill="#fbbe23"/>
<circle cx="125.57" cy="615.26" r="1.55" fill="#fbbe23"/>
<circle cx="126.25" cy="615.33" r="1.55" fill="#fbbe23"/>
<circle cx="127.1" cy="615.31" r="1.55" fill="#fbbe23"/>
<circle cx="127.93" cy="615.26" r="1.55" fill="#fbbe23"/>
<circle cx="128.54" cy="615.32" r="1.55" fill="#fbbe23"/>
<circle cx="129.22" cy="615.31" r="1.55" fill="#fbbe23"/>
<circle cx="129.89" cy="615.33" r="1.55" fill="#fbbe23"/>
<circle cx="130.53" cy="615.31" r="1.55" fill="#fbbe23"/>
<circle cx="131.57" cy="615.32" r="1.55" fill="#fbbe23"/>
<circle cx="132.68" cy="615.26" r="1.55" fill="#fbbe23"/>
<circle cx="143.22" cy="614.45" r="1.55" fill="#fbbe23"/>
<circle cx="143.13" cy="616.24" r="1.55" fill="#fbbe23"/>
<circle cx="145.21" cy="614.44" r="1.55" fill="#fbbe23"/>
<circle cx="145.3" cy="616.09" r="1.55" fill="#fbbe23"/>
<circle cx="146.66" cy="614.3" r="1.55" fill="#fbbe23"/>
<circle cx="146.56" cy="616.33" r="1.55" fill="#fbbe23"/>
<circle cx="148.27" cy="614.36" r="1.55" fill="#fbbe23"/>
<circle cx="147.98" cy="616.6" r="1.55" fill="#fbbe23"/>
<circle cx="149.15" cy="614.07" r="1.55" fill="#fbbe23"/>
<circle cx="149.62" cy="616.95" r="1.55" fill="#fbbe23"/>
<circle cx="151.26" cy="613.67" r="1.55" fill="#fbbe23"/>
<circle cx="150.91" cy="616.91" r="1.55" fill="#fbbe23"/>
<circle cx="152.12" cy="613.57" r="1.55" fill="#fbbe23"/>
<circle cx="152.23" cy="616.78" r="1.55" fill="#fbbe23"/>
<circle cx="153.65" cy="613.46" r="1.55" fill="#fbbe23"/>
<circle cx="153.7" cy="617.15" r="1.55" fill="#fbbe23"/>
<circle cx="155.41" cy="613.22" r="1.55" fill="#fbbe23"/>
<circle cx="155.16" cy="617.57" r="1.55" fill="#fbbe23"/>
<circle cx="157.04" cy="612.93" r="1.55" fill="#fbbe23"/>
<circle cx="157.26" cy="618.12" r="1.55" fill="#fbbe23"/>
<circle cx="158.32" cy="612.27" r="1.55" fill="#fbbe23"/>
<circle cx="158.39" cy="618.51" r="1.55" fill="#fbbe23"/>
<circle cx="160.37" cy="611.59" r="1.55" fill="#fbbe23"/>
<circle cx="159.74" cy="618.64" r="1.55" fill="#fbbe23"/>
<circle cx="161.29" cy="611.26" r="1.55" fill="#fbbe23"/>
<circle cx="161.57" cy="619.19" r="1.55" fill="#fbbe23"/>
<circle cx="162.6" cy="610.65" r="1.55" fill="#fbbe23"/>
<circle cx="162.9" cy="619.94" r="1.55" fill="#fbbe23"/>
<circle cx="164.86" cy="610.21" r="1.55" fill="#fbbe23"/>
<circle cx="164.51" cy="620.58" r="1.55" fill="#fbbe23"/>
<circle cx="166.14" cy="609.43" r="1.55" fill="#fbbe23"/>
<circle cx="166.32" cy="621.07" r="1.55" fill="#fbbe23"/>
<circle cx="167.8" cy="609.57" r="1.55" fill="#fbbe23"/>
<circle cx="167.41" cy="621.14" r="1.55" fill="#fbbe23"/>
<circle cx="168.68" cy="609.41" r="1.55" fill="#fbbe23"/>
<circle cx="168.65" cy="621.01" r="1.55" fill="#fbbe23"/>
<circle cx="170.27" cy="609.18" r="1.55" fill="#fbbe23"/>
<circle cx="170.37" cy="620.95" r="1.55" fill="#fbbe23"/>
<circle cx="171.6" cy="609.63" r="1.55" fill="#fbbe23"/>
<circle cx="171.68" cy="620.68" r="1.55" fill="#fbbe23"/>
<circle cx="173.12" cy="610.72" r="1.55" fill="#fbbe23"/>
<circle cx="173.59" cy="619.89" r="1.55" fill="#fbbe23"/>
<circle cx="174.8" cy="612.65" r="1.55" fill="#fbbe23"/>
<circle cx="174.89" cy="617.63" r="1.55" fill="#fbbe23"/>
<circle cx="169.78" cy="612.49" r="1.55" fill="#ea632a"/>
<circle cx="169.47" cy="618.4" r="1.55" fill="#ea632a"/>
<circle cx="170.67" cy="611.3" r="1.55" fill="#ea632a"/>
<circle cx="170.87" cy="618.92" r="1.55" fill="#ea632a"/>
<circle cx="172.76" cy="611.09" r="1.55" fill="#ea632a"/>
<circle cx="172.12" cy="619.58" r="1.55" fill="#ea632a"/>
<circle cx="174.02" cy="611.68" r="1.55" fill="#ea632a"/>
<circle cx="174.03" cy="618.42" r="1.55" fill="#ea632a"/>
<circle cx="175.52" cy="614.48" r="1.55" fill="#ea632a"/>
<circle cx="175.79" cy="616.52" r="1.55" fill="#ea632a"/>
<circle cx="167.5" cy="613.3" r="1.55" fill="#fbbe23"/>
<circle cx="171.5" cy="616.3" r="1.55" fill="#fbbe23"/>
<circle cx="174.8" cy="614.8" r="1.55" fill="#fbbe23"/>
<circle cx="172.5" cy="618.8" r="1.55" fill="#fbbe23"/>
<circle cx="164" cy="619.8" r="1.55" fill="#fbbe23"/>
<circle cx="166" cy="610.8" r="1.55" fill="#ea632a"/>
<circle cx="163.5" cy="616.8" r="1.55" fill="#ea632a"/>
<circle cx="175.81" cy="612.12" r="1.55" fill="#a82e5f"/>
<circle cx="175.73" cy="618.57" r="1.55" fill="#a82e5f"/>
<circle cx="177.53" cy="607.86" r="1.55" fill="#a82e5f"/>
<circle cx="177.36" cy="622.74" r="1.55" fill="#a82e5f"/>
<circle cx="179.25" cy="606.79" r="1.55" fill="#a82e5f"/>
<circle cx="179.28" cy="624.29" r="1.55" fill="#a82e5f"/>
<circle cx="180.75" cy="605.9" r="1.55" fill="#a82e5f"/>
<circle cx="180.28" cy="624.85" r="1.55" fill="#a82e5f"/>
<circle cx="181.88" cy="605.66" r="1.55" fill="#a82e5f"/>
<circle cx="181.62" cy="624.52" r="1.55" fill="#a82e5f"/>
<circle cx="183.31" cy="606.25" r="1.55" fill="#a82e5f"/>
<circle cx="183.87" cy="624.44" r="1.55" fill="#a82e5f"/>
<circle cx="185.35" cy="607.15" r="1.55" fill="#a82e5f"/>
<circle cx="185.36" cy="623.66" r="1.55" fill="#a82e5f"/>
<circle cx="186.28" cy="607.7" r="1.55" fill="#a82e5f"/>
<circle cx="186.26" cy="622.56" r="1.55" fill="#a82e5f"/>
<circle cx="188.1" cy="609.64" r="1.55" fill="#a82e5f"/>
<circle cx="188.27" cy="621.19" r="1.55" fill="#a82e5f"/>
<circle cx="189.62" cy="611.37" r="1.55" fill="#a82e5f"/>
<circle cx="189.17" cy="619.5" r="1.55" fill="#a82e5f"/>
<circle cx="191.33" cy="612.62" r="1.55" fill="#a82e5f"/>
<circle cx="191.2" cy="618.13" r="1.55" fill="#a82e5f"/>
<circle cx="192.24" cy="613.64" r="1.55" fill="#a82e5f"/>
<circle cx="192.37" cy="617.32" r="1.55" fill="#a82e5f"/>
<circle cx="194.38" cy="613.9" r="1.55" fill="#a82e5f"/>
<circle cx="193.92" cy="616.91" r="1.55" fill="#a82e5f"/>
<circle cx="195.68" cy="614.15" r="1.55" fill="#a82e5f"/>
<circle cx="195.2" cy="616.05" r="1.55" fill="#a82e5f"/>
<circle cx="178.5" cy="612.3" r="1.55" fill="#fbbe23"/>
<circle cx="184" cy="622.3" r="1.55" fill="#fbbe23"/>
<circle cx="181" cy="620.3" r="1.55" fill="#ea632a"/>
<circle cx="193.5" cy="615.3" r="1.55" fill="#fbbe23"/>
<circle cx="196.5" cy="614.8" r="1.55" fill="#fbbe23"/>
<circle cx="194.4" cy="615.3" r="1.55" fill="#57106e"/>
<circle cx="196" cy="615.46" r="1.55" fill="#a82e5f"/>
<circle cx="196.57" cy="615.43" r="1.55" fill="#57106e"/>
<circle cx="197.47" cy="615.24" r="1.55" fill="#a82e5f"/>
<circle cx="198.04" cy="615.11" r="1.55" fill="#57106e"/>
<circle cx="198.93" cy="615.31" r="1.55" fill="#57106e"/>
<circle cx="199.69" cy="615.45" r="1.55" fill="#a82e5f"/>
<circle cx="200.31" cy="615.2" r="1.55" fill="#a82e5f"/>
<circle cx="200.94" cy="615.33" r="1.55" fill="#a82e5f"/>
<circle cx="201.69" cy="615.15" r="1.55" fill="#57106e"/>
<circle cx="202.4" cy="615.28" r="1.55" fill="#a82e5f"/>
<circle cx="203.45" cy="615.27" r="1.55" fill="#57106e"/>
<circle cx="204.25" cy="615.31" r="1.55" fill="#a82e5f"/>
<circle cx="204.75" cy="615.28" r="1.55" fill="#a82e5f"/>
<circle cx="205.23" cy="615.42" r="1.55" fill="#a82e5f"/>
<circle cx="206.01" cy="615.39" r="1.55" fill="#a82e5f"/>
<circle cx="206.7" cy="615.31" r="1.55" fill="#a82e5f"/>
<circle cx="207.68" cy="615.14" r="1.55" fill="#a82e5f"/>
<circle cx="208.32" cy="615.21" r="1.55" fill="#a82e5f"/>
<circle cx="209.13" cy="615.32" r="1.55" fill="#a82e5f"/>
<circle cx="210.19" cy="615.28" r="1.55" fill="#a82e5f"/>
<circle cx="210.99" cy="615.3" r="1.55" fill="#a82e5f"/>
<circle cx="211.76" cy="615.31" r="1.55" fill="#a82e5f"/>
<circle cx="212.85" cy="615.38" r="1.55" fill="#a82e5f"/>
<circle cx="213.93" cy="615.2" r="1.55" fill="#a82e5f"/>
<circle cx="215.01" cy="615.44" r="1.55" fill="#a82e5f"/>
<circle cx="215.57" cy="615.28" r="1.55" fill="#a82e5f"/>
<circle cx="216.21" cy="615.13" r="1.55" fill="#a82e5f"/>
<circle cx="217.19" cy="615.46" r="1.55" fill="#a82e5f"/>
<circle cx="218.13" cy="615.36" r="1.55" fill="#a82e5f"/>
<circle cx="219.17" cy="615.49" r="1.55" fill="#a82e5f"/>
<circle cx="220.26" cy="615.26" r="1.55" fill="#a82e5f"/>
<circle cx="221.37" cy="615.43" r="1.55" fill="#a82e5f"/>
<circle cx="222.13" cy="615.31" r="1.55" fill="#a82e5f"/>
<circle cx="222.73" cy="615.23" r="1.55" fill="#a82e5f"/>
<circle cx="223.23" cy="615.32" r="1.55" fill="#a82e5f"/>
<circle cx="223.72" cy="615.23" r="1.55" fill="#a82e5f"/>
<circle cx="224.53" cy="615.13" r="1.55" fill="#57106e"/>
<circle cx="225.51" cy="615.49" r="1.55" fill="#a82e5f"/>
<circle cx="226.16" cy="615.12" r="1.55" fill="#a82e5f"/>
<circle cx="226.81" cy="615.15" r="1.55" fill="#a82e5f"/>
<circle cx="227.88" cy="615.43" r="1.55" fill="#a82e5f"/>
<circle cx="228.45" cy="615.47" r="1.55" fill="#a82e5f"/>
<circle cx="229.38" cy="615.14" r="1.55" fill="#a82e5f"/>
<circle cx="230.3" cy="615.27" r="1.55" fill="#a82e5f"/>
<circle cx="231.38" cy="615.35" r="1.55" fill="#a82e5f"/>
<circle cx="231.92" cy="615.44" r="1.55" fill="#a82e5f"/>
<circle cx="232.95" cy="615.28" r="1.55" fill="#a82e5f"/>
<circle cx="233.78" cy="615.47" r="1.55" fill="#a82e5f"/>
<circle cx="234.34" cy="615.31" r="1.55" fill="#a82e5f"/>
<circle cx="234.89" cy="615.16" r="1.55" fill="#a82e5f"/>
<circle cx="207.9" cy="615.3" r="1.55" fill="#57106e"/>
<circle cx="224.5" cy="615.3" r="1.55" fill="#57106e"/>
<circle cx="213" cy="615.3" r="1.55" fill="#57106e"/>
<circle cx="243.2" cy="615.3" r="1.55" fill="#a82e5f"/>
<circle cx="245.4" cy="615.3" r="1.55" fill="#a82e5f"/>
<circle cx="266.7" cy="615.3" r="1.55" fill="#57106e"/>
<circle cx="158.05" cy="638.55" r="1.55" fill="#57106e"/>
<circle cx="158.41" cy="640.65" r="1.55" fill="#57106e"/>
<circle cx="159.7" cy="638.1" r="1.55" fill="#57106e"/>
<circle cx="159.58" cy="640.86" r="1.55" fill="#57106e"/>
<circle cx="161" cy="637.62" r="1.55" fill="#57106e"/>
<circle cx="161.39" cy="641.56" r="1.55" fill="#57106e"/>
<circle cx="162.45" cy="637.44" r="1.55" fill="#57106e"/>
<circle cx="163.05" cy="641.75" r="1.55" fill="#57106e"/>
<circle cx="164.46" cy="636.87" r="1.55" fill="#57106e"/>
<circle cx="164.2" cy="642.73" r="1.55" fill="#57106e"/>
<circle cx="165.61" cy="636.06" r="1.55" fill="#57106e"/>
<circle cx="165.85" cy="643.67" r="1.55" fill="#57106e"/>
<circle cx="167.07" cy="635.05" r="1.55" fill="#57106e"/>
<circle cx="167.37" cy="644.67" r="1.55" fill="#57106e"/>
<circle cx="168.62" cy="632.12" r="1.55" fill="#57106e"/>
<circle cx="168.34" cy="647" r="1.55" fill="#57106e"/>
<circle cx="169.86" cy="630.72" r="1.55" fill="#57106e"/>
<circle cx="170" cy="648.66" r="1.55" fill="#57106e"/>
<circle cx="171.37" cy="631" r="1.55" fill="#57106e"/>
<circle cx="172" cy="648.75" r="1.55" fill="#57106e"/>
<circle cx="173.03" cy="634.46" r="1.55" fill="#57106e"/>
<circle cx="173.03" cy="644.8" r="1.55" fill="#57106e"/>
<circle cx="174.43" cy="637.93" r="1.55" fill="#57106e"/>
<circle cx="174.51" cy="641.75" r="1.55" fill="#57106e"/>
<circle cx="186" cy="639.72" r="1.55" fill="#f98e09"/>
<circle cx="188.5" cy="639.96" r="1.55" fill="#a82e5f"/>
<circle cx="189.06" cy="639.95" r="1.55" fill="#a82e5f"/>
<circle cx="189.68" cy="639.47" r="1.55" fill="#a82e5f"/>
<circle cx="190.36" cy="639.72" r="1.55" fill="#a82e5f"/>
<circle cx="191.07" cy="639.47" r="1.55" fill="#a82e5f"/>
<circle cx="191.54" cy="639.67" r="1.55" fill="#a82e5f"/>
<circle cx="191.97" cy="639.62" r="1.55" fill="#a82e5f"/>
<circle cx="192.72" cy="639.73" r="1.55" fill="#ea632a"/>
<circle cx="193.5" cy="639.83" r="1.55" fill="#ea632a"/>
<circle cx="194.14" cy="639.63" r="1.55" fill="#cc4248"/>
<circle cx="194.65" cy="639.83" r="1.55" fill="#a82e5f"/>
<circle cx="195.09" cy="639.89" r="1.55" fill="#cc4248"/>
<circle cx="195.86" cy="639.84" r="1.55" fill="#ea632a"/>
<circle cx="196.36" cy="639.73" r="1.55" fill="#a82e5f"/>
<circle cx="197.25" cy="639.87" r="1.55" fill="#ea632a"/>
<circle cx="197.99" cy="639.92" r="1.55" fill="#ea632a"/>
<circle cx="198.8" cy="639.58" r="1.55" fill="#a82e5f"/>
<circle cx="199.3" cy="639.65" r="1.55" fill="#a82e5f"/>
<circle cx="200.19" cy="639.75" r="1.55" fill="#a82e5f"/>
<circle cx="200.96" cy="639.81" r="1.55" fill="#a82e5f"/>
<circle cx="201.38" cy="639.87" r="1.55" fill="#ea632a"/>
<circle cx="202.08" cy="639.74" r="1.55" fill="#a82e5f"/>
<circle cx="202.54" cy="639.84" r="1.55" fill="#a82e5f"/>
<circle cx="203" cy="639.6" r="1.55" fill="#ea632a"/>
<circle cx="203.53" cy="639.84" r="1.55" fill="#cc4248"/>
<circle cx="204.23" cy="639.66" r="1.55" fill="#a82e5f"/>
<circle cx="205.03" cy="639.85" r="1.55" fill="#a82e5f"/>
<circle cx="205.81" cy="639.51" r="1.55" fill="#a82e5f"/>
<circle cx="206.37" cy="639.84" r="1.55" fill="#a82e5f"/>
<circle cx="207.11" cy="639.48" r="1.55" fill="#a82e5f"/>
<circle cx="207.68" cy="639.81" r="1.55" fill="#ea632a"/>
<circle cx="208.48" cy="639.62" r="1.55" fill="#a82e5f"/>
<circle cx="209.16" cy="639.7" r="1.55" fill="#a82e5f"/>
<circle cx="210.08" cy="639.57" r="1.55" fill="#cc4248"/>
<circle cx="211.03" cy="639.48" r="1.55" fill="#a82e5f"/>
<circle cx="211.91" cy="639.95" r="1.55" fill="#a82e5f"/>
<circle cx="212.48" cy="639.57" r="1.55" fill="#cc4248"/>
<circle cx="213.01" cy="639.76" r="1.55" fill="#a82e5f"/>
<circle cx="213.73" cy="639.95" r="1.55" fill="#a82e5f"/>
<circle cx="214.61" cy="639.72" r="1.55" fill="#ea632a"/>
<circle cx="215.42" cy="639.59" r="1.55" fill="#cc4248"/>
<circle cx="216.11" cy="639.48" r="1.55" fill="#a82e5f"/>
<circle cx="216.81" cy="639.7" r="1.55" fill="#a82e5f"/>
<circle cx="217.31" cy="639.64" r="1.55" fill="#a82e5f"/>
<circle cx="218.2" cy="639.47" r="1.55" fill="#ea632a"/>
<circle cx="219.09" cy="639.53" r="1.55" fill="#cc4248"/>
<circle cx="219.91" cy="639.92" r="1.55" fill="#a82e5f"/>
<circle cx="220.54" cy="639.67" r="1.55" fill="#cc4248"/>
<circle cx="221.29" cy="639.65" r="1.55" fill="#a82e5f"/>
<circle cx="221.86" cy="639.49" r="1.55" fill="#a82e5f"/>
<circle cx="222" cy="639.7" r="1.55" fill="#cc4248"/>
<circle cx="223.28" cy="639.7" r="1.55" fill="#a82e5f"/>
<circle cx="224.48" cy="639.71" r="1.55" fill="#cc4248"/>
<circle cx="226.57" cy="639.75" r="1.55" fill="#a82e5f"/>
<circle cx="228.7" cy="639.76" r="1.55" fill="#a82e5f"/>
<circle cx="230.58" cy="639.67" r="1.55" fill="#a82e5f"/>
<circle cx="232.12" cy="639.75" r="1.55" fill="#a82e5f"/>
<circle cx="233.45" cy="639.67" r="1.55" fill="#cc4248"/>
<circle cx="234.57" cy="639.72" r="1.55" fill="#ea632a"/>
<circle cx="235.91" cy="639.74" r="1.55" fill="#cc4248"/>
<circle cx="243.3" cy="639.72" r="1.55" fill="#ea632a"/>
<circle cx="249.5" cy="639.72" r="1.55" fill="#a82e5f"/>
<circle cx="252" cy="639.72" r="1.55" fill="#a82e5f"/>
<circle cx="257" cy="639.72" r="1.55" fill="#cc4248"/>
<circle cx="263" cy="639.72" r="1.55" fill="#ea632a"/>
<circle cx="266" cy="639.72" r="1.55" fill="#a82e5f"/>
<circle cx="269.4" cy="639.72" r="1.55" fill="#ea632a"/>
<circle cx="277" cy="639.72" r="1.55" fill="#a82e5f"/>
<circle cx="291.9" cy="639.72" r="1.55" fill="#ea632a"/>
<circle cx="301.8" cy="639.72" r="1.55" fill="#ea632a"/>
<circle cx="307.5" cy="639.72" r="1.55" fill="#ea632a"/>
<circle cx="310" cy="639.72" r="1.55" fill="#ea632a"/>
<circle cx="316.7" cy="639.72" r="1.55" fill="#ea632a"/>
<circle cx="138.8" cy="664.14" r="1.55" fill="#fbbe23"/>
<circle cx="141.6" cy="664.14" r="1.55" fill="#fbbe23"/>
<circle cx="144.5" cy="664.14" r="1.55" fill="#fbbe23"/>
<circle cx="147.5" cy="664.14" r="1.55" fill="#fbbe23"/>
<circle cx="151" cy="664.14" r="1.55" fill="#57106e"/>
<circle cx="153" cy="664.14" r="1.55" fill="#fbbe23"/>
<circle cx="155" cy="664.34" r="1.55" fill="#fbbe23"/>
<circle cx="155.94" cy="664" r="1.55" fill="#fbbe23"/>
<circle cx="156.6" cy="663.76" r="1.55" fill="#ea632a"/>
<circle cx="157.5" cy="663.78" r="1.55" fill="#ea632a"/>
<circle cx="158.75" cy="664.07" r="1.55" fill="#fbbe23"/>
<circle cx="159.43" cy="663.61" r="1.55" fill="#fbbe23"/>
<circle cx="160.04" cy="663.8" r="1.55" fill="#fbbe23"/>
<circle cx="160.99" cy="664.64" r="1.55" fill="#57106e"/>
<circle cx="161.82" cy="664.03" r="1.55" fill="#57106e"/>
<circle cx="162.64" cy="663.93" r="1.55" fill="#fbbe23"/>
<circle cx="163.37" cy="662.91" r="1.55" fill="#fbbe23"/>
<circle cx="163" cy="665.22" r="1.55" fill="#fbbe23"/>
<circle cx="164.79" cy="662.55" r="1.55" fill="#fbbe23"/>
<circle cx="164.32" cy="665.41" r="1.55" fill="#fbbe23"/>
<circle cx="165.92" cy="662.28" r="1.55" fill="#fbbe23"/>
<circle cx="166.36" cy="666.18" r="1.55" fill="#fbbe23"/>
<circle cx="167.8" cy="661.5" r="1.55" fill="#fbbe23"/>
<circle cx="167.13" cy="666.62" r="1.55" fill="#fbbe23"/>
<circle cx="169.32" cy="661.02" r="1.55" fill="#fbbe23"/>
<circle cx="169.07" cy="666.95" r="1.55" fill="#fbbe23"/>
<circle cx="170.41" cy="659.79" r="1.55" fill="#fbbe23"/>
<circle cx="170.76" cy="668.96" r="1.55" fill="#fbbe23"/>
<circle cx="172.38" cy="656.13" r="1.55" fill="#fbbe23"/>
<circle cx="171.69" cy="671.79" r="1.55" fill="#fbbe23"/>
<circle cx="173.52" cy="656.81" r="1.55" fill="#fbbe23"/>
<circle cx="173.85" cy="671.71" r="1.55" fill="#fbbe23"/>
<circle cx="175.12" cy="660.39" r="1.55" fill="#fbbe23"/>
<circle cx="174.97" cy="668.08" r="1.55" fill="#fbbe23"/>
<circle cx="176.13" cy="663.1" r="1.55" fill="#fbbe23"/>
<circle cx="176.29" cy="665.6" r="1.55" fill="#fbbe23"/>
<circle cx="171.39" cy="661.69" r="1.55" fill="#57106e"/>
<circle cx="166.27" cy="664.62" r="1.55" fill="#fbbe23"/>
<circle cx="164.46" cy="663.07" r="1.55" fill="#57106e"/>
<circle cx="170.58" cy="663.11" r="1.55" fill="#57106e"/>
<circle cx="170.81" cy="659.17" r="1.55" fill="#57106e"/>
<circle cx="168.99" cy="666.84" r="1.55" fill="#fbbe23"/>
<circle cx="174.49" cy="663.89" r="1.55" fill="#57106e"/>
<circle cx="166.21" cy="665.74" r="1.55" fill="#fbbe23"/>
<circle cx="167" cy="662.28" r="1.55" fill="#57106e"/>
<circle cx="171.77" cy="663" r="1.55" fill="#57106e"/>
<circle cx="171.68" cy="670" r="1.55" fill="#57106e"/>
<circle cx="163.44" cy="663.83" r="1.55" fill="#57106e"/>
<circle cx="171.87" cy="659.68" r="1.55" fill="#fbbe23"/>
<circle cx="172.61" cy="664.23" r="1.55" fill="#57106e"/>
<circle cx="175.61" cy="663.21" r="1.55" fill="#fbbe23"/>
<circle cx="166" cy="663.21" r="1.55" fill="#fbbe23"/>
<circle cx="166.83" cy="665.86" r="1.55" fill="#57106e"/>
<circle cx="165.44" cy="663.3" r="1.55" fill="#57106e"/>
<circle cx="171.65" cy="670.26" r="1.55" fill="#57106e"/>
<circle cx="168.11" cy="662.7" r="1.55" fill="#ea632a"/>
<circle cx="164.84" cy="662.92" r="1.55" fill="#57106e"/>
<circle cx="168.11" cy="666.14" r="1.55" fill="#ea632a"/>
<circle cx="172.53" cy="673" r="1.55" fill="#ea632a"/>
<circle cx="167.28" cy="662.83" r="1.55" fill="#ea632a"/>
<circle cx="172.7" cy="656.08" r="1.55" fill="#fbbe23"/>
<circle cx="167.92" cy="663.53" r="1.55" fill="#57106e"/>
<circle cx="176.4" cy="663.71" r="1.55" fill="#57106e"/>
<circle cx="177.06" cy="663.95" r="1.55" fill="#fbbe23"/>
<circle cx="177.62" cy="664.74" r="1.55" fill="#57106e"/>
<circle cx="178.33" cy="664.56" r="1.55" fill="#fbbe23"/>
<circle cx="179.08" cy="663.55" r="1.55" fill="#a82e5f"/>
<circle cx="179.8" cy="664.69" r="1.55" fill="#57106e"/>
<circle cx="180.51" cy="664.66" r="1.55" fill="#57106e"/>
<circle cx="181.26" cy="664.55" r="1.55" fill="#a82e5f"/>
<circle cx="181.76" cy="663.54" r="1.55" fill="#57106e"/>
<circle cx="182.83" cy="663.82" r="1.55" fill="#a82e5f"/>
<circle cx="183.89" cy="663.93" r="1.55" fill="#57106e"/>
<circle cx="184.2" cy="664.2" r="1.55" fill="#a82e5f"/>
<circle cx="185.08" cy="664.05" r="1.55" fill="#a82e5f"/>
<circle cx="185.53" cy="664.27" r="1.55" fill="#cc4248"/>
<circle cx="186.36" cy="664.36" r="1.55" fill="#a82e5f"/>
<circle cx="186.95" cy="664.13" r="1.55" fill="#cc4248"/>
<circle cx="187.98" cy="664.08" r="1.55" fill="#a82e5f"/>
<circle cx="188.68" cy="664.14" r="1.55" fill="#cc4248"/>
<circle cx="189.24" cy="664.29" r="1.55" fill="#ea632a"/>
<circle cx="190.19" cy="664.28" r="1.55" fill="#ea632a"/>
<circle cx="190.83" cy="664.05" r="1.55" fill="#a82e5f"/>
<circle cx="191.75" cy="663.93" r="1.55" fill="#a82e5f"/>
<circle cx="192.65" cy="664.01" r="1.55" fill="#a82e5f"/>
<circle cx="193.12" cy="664.17" r="1.55" fill="#a82e5f"/>
<circle cx="194.16" cy="664.33" r="1.55" fill="#cc4248"/>
<circle cx="194.77" cy="663.93" r="1.55" fill="#a82e5f"/>
<circle cx="195.52" cy="664.24" r="1.55" fill="#a82e5f"/>
<circle cx="196.11" cy="664.1" r="1.55" fill="#ea632a"/>
<circle cx="196.97" cy="664.26" r="1.55" fill="#ea632a"/>
<circle cx="197.81" cy="663.95" r="1.55" fill="#ea632a"/>
<circle cx="198.44" cy="664.17" r="1.55" fill="#a82e5f"/>
<circle cx="199.33" cy="663.99" r="1.55" fill="#a82e5f"/>
<circle cx="199.93" cy="663.97" r="1.55" fill="#cc4248"/>
<circle cx="200.73" cy="664.05" r="1.55" fill="#a82e5f"/>
<circle cx="201.77" cy="664.14" r="1.55" fill="#a82e5f"/>
<circle cx="202.71" cy="664.22" r="1.55" fill="#cc4248"/>
<circle cx="203.22" cy="664.13" r="1.55" fill="#ea632a"/>
<circle cx="204.17" cy="664.35" r="1.55" fill="#a82e5f"/>
<circle cx="204.8" cy="663.95" r="1.55" fill="#a82e5f"/>
<circle cx="205.83" cy="664.18" r="1.55" fill="#cc4248"/>
<circle cx="206.51" cy="664.32" r="1.55" fill="#a82e5f"/>
<circle cx="207.11" cy="664.28" r="1.55" fill="#cc4248"/>
<circle cx="207.63" cy="664.19" r="1.55" fill="#ea632a"/>
<circle cx="208.21" cy="664.07" r="1.55" fill="#a82e5f"/>
<circle cx="208.78" cy="664.02" r="1.55" fill="#ea632a"/>
<circle cx="209.62" cy="663.99" r="1.55" fill="#a82e5f"/>
<circle cx="210.27" cy="664.23" r="1.55" fill="#a82e5f"/>
<circle cx="210.9" cy="663.99" r="1.55" fill="#ea632a"/>
<circle cx="211.68" cy="663.92" r="1.55" fill="#a82e5f"/>
<circle cx="212.37" cy="664.17" r="1.55" fill="#ea632a"/>
<circle cx="212.88" cy="663.97" r="1.55" fill="#ea632a"/>
<circle cx="213.57" cy="664.03" r="1.55" fill="#a82e5f"/>
<circle cx="214.59" cy="664.05" r="1.55" fill="#ea632a"/>
<circle cx="215.26" cy="664.1" r="1.55" fill="#ea632a"/>
<circle cx="216.31" cy="664.07" r="1.55" fill="#a82e5f"/>
<circle cx="217.19" cy="663.99" r="1.55" fill="#a82e5f"/>
<circle cx="218.18" cy="664.1" r="1.55" fill="#ea632a"/>
<circle cx="218.88" cy="664.33" r="1.55" fill="#a82e5f"/>
<circle cx="219.42" cy="663.9" r="1.55" fill="#ea632a"/>
<circle cx="220.26" cy="664.34" r="1.55" fill="#a82e5f"/>
<circle cx="221.08" cy="664.08" r="1.55" fill="#ea632a"/>
<circle cx="221.62" cy="664.03" r="1.55" fill="#ea632a"/>
<circle cx="222.62" cy="663.94" r="1.55" fill="#a82e5f"/>
<circle cx="223.56" cy="664.37" r="1.55" fill="#a82e5f"/>
<circle cx="224.08" cy="664.36" r="1.55" fill="#cc4248"/>
<circle cx="224.82" cy="663.92" r="1.55" fill="#cc4248"/>
<circle cx="225.51" cy="664.34" r="1.55" fill="#ea632a"/>
<circle cx="226.45" cy="663.97" r="1.55" fill="#ea632a"/>
<circle cx="227.03" cy="664.09" r="1.55" fill="#ea632a"/>
<circle cx="227.98" cy="663.98" r="1.55" fill="#a82e5f"/>
<circle cx="228.67" cy="664.15" r="1.55" fill="#a82e5f"/>
<circle cx="229.2" cy="664.01" r="1.55" fill="#ea632a"/>
<circle cx="230.18" cy="663.91" r="1.55" fill="#ea632a"/>
<circle cx="231.09" cy="663.91" r="1.55" fill="#ea632a"/>
<circle cx="231.61" cy="664.19" r="1.55" fill="#ea632a"/>
<circle cx="232.44" cy="664.04" r="1.55" fill="#a82e5f"/>
<circle cx="236.2" cy="664.14" r="1.55" fill="#ea632a"/>
<circle cx="241.7" cy="664.14" r="1.55" fill="#ea632a"/>
<circle cx="248.3" cy="664.14" r="1.55" fill="#a82e5f"/>
<circle cx="255" cy="664.14" r="1.55" fill="#cc4248"/>
<circle cx="258" cy="664.14" r="1.55" fill="#cc4248"/>
<circle cx="261" cy="664.14" r="1.55" fill="#a82e5f"/>
<circle cx="263.8" cy="664.14" r="1.55" fill="#cc4248"/>
<circle cx="151" cy="688.56" r="1.55" fill="#a82e5f"/>
<circle cx="153.5" cy="688.56" r="1.55" fill="#ea632a"/>
<circle cx="155.4" cy="688.42" r="1.55" fill="#57106e"/>
<circle cx="156.17" cy="688.44" r="1.55" fill="#57106e"/>
<circle cx="157.04" cy="688.54" r="1.55" fill="#57106e"/>
<circle cx="158.01" cy="689.09" r="1.55" fill="#57106e"/>
<circle cx="158.61" cy="688.51" r="1.55" fill="#57106e"/>
<circle cx="159.17" cy="688.43" r="1.55" fill="#57106e"/>
<circle cx="159.93" cy="688.58" r="1.55" fill="#57106e"/>
<circle cx="160.82" cy="687.77" r="1.55" fill="#57106e"/>
<circle cx="161.8" cy="688.58" r="1.55" fill="#57106e"/>
<circle cx="162.6" cy="688.33" r="1.55" fill="#a82e5f"/>
<circle cx="163.17" cy="689.24" r="1.55" fill="#a82e5f"/>
<circle cx="164.11" cy="689.16" r="1.55" fill="#57106e"/>
<circle cx="164.29" cy="687.63" r="1.55" fill="#57106e"/>
<circle cx="164.63" cy="689.56" r="1.55" fill="#57106e"/>
<circle cx="166.03" cy="687.25" r="1.55" fill="#57106e"/>
<circle cx="165.45" cy="690.04" r="1.55" fill="#57106e"/>
<circle cx="167.5" cy="686.42" r="1.55" fill="#57106e"/>
<circle cx="167.62" cy="690.36" r="1.55" fill="#57106e"/>
<circle cx="169.05" cy="685.76" r="1.55" fill="#57106e"/>
<circle cx="168.8" cy="691.4" r="1.55" fill="#57106e"/>
<circle cx="170.07" cy="684.93" r="1.55" fill="#57106e"/>
<circle cx="170.3" cy="691.94" r="1.55" fill="#57106e"/>
<circle cx="171.43" cy="680.86" r="1.55" fill="#57106e"/>
<circle cx="171.53" cy="696.33" r="1.55" fill="#57106e"/>
<circle cx="173.44" cy="680.79" r="1.55" fill="#57106e"/>
<circle cx="173.03" cy="696.74" r="1.55" fill="#57106e"/>
<circle cx="174.49" cy="683.84" r="1.55" fill="#57106e"/>
<circle cx="174.91" cy="693.21" r="1.55" fill="#57106e"/>
<circle cx="176.6" cy="687.01" r="1.55" fill="#57106e"/>
<circle cx="176.36" cy="690.37" r="1.55" fill="#57106e"/>
<circle cx="166.15" cy="690.04" r="1.55" fill="#a82e5f"/>
<circle cx="169.34" cy="690.2" r="1.55" fill="#ea632a"/>
<circle cx="175.9" cy="688.9" r="1.55" fill="#ea632a"/>
<circle cx="173.41" cy="687.68" r="1.55" fill="#ea632a"/>
<circle cx="173.18" cy="681.25" r="1.55" fill="#fbbe23"/>
<circle cx="167.79" cy="689.09" r="1.55" fill="#fbbe23"/>
<circle cx="171.44" cy="690.62" r="1.55" fill="#ea632a"/>
<circle cx="165.02" cy="687.42" r="1.55" fill="#ea632a"/>
<circle cx="171.78" cy="687.57" r="1.55" fill="#ea632a"/>
<circle cx="174.85" cy="685.27" r="1.55" fill="#ea632a"/>
<circle cx="172.18" cy="680.44" r="1.55" fill="#ea632a"/>
<circle cx="168.9" cy="686.6" r="1.55" fill="#ea632a"/>
<circle cx="176.4" cy="688.2" r="1.55" fill="#a82e5f"/>
<circle cx="177.26" cy="688.18" r="1.55" fill="#a82e5f"/>
<circle cx="178.04" cy="688.09" r="1.55" fill="#a82e5f"/>
<circle cx="178.68" cy="688.1" r="1.55" fill="#57106e"/>
<circle cx="179.57" cy="689.04" r="1.55" fill="#a82e5f"/>
<circle cx="180.3" cy="688.25" r="1.55" fill="#57106e"/>
<circle cx="181.2" cy="688.64" r="1.55" fill="#57106e"/>
<circle cx="182.09" cy="688.49" r="1.55" fill="#a82e5f"/>
<circle cx="183.04" cy="688.23" r="1.55" fill="#a82e5f"/>
<circle cx="183.55" cy="688.6" r="1.55" fill="#57106e"/>
<circle cx="184.18" cy="687.99" r="1.55" fill="#a82e5f"/>
<circle cx="184.67" cy="688.63" r="1.55" fill="#a82e5f"/>
<circle cx="185.24" cy="688.17" r="1.55" fill="#a82e5f"/>
<circle cx="185.3" cy="688.77" r="1.55" fill="#fbbe23"/>
<circle cx="185.78" cy="688.27" r="1.55" fill="#fbbe23"/>
<circle cx="186.2" cy="689.14" r="1.55" fill="#fbbe23"/>
<circle cx="186.96" cy="687.82" r="1.55" fill="#fbbe23"/>
<circle cx="187.74" cy="688.51" r="1.55" fill="#fbbe23"/>
<circle cx="188.36" cy="688.15" r="1.55" fill="#fbbe23"/>
<circle cx="188.87" cy="687.87" r="1.55" fill="#fbbe23"/>
<circle cx="189.65" cy="688.85" r="1.55" fill="#fbbe23"/>
<circle cx="190.41" cy="688.21" r="1.55" fill="#fbbe23"/>
<circle cx="191.03" cy="688.99" r="1.55" fill="#fbbe23"/>
<circle cx="191.56" cy="688.77" r="1.55" fill="#f98e09"/>
<circle cx="192.06" cy="689.13" r="1.55" fill="#fbbe23"/>
<circle cx="192.58" cy="688.16" r="1.55" fill="#fbbe23"/>
<circle cx="193.47" cy="688.93" r="1.55" fill="#fbbe23"/>
<circle cx="194.31" cy="688.3" r="1.55" fill="#fbbe23"/>
<circle cx="195.18" cy="688.76" r="1.55" fill="#fbbe23"/>
<circle cx="195.91" cy="689.28" r="1.55" fill="#fbbe23"/>
<circle cx="196.74" cy="688.86" r="1.55" fill="#fbbe23"/>
<circle cx="197.36" cy="688.9" r="1.55" fill="#fbbe23"/>
<circle cx="197.91" cy="688.13" r="1.55" fill="#fbbe23"/>
<circle cx="198.34" cy="689.18" r="1.55" fill="#fbbe23"/>
<circle cx="198.74" cy="687.97" r="1.55" fill="#f98e09"/>
<circle cx="199.31" cy="688.02" r="1.55" fill="#fbbe23"/>
<circle cx="199.72" cy="688.85" r="1.55" fill="#fbbe23"/>
<circle cx="200.47" cy="688.92" r="1.55" fill="#fbbe23"/>
<circle cx="201.17" cy="688.36" r="1.55" fill="#fbbe23"/>
<circle cx="201.99" cy="689.15" r="1.55" fill="#fbbe23"/>
<circle cx="202.83" cy="689.18" r="1.55" fill="#f98e09"/>
<circle cx="203.27" cy="688.12" r="1.55" fill="#fbbe23"/>
<circle cx="203.68" cy="689.08" r="1.55" fill="#fbbe23"/>
<circle cx="204.4" cy="689.05" r="1.55" fill="#fbbe23"/>
<circle cx="204.94" cy="687.96" r="1.55" fill="#fbbe23"/>
<circle cx="205.72" cy="688.12" r="1.55" fill="#fbbe23"/>
<circle cx="206.33" cy="687.84" r="1.55" fill="#fbbe23"/>
<circle cx="206.87" cy="688.88" r="1.55" fill="#fbbe23"/>
<circle cx="207.43" cy="689.26" r="1.55" fill="#fbbe23"/>
<circle cx="208.26" cy="688.74" r="1.55" fill="#fbbe23"/>
<circle cx="208.87" cy="688.46" r="1.55" fill="#fbbe23"/>
<circle cx="209.44" cy="688.87" r="1.55" fill="#fbbe23"/>
<circle cx="209.94" cy="689.1" r="1.55" fill="#fbbe23"/>
<circle cx="210.76" cy="688.07" r="1.55" fill="#fbbe23"/>
<circle cx="211.25" cy="688.95" r="1.55" fill="#f98e09"/>
<circle cx="211.64" cy="688.55" r="1.55" fill="#fbbe23"/>
<circle cx="212.45" cy="688.09" r="1.55" fill="#fbbe23"/>
<circle cx="213.02" cy="689.06" r="1.55" fill="#fbbe23"/>
<circle cx="213.9" cy="688.24" r="1.55" fill="#fbbe23"/>
<circle cx="214.65" cy="688.56" r="1.55" fill="#fbbe23"/>
<circle cx="219.6" cy="688.56" r="1.55" fill="#fbbe23"/>
<circle cx="222" cy="688.56" r="1.55" fill="#fbbe23"/>
<circle cx="224.5" cy="688.56" r="1.55" fill="#fbbe23"/>
<circle cx="228.4" cy="688.56" r="1.55" fill="#fbbe23"/>
<circle cx="231.8" cy="688.56" r="1.55" fill="#fbbe23"/>
<circle cx="234.2" cy="688.56" r="1.55" fill="#fbbe23"/>
<circle cx="238.4" cy="688.56" r="1.55" fill="#fbbe23"/>
<circle cx="241.7" cy="688.56" r="1.55" fill="#fbbe23"/>
<circle cx="244" cy="688.56" r="1.55" fill="#fbbe23"/>
<circle cx="246.5" cy="688.56" r="1.55" fill="#fbbe23"/>
<circle cx="250.6" cy="688.56" r="1.55" fill="#fbbe23"/>
<circle cx="252.8" cy="688.56" r="1.55" fill="#fbbe23"/>
<circle cx="255.5" cy="688.56" r="1.55" fill="#fbbe23"/>
<circle cx="258.5" cy="688.56" r="1.55" fill="#fbbe23"/>
<circle cx="261.6" cy="688.56" r="1.55" fill="#fbbe23"/>
<circle cx="100" cy="712.98" r="1.55" fill="#fbbe23"/>
<circle cx="123.2" cy="712.98" r="1.55" fill="#f98e09"/>
<circle cx="125.4" cy="712.98" r="1.55" fill="#fbbe23"/>
<circle cx="132" cy="712.98" r="1.55" fill="#cc4248"/>
<circle cx="135.4" cy="712.98" r="1.55" fill="#fbbe23"/>
<circle cx="137.5" cy="712.98" r="1.55" fill="#fbbe23"/>
<circle cx="143.1" cy="712.98" r="1.55" fill="#cc4248"/>
<circle cx="147.5" cy="712.6" r="1.55" fill="#fbbe23"/>
<circle cx="148.48" cy="713.24" r="1.55" fill="#fbbe23"/>
<circle cx="149.24" cy="712.89" r="1.55" fill="#ea632a"/>
<circle cx="150.35" cy="712.61" r="1.55" fill="#a82e5f"/>
<circle cx="150.88" cy="712.72" r="1.55" fill="#cc4248"/>
<circle cx="152" cy="712.98" r="1.55" fill="#ea632a"/>
<circle cx="153.11" cy="712.74" r="1.55" fill="#ea632a"/>
<circle cx="153.98" cy="713.21" r="1.55" fill="#fbbe23"/>
<circle cx="154.93" cy="712.84" r="1.55" fill="#cc4248"/>
<circle cx="155.55" cy="713.29" r="1.55" fill="#fbbe23"/>
<circle cx="156.56" cy="712.68" r="1.55" fill="#ea632a"/>
<circle cx="157.6" cy="713.05" r="1.55" fill="#cc4248"/>
<circle cx="158.42" cy="713.33" r="1.55" fill="#cc4248"/>
<circle cx="159.06" cy="712.8" r="1.55" fill="#fbbe23"/>
<circle cx="160.15" cy="712.67" r="1.55" fill="#cc4248"/>
<circle cx="160.83" cy="712.82" r="1.55" fill="#ea632a"/>
<circle cx="161.45" cy="712.83" r="1.55" fill="#cc4248"/>
<circle cx="162.62" cy="713.19" r="1.55" fill="#cc4248"/>
<circle cx="163.78" cy="712.62" r="1.55" fill="#ea632a"/>
<circle cx="164.96" cy="713.25" r="1.55" fill="#fbbe23"/>
<circle cx="165.77" cy="712.71" r="1.55" fill="#fbbe23"/>
<circle cx="166" cy="712.36" r="1.55" fill="#fbbe23"/>
<circle cx="166.5" cy="712.77" r="1.55" fill="#ea632a"/>
<circle cx="167.43" cy="712.98" r="1.55" fill="#ea632a"/>
<circle cx="168.2" cy="712.23" r="1.55" fill="#ea632a"/>
<circle cx="168.94" cy="713.49" r="1.55" fill="#cc4248"/>
<circle cx="169.7" cy="713.14" r="1.55" fill="#ea632a"/>
<circle cx="170.45" cy="712.41" r="1.55" fill="#ea632a"/>
<circle cx="171.49" cy="713.56" r="1.55" fill="#ea632a"/>
<circle cx="172.51" cy="713.36" r="1.55" fill="#ea632a"/>
<circle cx="173.29" cy="712.59" r="1.55" fill="#ea632a"/>
<circle cx="173.83" cy="712.81" r="1.55" fill="#ea632a"/>
<circle cx="174.9" cy="710.73" r="1.55" fill="#57106e"/>
<circle cx="174.74" cy="715.06" r="1.55" fill="#57106e"/>
<circle cx="176.4" cy="705.46" r="1.55" fill="#57106e"/>
<circle cx="176.44" cy="720.7" r="1.55" fill="#57106e"/>
<circle cx="177.55" cy="704.21" r="1.55" fill="#57106e"/>
<circle cx="178.02" cy="721.77" r="1.55" fill="#57106e"/>
<circle cx="179.29" cy="704.63" r="1.55" fill="#57106e"/>
<circle cx="178.93" cy="721.64" r="1.55" fill="#57106e"/>
<circle cx="180.53" cy="707.14" r="1.55" fill="#57106e"/>
<circle cx="181.15" cy="719" r="1.55" fill="#57106e"/>
<circle cx="181.98" cy="710.02" r="1.55" fill="#57106e"/>
<circle cx="182.33" cy="716.12" r="1.55" fill="#57106e"/>
<circle cx="183.81" cy="710.98" r="1.55" fill="#57106e"/>
<circle cx="184.06" cy="715.08" r="1.55" fill="#57106e"/>
<circle cx="185.23" cy="711.66" r="1.55" fill="#57106e"/>
<circle cx="185.07" cy="714.68" r="1.55" fill="#57106e"/>
<circle cx="186.71" cy="711.62" r="1.55" fill="#57106e"/>
<circle cx="186.5" cy="714.79" r="1.55" fill="#57106e"/>
<circle cx="188.18" cy="711.27" r="1.55" fill="#57106e"/>
<circle cx="188.12" cy="714.36" r="1.55" fill="#57106e"/>
<circle cx="189.41" cy="711.57" r="1.55" fill="#57106e"/>
<circle cx="189.74" cy="714.46" r="1.55" fill="#57106e"/>
<circle cx="191.18" cy="711.55" r="1.55" fill="#57106e"/>
<circle cx="191.08" cy="714.41" r="1.55" fill="#57106e"/>
<circle cx="193.15" cy="711.78" r="1.55" fill="#57106e"/>
<circle cx="192.58" cy="714.38" r="1.55" fill="#57106e"/>
<circle cx="194.21" cy="711.67" r="1.55" fill="#57106e"/>
<circle cx="194" cy="714.29" r="1.55" fill="#57106e"/>
<circle cx="196.05" cy="712.04" r="1.55" fill="#57106e"/>
<circle cx="195.78" cy="714.04" r="1.55" fill="#57106e"/>
<circle cx="197.08" cy="712.38" r="1.55" fill="#57106e"/>
<circle cx="197.18" cy="713.94" r="1.55" fill="#57106e"/>
<circle cx="123.2" cy="737.4" r="1.55" fill="#57106e"/>
<circle cx="134.3" cy="737.4" r="1.55" fill="#57106e"/>
<circle cx="137.6" cy="737.4" r="1.55" fill="#a82e5f"/>
<circle cx="144.2" cy="737.4" r="1.55" fill="#57106e"/>
<circle cx="147" cy="737.4" r="1.55" fill="#a82e5f"/>
<circle cx="149" cy="737.69" r="1.55" fill="#a82e5f"/>
<circle cx="149.88" cy="737.21" r="1.55" fill="#57106e"/>
<circle cx="150.51" cy="737.7" r="1.55" fill="#57106e"/>
<circle cx="151.66" cy="737.19" r="1.55" fill="#57106e"/>
<circle cx="152.38" cy="737.33" r="1.55" fill="#57106e"/>
<circle cx="152.92" cy="737.6" r="1.55" fill="#57106e"/>
<circle cx="153.64" cy="737.22" r="1.55" fill="#57106e"/>
<circle cx="154.49" cy="737.52" r="1.55" fill="#57106e"/>
<circle cx="155.29" cy="737.79" r="1.55" fill="#a82e5f"/>
<circle cx="155.87" cy="737.7" r="1.55" fill="#a82e5f"/>
<circle cx="156.4" cy="736.64" r="1.55" fill="#57106e"/>
<circle cx="157.17" cy="736.38" r="1.55" fill="#a82e5f"/>
<circle cx="158.13" cy="737.73" r="1.55" fill="#a82e5f"/>
<circle cx="158.6" cy="736.65" r="1.55" fill="#a82e5f"/>
<circle cx="159.46" cy="737.08" r="1.55" fill="#a82e5f"/>
<circle cx="160.39" cy="738.01" r="1.55" fill="#a82e5f"/>
<circle cx="161.3" cy="737.63" r="1.55" fill="#57106e"/>
<circle cx="162.1" cy="738.23" r="1.55" fill="#57106e"/>
<circle cx="162.99" cy="736.76" r="1.55" fill="#57106e"/>
<circle cx="163.71" cy="737.91" r="1.55" fill="#a82e5f"/>
<circle cx="164.62" cy="737.52" r="1.55" fill="#a82e5f"/>
<circle cx="165.17" cy="736.64" r="1.55" fill="#a82e5f"/>
<circle cx="165.62" cy="737.33" r="1.55" fill="#a82e5f"/>
<circle cx="166.32" cy="737.4" r="1.55" fill="#57106e"/>
<circle cx="167.22" cy="736.36" r="1.55" fill="#57106e"/>
<circle cx="167.55" cy="735.89" r="1.55" fill="#fbbe23"/>
<circle cx="167.77" cy="738.93" r="1.55" fill="#fbbe23"/>
<circle cx="168.94" cy="735.32" r="1.55" fill="#fbbe23"/>
<circle cx="168.66" cy="739.84" r="1.55" fill="#fbbe23"/>
<circle cx="170.61" cy="734.01" r="1.55" fill="#fbbe23"/>
<circle cx="170.59" cy="740.61" r="1.55" fill="#fbbe23"/>
<circle cx="172.35" cy="732.32" r="1.55" fill="#fbbe23"/>
<circle cx="172.39" cy="742.39" r="1.55" fill="#fbbe23"/>
<circle cx="173.49" cy="729.37" r="1.55" fill="#fbbe23"/>
<circle cx="173.13" cy="745.8" r="1.55" fill="#fbbe23"/>
<circle cx="175.1" cy="727.7" r="1.55" fill="#fbbe23"/>
<circle cx="175.29" cy="746.92" r="1.55" fill="#fbbe23"/>
<circle cx="176.48" cy="730.48" r="1.55" fill="#fbbe23"/>
<circle cx="176.72" cy="744.16" r="1.55" fill="#fbbe23"/>
<circle cx="177.95" cy="732.75" r="1.55" fill="#fbbe23"/>
<circle cx="178.04" cy="742.2" r="1.55" fill="#fbbe23"/>
<circle cx="179.33" cy="734.49" r="1.55" fill="#fbbe23"/>
<circle cx="179.42" cy="740.51" r="1.55" fill="#fbbe23"/>
<circle cx="180.82" cy="735.11" r="1.55" fill="#fbbe23"/>
<circle cx="181.38" cy="739.78" r="1.55" fill="#fbbe23"/>
<circle cx="182.73" cy="735.82" r="1.55" fill="#fbbe23"/>
<circle cx="182.35" cy="738.76" r="1.55" fill="#fbbe23"/>
<circle cx="176.21" cy="739.44" r="1.55" fill="#57106e"/>
<circle cx="168.56" cy="738.28" r="1.55" fill="#fbbe23"/>
<circle cx="175.64" cy="729.22" r="1.55" fill="#f98e09"/>
<circle cx="168.09" cy="736.32" r="1.55" fill="#fbbe23"/>
<circle cx="176.52" cy="739.53" r="1.55" fill="#57106e"/>
<circle cx="180.74" cy="737.91" r="1.55" fill="#ea632a"/>
<circle cx="176.78" cy="739.78" r="1.55" fill="#ea632a"/>
<circle cx="177.53" cy="734.57" r="1.55" fill="#ea632a"/>
<circle cx="174.41" cy="742.36" r="1.55" fill="#f98e09"/>
<circle cx="170.54" cy="734.62" r="1.55" fill="#57106e"/>
<circle cx="180.8" cy="738.1" r="1.55" fill="#f98e09"/>
<circle cx="179.52" cy="739.09" r="1.55" fill="#ea632a"/>
<circle cx="171.61" cy="735.68" r="1.55" fill="#f98e09"/>
<circle cx="172.46" cy="736.65" r="1.55" fill="#ea632a"/>
<circle cx="181.07" cy="735.53" r="1.55" fill="#ea632a"/>
<circle cx="168.55" cy="735.89" r="1.55" fill="#57106e"/>
<circle cx="176.05" cy="744.07" r="1.55" fill="#ea632a"/>
<circle cx="168.2" cy="736.99" r="1.55" fill="#ea632a"/>
<circle cx="181.13" cy="739.39" r="1.55" fill="#ea632a"/>
<circle cx="173.77" cy="730.36" r="1.55" fill="#ea632a"/>
<circle cx="170.97" cy="734.93" r="1.55" fill="#f98e09"/>
<circle cx="168.07" cy="738.04" r="1.55" fill="#f98e09"/>
<circle cx="181.53" cy="735.88" r="1.55" fill="#fbbe23"/>
<circle cx="169.81" cy="734.89" r="1.55" fill="#57106e"/>
<circle cx="171.39" cy="739.3" r="1.55" fill="#f98e09"/>
<circle cx="168.7" cy="738.52" r="1.55" fill="#ea632a"/>
<circle cx="179.98" cy="738.64" r="1.55" fill="#f98e09"/>
<circle cx="176.8" cy="739.9" r="1.55" fill="#ea632a"/>
<circle cx="181.05" cy="736.36" r="1.55" fill="#fbbe23"/>
<circle cx="178.04" cy="733.09" r="1.55" fill="#f98e09"/>
<circle cx="177.11" cy="740.79" r="1.55" fill="#f98e09"/>
<circle cx="172.35" cy="739.82" r="1.55" fill="#f98e09"/>
<circle cx="180.05" cy="737.33" r="1.55" fill="#f98e09"/>
<circle cx="173.15" cy="738.48" r="1.55" fill="#ea632a"/>
<circle cx="183" cy="737.56" r="1.55" fill="#fbbe23"/>
<circle cx="183.87" cy="737.28" r="1.55" fill="#fbbe23"/>
<circle cx="184.64" cy="737.33" r="1.55" fill="#fbbe23"/>
<circle cx="185.5" cy="737.8" r="1.55" fill="#fbbe23"/>
<circle cx="186.24" cy="737.21" r="1.55" fill="#fbbe23"/>
<circle cx="187.2" cy="737.58" r="1.55" fill="#fbbe23"/>
<circle cx="187.81" cy="737.5" r="1.55" fill="#f98e09"/>
<circle cx="188.69" cy="737.49" r="1.55" fill="#fbbe23"/>
<circle cx="189.35" cy="737.75" r="1.55" fill="#fbbe23"/>
<circle cx="190.16" cy="737.49" r="1.55" fill="#f98e09"/>
<circle cx="191.03" cy="737.2" r="1.55" fill="#fbbe23"/>
<circle cx="191.6" cy="737.33" r="1.55" fill="#fbbe23"/>
<circle cx="192.47" cy="737.75" r="1.55" fill="#fbbe23"/>
<circle cx="193.36" cy="737.68" r="1.55" fill="#f98e09"/>
<circle cx="194.1" cy="737.2" r="1.55" fill="#f98e09"/>
<circle cx="194.97" cy="737.57" r="1.55" fill="#f98e09"/>
<circle cx="195.59" cy="737.03" r="1.55" fill="#fbbe23"/>
<circle cx="196.45" cy="737.13" r="1.55" fill="#fbbe23"/>
<circle cx="197.4" cy="737.16" r="1.55" fill="#fbbe23"/>
<circle cx="198.19" cy="737.37" r="1.55" fill="#fbbe23"/>
<circle cx="198.76" cy="737.63" r="1.55" fill="#fbbe23"/>
<circle cx="199.43" cy="737.03" r="1.55" fill="#fbbe23"/>
<circle cx="200.29" cy="737.16" r="1.55" fill="#fbbe23"/>
<circle cx="201.21" cy="737.75" r="1.55" fill="#fbbe23"/>
<circle cx="201.9" cy="737.48" r="1.55" fill="#fbbe23"/>
<circle cx="202.42" cy="737.11" r="1.55" fill="#fbbe23"/>
<circle cx="203.05" cy="737.46" r="1.55" fill="#fbbe23"/>
<circle cx="203.76" cy="737.08" r="1.55" fill="#fbbe23"/>
<circle cx="204.74" cy="737.29" r="1.55" fill="#fbbe23"/>
<circle cx="209.5" cy="737.4" r="1.55" fill="#cc4248"/>
<circle cx="215" cy="737.4" r="1.55" fill="#cc4248"/>
<circle cx="217" cy="737.4" r="1.55" fill="#cc4248"/>
<circle cx="218.3" cy="737.4" r="1.55" fill="#a82e5f"/>
<circle cx="223.9" cy="737.4" r="1.55" fill="#cc4248"/>
<circle cx="244.9" cy="737.4" r="1.55" fill="#57106e"/>
<circle cx="142.1" cy="761.82" r="1.55" fill="#fbbe23"/>
<circle cx="144.5" cy="761.82" r="1.55" fill="#fbbe23"/>
<circle cx="147" cy="761.82" r="1.55" fill="#fbbe23"/>
<circle cx="147.7" cy="762.14" r="1.55" fill="#57106e"/>
<circle cx="148.56" cy="761.65" r="1.55" fill="#fbbe23"/>
<circle cx="149.06" cy="761.31" r="1.55" fill="#fbbe23"/>
<circle cx="150.09" cy="761.8" r="1.55" fill="#fbbe23"/>
<circle cx="150.74" cy="762.13" r="1.55" fill="#57106e"/>
<circle cx="151.82" cy="762.11" r="1.55" fill="#fbbe23"/>
<circle cx="152.92" cy="761.55" r="1.55" fill="#57106e"/>
<circle cx="153.53" cy="761.47" r="1.55" fill="#57106e"/>
<circle cx="154.04" cy="761.88" r="1.55" fill="#fbbe23"/>
<circle cx="154.81" cy="762.31" r="1.55" fill="#fbbe23"/>
<circle cx="155.34" cy="761.93" r="1.55" fill="#57106e"/>
<circle cx="155.89" cy="762.33" r="1.55" fill="#57106e"/>
<circle cx="156.73" cy="761.97" r="1.55" fill="#fbbe23"/>
<circle cx="157.64" cy="761.7" r="1.55" fill="#57106e"/>
<circle cx="158.22" cy="762.33" r="1.55" fill="#fbbe23"/>
<circle cx="158.85" cy="761.31" r="1.55" fill="#57106e"/>
<circle cx="159.55" cy="762.26" r="1.55" fill="#fbbe23"/>
<circle cx="160.57" cy="761.32" r="1.55" fill="#fbbe23"/>
<circle cx="161.5" cy="761.98" r="1.55" fill="#fbbe23"/>
<circle cx="162.02" cy="761.43" r="1.55" fill="#fbbe23"/>
<circle cx="163.1" cy="762.01" r="1.55" fill="#57106e"/>
<circle cx="163.96" cy="762.1" r="1.55" fill="#57106e"/>
<circle cx="165.61" cy="760.47" r="1.55" fill="#57106e"/>
<circle cx="165.79" cy="762.75" r="1.55" fill="#57106e"/>
<circle cx="167.09" cy="760.15" r="1.55" fill="#57106e"/>
<circle cx="167.44" cy="762.98" r="1.55" fill="#57106e"/>
<circle cx="168.97" cy="759.72" r="1.55" fill="#57106e"/>
<circle cx="168.43" cy="764" r="1.55" fill="#57106e"/>
<circle cx="170.08" cy="759.57" r="1.55" fill="#57106e"/>
<circle cx="170.59" cy="764.56" r="1.55" fill="#57106e"/>
<circle cx="171.51" cy="757.94" r="1.55" fill="#57106e"/>
<circle cx="171.48" cy="765.92" r="1.55" fill="#57106e"/>
<circle cx="173.57" cy="754.94" r="1.55" fill="#57106e"/>
<circle cx="173.26" cy="768.68" r="1.55" fill="#57106e"/>
<circle cx="175.06" cy="753.42" r="1.55" fill="#57106e"/>
<circle cx="174.9" cy="769.99" r="1.55" fill="#57106e"/>
<circle cx="176.08" cy="756.77" r="1.55" fill="#57106e"/>
<circle cx="176.47" cy="766.64" r="1.55" fill="#57106e"/>
<circle cx="177.52" cy="759.42" r="1.55" fill="#57106e"/>
<circle cx="177.61" cy="764.39" r="1.55" fill="#57106e"/>
<circle cx="179.02" cy="759.89" r="1.55" fill="#57106e"/>
<circle cx="179.57" cy="763.51" r="1.55" fill="#57106e"/>
<circle cx="167.52" cy="761.81" r="1.55" fill="#fbbe23"/>
<circle cx="178.55" cy="760.87" r="1.55" fill="#ea632a"/>
<circle cx="165.85" cy="762.29" r="1.55" fill="#fbbe23"/>
<circle cx="168.17" cy="761.78" r="1.55" fill="#fbbe23"/>
<circle cx="168.87" cy="761.18" r="1.55" fill="#fbbe23"/>
<circle cx="179.87" cy="762.61" r="1.55" fill="#ea632a"/>
<circle cx="166.46" cy="761.54" r="1.55" fill="#ea632a"/>
<circle cx="165.86" cy="762.09" r="1.55" fill="#fbbe23"/>
<circle cx="179.68" cy="760.99" r="1.55" fill="#ea632a"/>
<circle cx="170.11" cy="760.83" r="1.55" fill="#fbbe23"/>
<circle cx="177.48" cy="761.9" r="1.55" fill="#fbbe23"/>
<circle cx="171.53" cy="763.39" r="1.55" fill="#fbbe23"/>
<circle cx="179.7" cy="761.93" r="1.55" fill="#57106e"/>
<circle cx="180.26" cy="762.23" r="1.55" fill="#fbbe23"/>
<circle cx="180.83" cy="761.19" r="1.55" fill="#57106e"/>
<circle cx="181.64" cy="761.81" r="1.55" fill="#57106e"/>
<circle cx="182.21" cy="761.99" r="1.55" fill="#fbbe23"/>
<circle cx="183.15" cy="761.94" r="1.55" fill="#57106e"/>
<circle cx="183.64" cy="762.17" r="1.55" fill="#57106e"/>
<circle cx="184.52" cy="761.15" r="1.55" fill="#fbbe23"/>
<circle cx="185.18" cy="762.33" r="1.55" fill="#fbbe23"/>
<circle cx="185.92" cy="761.09" r="1.55" fill="#fbbe23"/>
<circle cx="186.66" cy="762.38" r="1.55" fill="#57106e"/>
<circle cx="187.22" cy="762.32" r="1.55" fill="#57106e"/>
<circle cx="187.77" cy="761.63" r="1.55" fill="#57106e"/>
<circle cx="188.22" cy="761.85" r="1.55" fill="#57106e"/>
<circle cx="188.98" cy="761.25" r="1.55" fill="#fbbe23"/>
<circle cx="189.92" cy="762.37" r="1.55" fill="#57106e"/>
<circle cx="190.8" cy="761.64" r="1.55" fill="#fbbe23"/>
<circle cx="191.28" cy="762.38" r="1.55" fill="#fbbe23"/>
<circle cx="192.03" cy="761.84" r="1.55" fill="#57106e"/>
<circle cx="192.8" cy="761.1" r="1.55" fill="#fbbe23"/>
<circle cx="193.39" cy="761.34" r="1.55" fill="#57106e"/>
<circle cx="193.99" cy="762.3" r="1.55" fill="#57106e"/>
<circle cx="194.49" cy="762.12" r="1.55" fill="#57106e"/>
<circle cx="194.95" cy="761.97" r="1.55" fill="#57106e"/>
<circle cx="195.72" cy="762.12" r="1.55" fill="#57106e"/>
<circle cx="196.69" cy="762.15" r="1.55" fill="#57106e"/>
<circle cx="197.21" cy="761.81" r="1.55" fill="#57106e"/>
<circle cx="197.5" cy="761.71" r="1.55" fill="#fbbe23"/>
<circle cx="198.07" cy="761.85" r="1.55" fill="#fbbe23"/>
<circle cx="198.64" cy="761.84" r="1.55" fill="#fbbe23"/>
<circle cx="199.23" cy="761.92" r="1.55" fill="#fbbe23"/>
<circle cx="199.96" cy="761.8" r="1.55" fill="#fbbe23"/>
<circle cx="200.77" cy="761.79" r="1.55" fill="#fbbe23"/>
<circle cx="201.75" cy="761.77" r="1.55" fill="#fbbe23"/>
<circle cx="202.44" cy="761.8" r="1.55" fill="#fbbe23"/>
<circle cx="203.44" cy="761.94" r="1.55" fill="#fbbe23"/>
<circle cx="204.46" cy="761.69" r="1.55" fill="#fbbe23"/>
<circle cx="205.55" cy="761.95" r="1.55" fill="#fbbe23"/>
<circle cx="206.3" cy="761.86" r="1.55" fill="#fbbe23"/>
<circle cx="207.12" cy="761.69" r="1.55" fill="#fbbe23"/>
<circle cx="207.93" cy="761.68" r="1.55" fill="#fbbe23"/>
<circle cx="209.03" cy="761.9" r="1.55" fill="#fbbe23"/>
<circle cx="209.91" cy="761.91" r="1.55" fill="#fbbe23"/>
<circle cx="210.96" cy="761.68" r="1.55" fill="#fbbe23"/>
<circle cx="211.61" cy="761.87" r="1.55" fill="#fbbe23"/>
<circle cx="212.44" cy="761.95" r="1.55" fill="#fbbe23"/>
<circle cx="213.08" cy="761.83" r="1.55" fill="#fbbe23"/>
<circle cx="214.17" cy="761.76" r="1.55" fill="#fbbe23"/>
<circle cx="215.06" cy="761.71" r="1.55" fill="#fbbe23"/>
<circle cx="216.15" cy="761.82" r="1.55" fill="#fbbe23"/>
<circle cx="216.93" cy="761.83" r="1.55" fill="#fbbe23"/>
<circle cx="217.49" cy="761.71" r="1.55" fill="#fbbe23"/>
<circle cx="218.23" cy="761.76" r="1.55" fill="#fbbe23"/>
<circle cx="234" cy="761.82" r="1.55" fill="#fbbe23"/>
<circle cx="239.5" cy="761.82" r="1.55" fill="#fbbe23"/>
<circle cx="137.7" cy="786.24" r="1.55" fill="#fbbe23"/>
<circle cx="146.6" cy="786.29" r="1.55" fill="#ea632a"/>
<circle cx="147.47" cy="786.32" r="1.55" fill="#57106e"/>
<circle cx="148.08" cy="786.47" r="1.55" fill="#fbbe23"/>
<circle cx="148.91" cy="786.36" r="1.55" fill="#fbbe23"/>
<circle cx="149.59" cy="785.96" r="1.55" fill="#fbbe23"/>
<circle cx="150.4" cy="786.11" r="1.55" fill="#57106e"/>
<circle cx="150.88" cy="786.08" r="1.55" fill="#ea632a"/>
<circle cx="151.52" cy="786.3" r="1.55" fill="#fbbe23"/>
<circle cx="152.18" cy="786.78" r="1.55" fill="#fbbe23"/>
<circle cx="153.15" cy="785.86" r="1.55" fill="#fbbe23"/>
<circle cx="154.19" cy="786.17" r="1.55" fill="#fbbe23"/>
<circle cx="154.92" cy="786.17" r="1.55" fill="#57106e"/>
<circle cx="155.47" cy="785.94" r="1.55" fill="#ea632a"/>
<circle cx="156.42" cy="785.86" r="1.55" fill="#fbbe23"/>
<circle cx="157.13" cy="786.43" r="1.55" fill="#57106e"/>
<circle cx="158.15" cy="786.59" r="1.55" fill="#57106e"/>
<circle cx="159.1" cy="786.51" r="1.55" fill="#57106e"/>
<circle cx="159.89" cy="786.55" r="1.55" fill="#57106e"/>
<circle cx="160.95" cy="785.83" r="1.55" fill="#ea632a"/>
<circle cx="161.44" cy="786.53" r="1.55" fill="#57106e"/>
<circle cx="162.24" cy="786.75" r="1.55" fill="#57106e"/>
<circle cx="162.98" cy="786.55" r="1.55" fill="#ea632a"/>
<circle cx="163.85" cy="786.11" r="1.55" fill="#fbbe23"/>
<circle cx="164.62" cy="786.49" r="1.55" fill="#fbbe23"/>
<circle cx="165.35" cy="786.3" r="1.55" fill="#fbbe23"/>
<circle cx="166.04" cy="786.56" r="1.55" fill="#ea632a"/>
<circle cx="167.96" cy="784.9" r="1.55" fill="#57106e"/>
<circle cx="167.84" cy="787.17" r="1.55" fill="#57106e"/>
<circle cx="169.56" cy="784.8" r="1.55" fill="#57106e"/>
<circle cx="169.17" cy="787.98" r="1.55" fill="#57106e"/>
<circle cx="170.86" cy="784.45" r="1.55" fill="#57106e"/>
<circle cx="171.27" cy="788.51" r="1.55" fill="#57106e"/>
<circle cx="172.26" cy="783.61" r="1.55" fill="#57106e"/>
<circle cx="172.83" cy="788.54" r="1.55" fill="#57106e"/>
<circle cx="173.64" cy="781.77" r="1.55" fill="#57106e"/>
<circle cx="174" cy="791" r="1.55" fill="#57106e"/>
<circle cx="175.72" cy="777.2" r="1.55" fill="#57106e"/>
<circle cx="175.9" cy="795.32" r="1.55" fill="#57106e"/>
<circle cx="177.01" cy="780.67" r="1.55" fill="#57106e"/>
<circle cx="176.91" cy="791.83" r="1.55" fill="#57106e"/>
<circle cx="178.58" cy="783.35" r="1.55" fill="#57106e"/>
<circle cx="178.86" cy="789.14" r="1.55" fill="#57106e"/>
<circle cx="180.02" cy="784" r="1.55" fill="#57106e"/>
<circle cx="179.9" cy="788.18" r="1.55" fill="#57106e"/>
<circle cx="181.55" cy="785.08" r="1.55" fill="#57106e"/>
<circle cx="181.8" cy="787.72" r="1.55" fill="#57106e"/>
<circle cx="173.81" cy="785.91" r="1.55" fill="#a82e5f"/>
<circle cx="180.95" cy="785.95" r="1.55" fill="#a82e5f"/>
<circle cx="178.42" cy="785" r="1.55" fill="#a82e5f"/>
<circle cx="180.7" cy="786.91" r="1.55" fill="#a82e5f"/>
<circle cx="168.55" cy="786.86" r="1.55" fill="#a82e5f"/>
<circle cx="178.49" cy="788.06" r="1.55" fill="#7f1e6c"/>
<circle cx="172.89" cy="784.99" r="1.55" fill="#a82e5f"/>
<circle cx="174.16" cy="786.27" r="1.55" fill="#a82e5f"/>
<circle cx="169.55" cy="786.49" r="1.55" fill="#a82e5f"/>
<circle cx="171.94" cy="787.77" r="1.55" fill="#a82e5f"/>
<circle cx="167.59" cy="786.13" r="1.55" fill="#7f1e6c"/>
<circle cx="171.29" cy="786.76" r="1.55" fill="#a82e5f"/>
<circle cx="171.26" cy="787.17" r="1.55" fill="#a82e5f"/>
<circle cx="176.35" cy="783.08" r="1.55" fill="#a82e5f"/>
<circle cx="180.9" cy="786.3" r="1.55" fill="#57106e"/>
<circle cx="181.74" cy="786.27" r="1.55" fill="#a82e5f"/>
<circle cx="182.53" cy="786.14" r="1.55" fill="#57106e"/>
<circle cx="183.08" cy="786.53" r="1.55" fill="#57106e"/>
<circle cx="183.59" cy="785.88" r="1.55" fill="#57106e"/>
<circle cx="184.53" cy="786.36" r="1.55" fill="#a82e5f"/>
<circle cx="185.02" cy="785.7" r="1.55" fill="#a82e5f"/>
<circle cx="185.66" cy="786.48" r="1.55" fill="#57106e"/>
<circle cx="186.21" cy="785.98" r="1.55" fill="#57106e"/>
<circle cx="187.21" cy="786.33" r="1.55" fill="#57106e"/>
<circle cx="187.93" cy="786.11" r="1.55" fill="#57106e"/>
<circle cx="188.91" cy="786.33" r="1.55" fill="#a82e5f"/>
<circle cx="189.62" cy="786.37" r="1.55" fill="#57106e"/>
<circle cx="190.1" cy="786.71" r="1.55" fill="#a82e5f"/>
<circle cx="190.74" cy="786.68" r="1.55" fill="#a82e5f"/>
<circle cx="191.37" cy="786.35" r="1.55" fill="#a82e5f"/>
<circle cx="192.12" cy="786.73" r="1.55" fill="#57106e"/>
<circle cx="192.8" cy="786.48" r="1.55" fill="#57106e"/>
<circle cx="193.44" cy="786.65" r="1.55" fill="#57106e"/>
<circle cx="194.36" cy="785.96" r="1.55" fill="#57106e"/>
<circle cx="195.03" cy="785.9" r="1.55" fill="#a82e5f"/>
<circle cx="195.65" cy="786.31" r="1.55" fill="#57106e"/>
<circle cx="196.42" cy="786.11" r="1.55" fill="#57106e"/>
<circle cx="196.91" cy="785.83" r="1.55" fill="#a82e5f"/>
<circle cx="204.1" cy="786.24" r="1.55" fill="#a82e5f"/>
<circle cx="212.9" cy="786.24" r="1.55" fill="#a82e5f"/>
<circle cx="219.6" cy="786.24" r="1.55" fill="#f98e09"/>
<circle cx="222.9" cy="786.24" r="1.55" fill="#fbbe23"/>
<circle cx="245" cy="786.24" r="1.55" fill="#cc4248"/>
<circle cx="252.1" cy="786.24" r="1.55" fill="#cc4248"/>
<circle cx="134.4" cy="810.66" r="1.55" fill="#fbbe23"/>
<circle cx="141" cy="810.66" r="1.55" fill="#fbbe23"/>
<circle cx="145.4" cy="810.38" r="1.55" fill="#fbbe23"/>
<circle cx="145.9" cy="810.37" r="1.55" fill="#fbbe23"/>
<circle cx="146.57" cy="810.49" r="1.55" fill="#fbbe23"/>
<circle cx="147.27" cy="810.21" r="1.55" fill="#fbbe23"/>
<circle cx="148.03" cy="810.25" r="1.55" fill="#fbbe23"/>
<circle cx="148.8" cy="811" r="1.55" fill="#fbbe23"/>
<circle cx="149.33" cy="810.9" r="1.55" fill="#fbbe23"/>
<circle cx="150.15" cy="810.34" r="1.55" fill="#fbbe23"/>
<circle cx="150.75" cy="810.36" r="1.55" fill="#fbbe23"/>
<circle cx="151.17" cy="810.89" r="1.55" fill="#fbbe23"/>
<circle cx="151.96" cy="810.76" r="1.55" fill="#fbbe23"/>
<circle cx="152.44" cy="810.78" r="1.55" fill="#fbbe23"/>
<circle cx="153.22" cy="810.25" r="1.55" fill="#fbbe23"/>
<circle cx="153.84" cy="810.41" r="1.55" fill="#fbbe23"/>
<circle cx="154.38" cy="810.83" r="1.55" fill="#fbbe23"/>
<circle cx="154.89" cy="810.54" r="1.55" fill="#fbbe23"/>
<circle cx="155.34" cy="811.05" r="1.55" fill="#fbbe23"/>
<circle cx="156.02" cy="810.23" r="1.55" fill="#fbbe23"/>
<circle cx="156.55" cy="810.66" r="1.55" fill="#fbbe23"/>
<circle cx="156.94" cy="810.45" r="1.55" fill="#fbbe23"/>
<circle cx="157.36" cy="810.9" r="1.55" fill="#fbbe23"/>
<circle cx="157.92" cy="811.11" r="1.55" fill="#fbbe23"/>
<circle cx="158.7" cy="811.06" r="1.55" fill="#fbbe23"/>
<circle cx="159.19" cy="810.14" r="1.55" fill="#fbbe23"/>
<circle cx="159.87" cy="810.5" r="1.55" fill="#fbbe23"/>
<circle cx="160.55" cy="810.88" r="1.55" fill="#fbbe23"/>
<circle cx="161.31" cy="810.5" r="1.55" fill="#fbbe23"/>
<circle cx="161.76" cy="810.24" r="1.55" fill="#fbbe23"/>
<circle cx="162.47" cy="810.89" r="1.55" fill="#fbbe23"/>
<circle cx="162.85" cy="810.29" r="1.55" fill="#fbbe23"/>
<circle cx="163.36" cy="810.53" r="1.55" fill="#fbbe23"/>
<circle cx="163.87" cy="810.81" r="1.55" fill="#fbbe23"/>
<circle cx="164.63" cy="810.74" r="1.55" fill="#fbbe23"/>
<circle cx="165.11" cy="810.59" r="1.55" fill="#fbbe23"/>
<circle cx="165.64" cy="810.11" r="1.55" fill="#fbbe23"/>
<circle cx="166.37" cy="810.42" r="1.55" fill="#fbbe23"/>
<circle cx="167.14" cy="810.78" r="1.55" fill="#fbbe23"/>
<circle cx="167.62" cy="810.23" r="1.55" fill="#fbbe23"/>
<circle cx="168.08" cy="811.12" r="1.55" fill="#fbbe23"/>
<circle cx="168.48" cy="810.87" r="1.55" fill="#fbbe23"/>
<circle cx="169.2" cy="811.02" r="1.55" fill="#fbbe23"/>
<circle cx="169.6" cy="811.15" r="1.55" fill="#fbbe23"/>
<circle cx="170.41" cy="810.87" r="1.55" fill="#fbbe23"/>
<circle cx="171.17" cy="810.8" r="1.55" fill="#fbbe23"/>
<circle cx="171.56" cy="810.88" r="1.55" fill="#fbbe23"/>
<circle cx="171.84" cy="809.23" r="1.55" fill="#57106e"/>
<circle cx="171.71" cy="811.59" r="1.55" fill="#57106e"/>
<circle cx="173.16" cy="809.1" r="1.55" fill="#57106e"/>
<circle cx="172.81" cy="812.43" r="1.55" fill="#57106e"/>
<circle cx="174.88" cy="807.86" r="1.55" fill="#57106e"/>
<circle cx="174.54" cy="813.39" r="1.55" fill="#57106e"/>
<circle cx="175.65" cy="801.63" r="1.55" fill="#57106e"/>
<circle cx="175.93" cy="819.43" r="1.55" fill="#57106e"/>
<circle cx="177.35" cy="806.35" r="1.55" fill="#57106e"/>
<circle cx="177.67" cy="814.86" r="1.55" fill="#57106e"/>
<circle cx="178.79" cy="808.63" r="1.55" fill="#57106e"/>
<circle cx="179.01" cy="812.5" r="1.55" fill="#57106e"/>
<circle cx="180.85" cy="809.2" r="1.55" fill="#57106e"/>
<circle cx="180.34" cy="812.26" r="1.55" fill="#57106e"/>
<circle cx="179.7" cy="810.27" r="1.55" fill="#57106e"/>
<circle cx="180.39" cy="811.01" r="1.55" fill="#57106e"/>
<circle cx="181.36" cy="810.3" r="1.55" fill="#57106e"/>
<circle cx="182.22" cy="810.62" r="1.55" fill="#fbbe23"/>
<circle cx="183.24" cy="810.24" r="1.55" fill="#57106e"/>
<circle cx="183.95" cy="810.34" r="1.55" fill="#57106e"/>
<circle cx="184.61" cy="810.33" r="1.55" fill="#57106e"/>
<circle cx="185.37" cy="810.23" r="1.55" fill="#57106e"/>
<circle cx="186.15" cy="810.51" r="1.55" fill="#57106e"/>
<circle cx="186.68" cy="810.12" r="1.55" fill="#fbbe23"/>
<circle cx="187.64" cy="810.2" r="1.55" fill="#57106e"/>
<circle cx="188.75" cy="810.73" r="1.55" fill="#57106e"/>
<circle cx="189.54" cy="810.59" r="1.55" fill="#57106e"/>
<circle cx="190.37" cy="810.12" r="1.55" fill="#fbbe23"/>
<circle cx="190.8" cy="810.7" r="1.55" fill="#fbbe23"/>
<circle cx="191.92" cy="810.59" r="1.55" fill="#fbbe23"/>
<circle cx="192.63" cy="810.52" r="1.55" fill="#fbbe23"/>
<circle cx="193.9" cy="810.6" r="1.55" fill="#fbbe23"/>
<circle cx="195.02" cy="810.76" r="1.55" fill="#fbbe23"/>
<circle cx="195.75" cy="810.75" r="1.55" fill="#fbbe23"/>
<circle cx="196.94" cy="810.61" r="1.55" fill="#fbbe23"/>
<circle cx="198.2" cy="810.61" r="1.55" fill="#fbbe23"/>
<circle cx="199.24" cy="810.62" r="1.55" fill="#fbbe23"/>
<circle cx="200.04" cy="810.52" r="1.55" fill="#fbbe23"/>
<circle cx="201.14" cy="810.76" r="1.55" fill="#fbbe23"/>
<circle cx="202.46" cy="810.79" r="1.55" fill="#fbbe23"/>
<circle cx="222.2" cy="810.66" r="1.55" fill="#fbbe23"/>
<line x1="87.8" y1="615.3" x2="90" y2="615.3" stroke="#333333" stroke-width="0.55"/>
<text x="86.4" y="617.5" font-size="6.45" fill="#444444" text-anchor="end">Surgery_Type</text>
<line x1="87.8" y1="639.72" x2="90" y2="639.72" stroke="#333333" stroke-width="0.55"/>
<text x="86.4" y="641.92" font-size="6.45" fill="#444444" text-anchor="end">N_Stage</text>
<line x1="87.8" y1="664.14" x2="90" y2="664.14" stroke="#333333" stroke-width="0.55"/>
<text x="86.4" y="666.34" font-size="6.45" fill="#444444" text-anchor="end">Tumor_Size</text>
<line x1="87.8" y1="688.56" x2="90" y2="688.56" stroke="#333333" stroke-width="0.55"/>
<text x="86.4" y="690.76" font-size="6.45" fill="#444444" text-anchor="end">T_Stage</text>
<line x1="87.8" y1="712.98" x2="90" y2="712.98" stroke="#333333" stroke-width="0.55"/>
<text x="86.4" y="715.18" font-size="6.45" fill="#444444" text-anchor="end">Surgery_Other_Sites</text>
<line x1="87.8" y1="737.4" x2="90" y2="737.4" stroke="#333333" stroke-width="0.55"/>
<text x="86.4" y="739.6" font-size="6.45" fill="#444444" text-anchor="end">Age</text>
<line x1="87.8" y1="761.82" x2="90" y2="761.82" stroke="#333333" stroke-width="0.55"/>
<text x="86.4" y="764.02" font-size="6.45" fill="#444444" text-anchor="end">Chemotherapy</text>
<line x1="87.8" y1="786.24" x2="90" y2="786.24" stroke="#333333" stroke-width="0.55"/>
<text x="86.4" y="788.44" font-size="6.45" fill="#444444" text-anchor="end">Histology</text>
<line x1="87.8" y1="810.66" x2="90" y2="810.66" stroke="#333333" stroke-width="0.55"/>
<text x="86.4" y="812.86" font-size="6.45" fill="#444444" text-anchor="end">Radiotherapy</text>
<line x1="90.1" y1="824.5" x2="90.1" y2="826.7" stroke="#333333" stroke-width="0.55"/>
<text x="90.1" y="833" font-size="6.45" fill="#444444" text-anchor="middle">−0.2</text>
<line x1="132.85" y1="824.5" x2="132.85" y2="826.7" stroke="#333333" stroke-width="0.55"/>
<text x="132.85" y="833" font-size="6.45" fill="#444444" text-anchor="middle">−0.1</text>
<line x1="175.6" y1="824.5" x2="175.6" y2="826.7" stroke="#333333" stroke-width="0.55"/>
<text x="175.6" y="833" font-size="6.45" fill="#444444" text-anchor="middle">0.0</text>
<line x1="218.35" y1="824.5" x2="218.35" y2="826.7" stroke="#333333" stroke-width="0.55"/>
<text x="218.35" y="833" font-size="6.45" fill="#444444" text-anchor="middle">0.1</text>
<line x1="261.1" y1="824.5" x2="261.1" y2="826.7" stroke="#333333" stroke-width="0.55"/>
<text x="261.1" y="833" font-size="6.45" fill="#444444" text-anchor="middle">0.2</text>
<line x1="303.85" y1="824.5" x2="303.85" y2="826.7" stroke="#333333" stroke-width="0.55"/>
<text x="303.85" y="833" font-size="6.45" fill="#444444" text-anchor="middle">0.3</text>
<text x="208.2" y="842.2" font-size="7.6" fill="#000" text-anchor="middle">SHAP value</text>
<defs><linearGradient id="lg" x1="0" y1="1" x2="0" y2="0"><stop offset="0" stop-color="#57106e"/><stop offset="0.1667" stop-color="#7f1e6c"/><stop offset="0.3333" stop-color="#a82e5f"/><stop offset="0.5" stop-color="#cc4248"/><stop offset="0.6667" stop-color="#ea632a"/><stop offset="0.8333" stop-color="#f98e09"/><stop offset="1" stop-color="#fbbe23"/></linearGradient></defs>
<rect x="341.7" y="672.8" width="4.5" height="80" fill="url(#lg)"/>
<text x="349.4" y="675.6" font-size="6.1" fill="#000">High</text>
<text x="349.4" y="755" font-size="6.1" fill="#000">Low</text>
<text x="337.9" y="713" font-size="7.6" fill="#000" text-anchor="middle" transform="rotate(-90 337.9 713)">Feature value</text>
</g>
<g font-family='"Liberation Sans", sans-serif'>
<line x1="536.3" y1="332.8" x2="696.9" y2="332.8" stroke="#ebebeb" stroke-width="0.6"/>
<line x1="536.3" y1="346.96" x2="696.9" y2="346.96" stroke="#ebebeb" stroke-width="0.6"/>
<line x1="536.3" y1="361.12" x2="696.9" y2="361.12" stroke="#ebebeb" stroke-width="0.6"/>
<line x1="536.3" y1="375.28" x2="696.9" y2="375.28" stroke="#ebebeb" stroke-width="0.6"/>
<line x1="536.3" y1="389.44" x2="696.9" y2="389.44" stroke="#ebebeb" stroke-width="0.6"/>
<line x1="536.3" y1="403.6" x2="696.9" y2="403.6" stroke="#ebebeb" stroke-width="0.6"/>
<line x1="536.3" y1="417.76" x2="696.9" y2="417.76" stroke="#ebebeb" stroke-width="0.6"/>
<line x1="536.3" y1="431.92" x2="696.9" y2="431.92" stroke="#ebebeb" stroke-width="0.6"/>
<line x1="536.3" y1="446.08" x2="696.9" y2="446.08" stroke="#ebebeb" stroke-width="0.6"/>
<polygon points="546.32,328.3 644.66,328.3 644.66,337.3 546.32,337.3 543.12,332.8" fill="#a52c60" stroke="#7d2048" stroke-width="0.4"/>
<line x1="644.66" y1="337.3" x2="644.66" y2="342.46" stroke="#333333" stroke-width="0.5" stroke-dasharray="0.8,0.8"/>
<text x="593.89" y="335.18" font-size="6.6" fill="#ffffff" text-anchor="middle">−0.0311</text>
<text x="533" y="334.5" font-size="4.7" fill="#454545" text-anchor="end">Tumor_Size = Unknown</text>
<polygon points="575.45,342.46 641.46,342.46 644.66,346.96 641.46,351.46 575.45,351.46" fill="#f7d13d" stroke="#b39624" stroke-width="0.4"/>
<line x1="575.45" y1="351.46" x2="575.45" y2="356.62" stroke="#333333" stroke-width="0.5" stroke-dasharray="0.8,0.8"/>
<text x="610.06" y="349.34" font-size="6.6" fill="#000000" text-anchor="middle" stroke="#000" stroke-width="0.12">+0.0212</text>
<text x="533" y="348.66" font-size="4.7" fill="#454545" text-anchor="end">Surgery_Type = Local tumor destruction/excision</text>
<polygon points="578.65,356.62 630.95,356.62 630.95,365.62 578.65,365.62 575.45,361.12" fill="#a52c60" stroke="#7d2048" stroke-width="0.4"/>
<line x1="630.95" y1="365.62" x2="630.95" y2="370.78" stroke="#333333" stroke-width="0.5" stroke-dasharray="0.8,0.8"/>
<text x="603.2" y="363.5" font-size="6.6" fill="#ffffff" text-anchor="middle">−0.017</text>
<text x="533" y="362.82" font-size="4.7" fill="#454545" text-anchor="end">N_Stage = N0</text>
<polygon points="634.15,370.78 680.91,370.78 680.91,379.78 634.15,379.78 630.95,375.28" fill="#a52c60" stroke="#7d2048" stroke-width="0.4"/>
<line x1="680.91" y1="379.78" x2="680.91" y2="384.94" stroke="#333333" stroke-width="0.5" stroke-dasharray="0.8,0.8"/>
<text x="655.93" y="377.66" font-size="6.6" fill="#ffffff" text-anchor="middle">−0.0153</text>
<text x="533" y="376.98" font-size="4.7" fill="#454545" text-anchor="end">Chemotherapy = Yes</text>
<polygon points="643.03,384.94 677.71,384.94 680.91,389.44 677.71,393.94 643.03,393.94" fill="#f7d13d" stroke="#b39624" stroke-width="0.4"/>
<line x1="643.03" y1="393.94" x2="643.03" y2="399.1" stroke="#333333" stroke-width="0.5" stroke-dasharray="0.8,0.8"/>
<text x="661.97" y="391.67" font-size="6.2" fill="#000000" text-anchor="middle" stroke="#000" stroke-width="0.12">+0.0116</text>
<text x="533" y="391.14" font-size="4.7" fill="#454545" text-anchor="end">Age &gt;=80</text>
<polygon points="609.4,399.1 639.83,399.1 643.03,403.6 639.83,408.1 609.4,408.1" fill="#f7d13d" stroke="#b39624" stroke-width="0.4"/>
<line x1="609.4" y1="408.1" x2="609.4" y2="413.26" stroke="#333333" stroke-width="0.5" stroke-dasharray="0.8,0.8"/>
<text x="626.22" y="405.83" font-size="6.2" fill="#000000" text-anchor="middle" stroke="#000" stroke-width="0.12">+0.0103</text>
<text x="533" y="405.3" font-size="4.7" fill="#454545" text-anchor="end">Surgery_Other_Sites = No</text>
<polygon points="583.12,413.26 606.2,413.26 609.4,417.76 606.2,422.26 583.12,422.26" fill="#f7d13d" stroke="#b39624" stroke-width="0.4"/>
<line x1="583.12" y1="422.26" x2="583.12" y2="427.42" stroke="#333333" stroke-width="0.5" stroke-dasharray="0.8,0.8"/>
<text x="596.26" y="419.52" font-size="4.9" fill="#000000" text-anchor="middle" stroke="#000" stroke-width="0.12">+0.00805</text>
<text x="533" y="419.46" font-size="4.7" fill="#454545" text-anchor="end">Histology = Transitional cell carcinoma</text>
<polygon points="586.32,427.42 603.17,427.42 603.17,436.42 586.32,436.42 583.12,431.92" fill="#a52c60" stroke="#7d2048" stroke-width="0.4"/>
<line x1="603.17" y1="436.42" x2="603.17" y2="441.58" stroke="#333333" stroke-width="0.5" stroke-dasharray="0.8,0.8"/>
<text x="593.14" y="433.22" font-size="3.6" fill="#ffffff" text-anchor="middle">−0.00614</text>
<text x="533" y="433.62" font-size="4.7" fill="#454545" text-anchor="end">T_Stage = T2</text>
<polygon points="588.8,441.58 599.97,441.58 603.17,446.08 599.97,450.58 588.8,450.58" fill="#f7d13d" stroke="#b39624" stroke-width="0.4"/>
<text x="595.98" y="447.02" font-size="2.6" fill="#000000" text-anchor="middle" stroke="#000" stroke-width="0.12">+0.0044</text>
<text x="533" y="447.78" font-size="4.7" fill="#454545" text-anchor="end">Radiotherapy = No</text>
<line x1="543.12" y1="320.76" x2="543.12" y2="328.3" stroke="#333333" stroke-width="0.5" stroke-dasharray="0.8,0.8"/>
<text x="529.8" y="319.6" font-size="4.7" fill="#000">f(x)=−0.0143</text>
<line x1="588.8" y1="450.58" x2="588.8" y2="458.2" stroke="#333333" stroke-width="0.5" stroke-dasharray="0.8,0.8"/>
<text x="580.3" y="462.2" font-size="4.7" fill="#000">E[f(x)]=0</text>
<line x1="535.8" y1="472.4" x2="696.9" y2="472.4" stroke="#333333" stroke-width="0.6"/>
<line x1="556.15" y1="472.4" x2="556.15" y2="474" stroke="#333333" stroke-width="0.5"/>
<text x="556.15" y="478.9" font-size="4.6" fill="#454545" text-anchor="middle">−0.01</text>
<line x1="588.8" y1="472.4" x2="588.8" y2="474" stroke="#333333" stroke-width="0.5"/>
<text x="588.8" y="478.9" font-size="4.6" fill="#454545" text-anchor="middle">0.00</text>
<line x1="621.45" y1="472.4" x2="621.45" y2="474" stroke="#333333" stroke-width="0.5"/>
<text x="621.45" y="478.9" font-size="4.6" fill="#454545" text-anchor="middle">0.01</text>
<line x1="654.1" y1="472.4" x2="654.1" y2="474" stroke="#333333" stroke-width="0.5"/>
<text x="654.1" y="478.9" font-size="4.6" fill="#454545" text-anchor="middle">0.02</text>
<line x1="686.75" y1="472.4" x2="686.75" y2="474" stroke="#333333" stroke-width="0.5"/>
<text x="686.75" y="478.9" font-size="4.6" fill="#454545" text-anchor="middle">0.03</text>
<text x="616.9" y="486" font-size="5.75" fill="#000" text-anchor="middle">SHAP value</text>
<line x1="522.8" y1="593.3" x2="696.3" y2="593.3" stroke="#ebebeb" stroke-width="0.6"/>
<line x1="522.8" y1="608.6" x2="696.3" y2="608.6" stroke="#ebebeb" stroke-width="0.6"/>
<line x1="522.8" y1="623.9" x2="696.3" y2="623.9" stroke="#ebebeb" stroke-width="0.6"/>
<line x1="522.8" y1="639.2" x2="696.3" y2="639.2" stroke="#ebebeb" stroke-width="0.6"/>
<line x1="522.8" y1="654.5" x2="696.3" y2="654.5" stroke="#ebebeb" stroke-width="0.6"/>
<line x1="522.8" y1="669.8" x2="696.3" y2="669.8" stroke="#ebebeb" stroke-width="0.6"/>
<line x1="522.8" y1="685.1" x2="696.3" y2="685.1" stroke="#ebebeb" stroke-width="0.6"/>
<line x1="522.8" y1="700.4" x2="696.3" y2="700.4" stroke="#ebebeb" stroke-width="0.6"/>
<line x1="522.8" y1="715.7" x2="696.3" y2="715.7" stroke="#ebebeb" stroke-width="0.6"/>
<polygon points="596.95,588.4 676.48,588.4 679.88,593.3 676.48,598.2 596.95,598.2" fill="#f7d13d" stroke="#b39624" stroke-width="0.4"/>
<line x1="596.95" y1="598.2" x2="596.95" y2="603.7" stroke="#333333" stroke-width="0.5" stroke-dasharray="0.8,0.8"/>
<text x="638.41" y="595.78" font-size="6.9" fill="#000000" text-anchor="middle" stroke="#000" stroke-width="0.12">+0.0547</text>
<text x="517.5" y="595" font-size="5.05" fill="#454545" text-anchor="end">Tumor_Size = 4.1-6.0</text>
<polygon points="600.35,603.7 668.2,603.7 668.2,613.5 600.35,613.5 596.95,608.6" fill="#a52c60" stroke="#7d2048" stroke-width="0.4"/>
<line x1="668.2" y1="613.5" x2="668.2" y2="619" stroke="#333333" stroke-width="0.5" stroke-dasharray="0.8,0.8"/>
<text x="632.58" y="611.08" font-size="6.9" fill="#ffffff" text-anchor="middle">−0.047</text>
<text x="517.5" y="610.3" font-size="5.05" fill="#454545" text-anchor="end">N_Stage = N0</text>
<polygon points="616.51,619 664.8,619 668.2,623.9 664.8,628.8 616.51,628.8" fill="#f7d13d" stroke="#b39624" stroke-width="0.4"/>
<line x1="616.51" y1="628.8" x2="616.51" y2="634.3" stroke="#333333" stroke-width="0.5" stroke-dasharray="0.8,0.8"/>
<text x="642.36" y="626.38" font-size="6.9" fill="#000000" text-anchor="middle" stroke="#000" stroke-width="0.12">+0.0341</text>
<text x="517.5" y="625.6" font-size="5.05" fill="#454545" text-anchor="end">Surgery_Type = Partial cystectomy</text>
<polygon points="566.48,634.3 613.11,634.3 616.51,639.2 613.11,644.1 566.48,644.1" fill="#f7d13d" stroke="#b39624" stroke-width="0.4"/>
<line x1="566.48" y1="644.1" x2="566.48" y2="649.6" stroke="#333333" stroke-width="0.5" stroke-dasharray="0.8,0.8"/>
<text x="591.49" y="641.68" font-size="6.9" fill="#000000" text-anchor="middle" stroke="#000" stroke-width="0.12">+0.033</text>
<text x="517.5" y="640.9" font-size="5.05" fill="#454545" text-anchor="end">Age = &gt;80</text>
<polygon points="569.88,649.6 594.98,649.6 594.98,659.4 569.88,659.4 566.48,654.5" fill="#a52c60" stroke="#7d2048" stroke-width="0.4"/>
<line x1="594.98" y1="659.4" x2="594.98" y2="664.9" stroke="#333333" stroke-width="0.5" stroke-dasharray="0.8,0.8"/>
<text x="580.73" y="656.98" font-size="6.9" fill="#ffffff" text-anchor="middle">−0.0188</text>
<text x="517.5" y="656.2" font-size="5.05" fill="#454545" text-anchor="end">Radiotherapy = Yes</text>
<polygon points="569.82,664.9 591.58,664.9 594.98,669.8 591.58,674.7 569.82,674.7" fill="#f7d13d" stroke="#b39624" stroke-width="0.4"/>
<line x1="569.82" y1="674.7" x2="569.82" y2="680.2" stroke="#333333" stroke-width="0.5" stroke-dasharray="0.8,0.8"/>
<text x="582.4" y="672.07" font-size="6.3" fill="#000000" text-anchor="middle" stroke="#000" stroke-width="0.12">+0.0166</text>
<text x="517.5" y="671.5" font-size="5.05" fill="#454545" text-anchor="end">Surgery_Other_Sites = No</text>
<polygon points="547.68,680.2 566.42,680.2 569.82,685.1 566.42,690 547.68,690" fill="#f7d13d" stroke="#b39624" stroke-width="0.4"/>
<line x1="547.68" y1="690" x2="547.68" y2="695.5" stroke="#333333" stroke-width="0.5" stroke-dasharray="0.8,0.8"/>
<text x="558.75" y="686.9" font-size="5" fill="#000000" text-anchor="middle" stroke="#000" stroke-width="0.12">+0.0146</text>
<text x="517.5" y="686.8" font-size="5.05" fill="#454545" text-anchor="end">Histology = Transitional cell carcinoma</text>
<polygon points="533.74,695.5 544.28,695.5 547.68,700.4 544.28,705.3 533.74,705.3" fill="#f7d13d" stroke="#b39624" stroke-width="0.4"/>
<line x1="533.74" y1="705.3" x2="533.74" y2="710.8" stroke="#333333" stroke-width="0.5" stroke-dasharray="0.8,0.8"/>
<text x="540.71" y="701.41" font-size="2.8" fill="#000000" text-anchor="middle" stroke="#000" stroke-width="0.12">+0.0092</text>
<text x="517.5" y="702.1" font-size="5.05" fill="#454545" text-anchor="end">Chemotherapy = No</text>
<polygon points="530.4,710.8 532.07,710.8 533.74,715.7 532.07,720.6 530.4,720.6" fill="#f7d13d" stroke="#b39624" stroke-width="0.4"/>
<text x="532.07" y="716.42" font-size="2" fill="#000000" text-anchor="middle" stroke="#000" stroke-width="0.12"></text>
<text x="517.5" y="717.4" font-size="5.05" fill="#454545" text-anchor="end">T_Stage = T2</text>
<line x1="679.88" y1="580.29" x2="679.88" y2="588.4" stroke="#333333" stroke-width="0.5" stroke-dasharray="0.8,0.8"/>
<text x="666" y="577.9" font-size="4.9" fill="#000">f(x)=0.0994</text>
<line x1="530.4" y1="720.6" x2="530.4" y2="730" stroke="#333333" stroke-width="0.5" stroke-dasharray="0.8,0.8"/>
<text x="521.4" y="734" font-size="4.9" fill="#000">E[f(x)]=0</text>
<line x1="522.3" y1="744.2" x2="696.3" y2="744.2" stroke="#333333" stroke-width="0.6"/>
<line x1="530.4" y1="744.2" x2="530.4" y2="745.8" stroke="#333333" stroke-width="0.5"/>
<text x="530.4" y="750.7" font-size="4.8" fill="#454545" text-anchor="middle">0.000</text>
<line x1="568.3" y1="744.2" x2="568.3" y2="745.8" stroke="#333333" stroke-width="0.5"/>
<text x="568.3" y="750.7" font-size="4.8" fill="#454545" text-anchor="middle">0.025</text>
<line x1="606.2" y1="744.2" x2="606.2" y2="745.8" stroke="#333333" stroke-width="0.5"/>
<text x="606.2" y="750.7" font-size="4.8" fill="#454545" text-anchor="middle">0.050</text>
<line x1="644.1" y1="744.2" x2="644.1" y2="745.8" stroke="#333333" stroke-width="0.5"/>
<text x="644.1" y="750.7" font-size="4.8" fill="#454545" text-anchor="middle">0.075</text>
<line x1="682" y1="744.2" x2="682" y2="745.8" stroke="#333333" stroke-width="0.5"/>
<text x="682" y="750.7" font-size="4.8" fill="#454545" text-anchor="middle">0.100</text>
<text x="609.9" y="758.2" font-size="6" fill="#000" text-anchor="middle">SHAP value</text>
<line x1="500.4" y1="489" x2="500.4" y2="550.4" stroke="#ececec" stroke-width="0.6"/>
<line x1="575.3" y1="489" x2="575.3" y2="550.4" stroke="#ececec" stroke-width="0.6"/>
<line x1="650.2" y1="489" x2="650.2" y2="550.4" stroke="#ececec" stroke-width="0.6"/>
<polygon points="457.3,511.5 475.2,511.5 478.4,517.3 475.2,523.1 457.3,523.1" fill="#f7d13d" stroke="#b39624" stroke-width="0.4"/>
<text x="469.05" y="519.1" font-size="5" fill="#000" text-anchor="middle">+0.0116</text>
<polygon points="478.6,511.5 505.6,511.5 508.8,517.3 505.6,523.1 478.6,523.1 481.8,517.3" fill="#f7d13d" stroke="#b39624" stroke-width="0.4"/>
<text x="494.9" y="519.32" font-size="5.6" fill="#000" text-anchor="middle">+0.0164</text>
<polygon points="509.2,511.5 545.6,511.5 548.8,517.3 545.6,523.1 509.2,523.1 512.4,517.3" fill="#f7d13d" stroke="#b39624" stroke-width="0.4"/>
<text x="530.2" y="519.32" font-size="5.6" fill="#000" text-anchor="middle">+0.0212</text>
<polygon points="552.1,511.5 607.6,511.5 604.4,517.3 607.6,523.1 552.1,523.1 548.9,517.3" fill="#a52c60" stroke="#7d2048" stroke-width="0.4"/>
<text x="579.45" y="519.32" font-size="5.6" fill="#fff" text-anchor="middle">−0.0311</text>
<polygon points="611.2,511.5 639.2,511.5 636,517.3 639.2,523.1 611.2,523.1 608,517.3" fill="#a52c60" stroke="#7d2048" stroke-width="0.4"/>
<text x="624.8" y="519.32" font-size="5.6" fill="#fff" text-anchor="middle">−0.017</text>
<polygon points="642.8,511.5 667.1,511.5 667.1,523.1 642.8,523.1 639.6,517.3" fill="#a52c60" stroke="#7d2048" stroke-width="0.4"/>
<text x="654.55" y="519.32" font-size="5.6" fill="#fff" text-anchor="middle">−0.0153</text>
<text x="496.4" y="497" font-size="4.25" fill="#000">Surgery_Type=Local tumor destruction/excision</text>
<text x="456" y="503.2" font-size="4.25" fill="#000">Age &gt;=80</text>
<text x="479.4" y="503.2" font-size="4.25" fill="#000">4 other features</text>
<text x="564.5" y="503.2" font-size="4.25" fill="#000">Tumor_Size=Unknown</text>
<text x="611.8" y="503.2" font-size="4.25" fill="#000">N_Stage=N0</text>
<text x="640" y="503.2" font-size="4.25" fill="#000">Chemotherapy=Yes</text>
<line x1="548.9" y1="523.2" x2="548.9" y2="529" stroke="#333333" stroke-width="0.5" stroke-dasharray="0.8,0.8"/>
<line x1="575.3" y1="523.2" x2="575.3" y2="539.6" stroke="#333333" stroke-width="0.5" stroke-dasharray="0.8,0.8"/>
<text x="537.4" y="533.6" font-size="4.4" fill="#000">f(x)=−0.0143</text>
<text x="567.2" y="543.8" font-size="4.4" fill="#000">E[f(x)]=0</text>
<line x1="428.4" y1="550.4" x2="694.8" y2="550.4" stroke="#333333" stroke-width="0.6"/>
<line x1="500.4" y1="550.4" x2="500.4" y2="551.9" stroke="#333333" stroke-width="0.5"/>
<text x="500.4" y="556.3" font-size="4.3" fill="#454545" text-anchor="middle">−0.04</text>
<line x1="575.3" y1="550.4" x2="575.3" y2="551.9" stroke="#333333" stroke-width="0.5"/>
<text x="575.3" y="556.3" font-size="4.3" fill="#454545" text-anchor="middle">0.00</text>
<line x1="650.2" y1="550.4" x2="650.2" y2="551.9" stroke="#333333" stroke-width="0.5"/>
<text x="650.2" y="556.3" font-size="4.3" fill="#454545" text-anchor="middle">0.04</text>
<text x="562.3" y="562.2" font-size="5.15" fill="#000" text-anchor="middle">SHAP value</text>
<line x1="525.6" y1="763" x2="525.6" y2="828.8" stroke="#ececec" stroke-width="0.6"/>
<line x1="616.6" y1="763" x2="616.6" y2="828.8" stroke="#ececec" stroke-width="0.6"/>
<polygon points="465.4,789.95 493,789.95 496.2,795.8 493,801.65 465.4,801.65" fill="#f7d13d" stroke="#b39624" stroke-width="0.4"/>
<text x="482" y="797.82" font-size="5.6" fill="#000" text-anchor="middle">+0.033</text>
<polygon points="496.4,789.95 523.8,789.95 527,795.8 523.8,801.65 496.4,801.65 499.6,795.8" fill="#f7d13d" stroke="#b39624" stroke-width="0.4"/>
<text x="512.9" y="797.82" font-size="5.6" fill="#000" text-anchor="middle">+0.0341</text>
<polygon points="527.4,789.95 561.8,789.95 565,795.8 561.8,801.65 527.4,801.65 530.6,795.8" fill="#f7d13d" stroke="#b39624" stroke-width="0.4"/>
<text x="547.4" y="797.82" font-size="5.6" fill="#000" text-anchor="middle">+0.0424</text>
<polygon points="565.4,789.95 612.5,789.95 615.7,795.8 612.5,801.65 565.4,801.65 568.6,795.8" fill="#f7d13d" stroke="#b39624" stroke-width="0.4"/>
<text x="591.75" y="797.82" font-size="5.6" fill="#000" text-anchor="middle">+0.0547</text>
<polygon points="619.1,789.95 658.6,789.95 655.4,795.8 658.6,801.65 619.1,801.65 615.9,795.8" fill="#a52c60" stroke="#7d2048" stroke-width="0.4"/>
<text x="638.45" y="797.82" font-size="5.6" fill="#fff" text-anchor="middle">−0.047</text>
<polygon points="662,789.95 675.9,789.95 675.9,801.65 662,801.65 658.8,795.8" fill="#a52c60" stroke="#7d2048" stroke-width="0.4"/>
<text x="668.55" y="797.02" font-size="3.4" fill="#fff" text-anchor="middle">−0.0188</text>
<text x="485.3" y="776.6" font-size="4.3" fill="#000">Surgery_Type=Partial cystectomy</text>
<text x="474.3" y="782" font-size="4.3" fill="#000">Age&gt;=80</text>
<text x="531.4" y="782" font-size="4.3" fill="#000">4 other features</text>
<text x="577.4" y="782" font-size="4.3" fill="#000">Tumor_Size=4.1-6.0</text>
<text x="623.2" y="782" font-size="4.3" fill="#000">N_Stage=N0</text>
<text x="652" y="782" font-size="4.3" fill="#000">Radiotherapy=Yes</text>
<line x1="525.6" y1="802" x2="525.6" y2="818.6" stroke="#333333" stroke-width="0.5" stroke-dasharray="0.8,0.8"/>
<line x1="615.7" y1="802" x2="615.7" y2="807.8" stroke="#333333" stroke-width="0.5" stroke-dasharray="0.8,0.8"/>
<text x="604.6" y="812" font-size="4.3" fill="#000">f(x)=0.0994</text>
<text x="518" y="822.6" font-size="4.3" fill="#000">E[f(x)]=0</text>
<line x1="438.4" y1="828.8" x2="702.9" y2="828.8" stroke="#333333" stroke-width="0.6"/>
<line x1="525.6" y1="828.8" x2="525.6" y2="830.3" stroke="#333333" stroke-width="0.5"/>
<text x="525.6" y="834.7" font-size="4.3" fill="#454545" text-anchor="middle">0.0</text>
<line x1="616.6" y1="828.8" x2="616.6" y2="830.3" stroke="#333333" stroke-width="0.5"/>
<text x="616.6" y="834.7" font-size="4.3" fill="#454545" text-anchor="middle">0.1</text>
<text x="570.7" y="840.6" font-size="5.3" fill="#000" text-anchor="middle">SHAP value</text>
</g>
<g font-family='"Liberation Sans", sans-serif' fill="#000" stroke="#000" stroke-width="0.45">
<text transform="translate(9.0 13.0) scale(0.86 1)" font-size="18.5">A</text>
<text transform="translate(7.5 364.9) scale(0.8 1)" font-size="19">B</text>
<text transform="translate(7.5 614.1) scale(0.8 1)" font-size="18.5">C</text>
<text transform="translate(391.3 364.3) scale(0.86 1)" font-size="18.5">D</text>
<text transform="translate(390.6 613.0) scale(0.74 1)" font-size="18.5">E</text>
</g>
</svg>
</body></html>
